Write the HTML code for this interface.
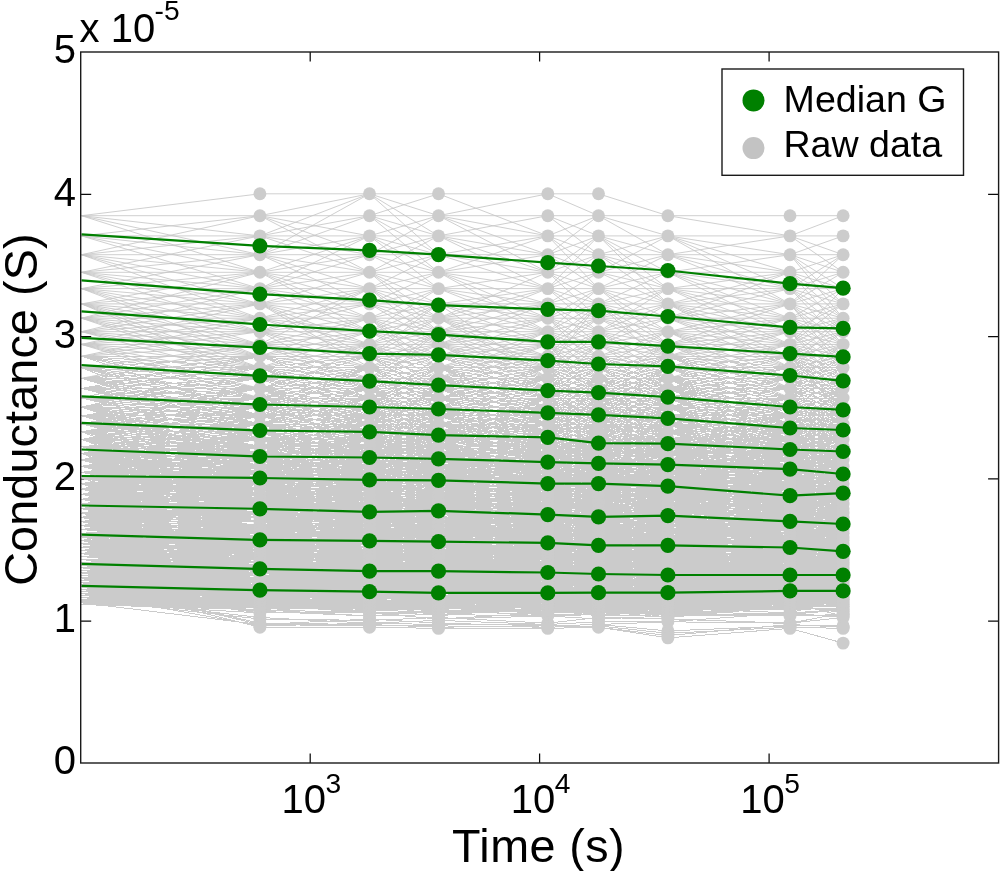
<!DOCTYPE html>
<html lang="en">
<head>
<meta charset="utf-8">
<title>Conductance vs Time</title>
<style>
html,body{margin:0;padding:0;background:#fff;}
body{width:1000px;height:871px;overflow:hidden;}
svg{display:block;}
text{fill:#000;}
</style>
</head>
<body>
<svg width="1000" height="871" viewBox="0 0 1000 871" font-family="'Liberation Sans', Arial, Helvetica, sans-serif">
<rect x="0" y="0" width="1000" height="871" fill="#fff"/>
<g id="ticks" fill="none" stroke="#0a0a0a" stroke-width="1.25"><path d="M310.2 763V753.5M310.2 52V61.5M539.6 763V753.5M539.6 52V61.5M769.1 763V753.5M769.1 52V61.5M80.7 621H91.2M998.6 621H988.1M80.7 478.8H91.2M998.6 478.8H988.1M80.7 336.6H91.2M998.6 336.6H988.1M80.7 194.4H91.2M998.6 194.4H988.1"/></g>
<g id="raw-lines" fill="none">
<path stroke="#c6c6c6" stroke-width="0.85" d="M81.5 215.7L259.9 193.8M81.5 215.7L259.9 215.7M81.5 215.7L259.9 235.9M81.5 215.7L259.9 254.7M81.5 215.7L259.9 272.3M81.5 235.9L259.9 215.7M81.5 235.9L259.9 235.9M81.5 235.9L259.9 254.7M81.5 235.9L259.9 272.3M81.5 235.9L259.9 288.6M81.5 254.7L259.9 215.7M81.5 254.7L259.9 235.9M81.5 254.7L259.9 254.7M81.5 254.7L259.9 272.3M81.5 254.7L259.9 288.6M81.5 254.7L259.9 303.9M81.5 254.7L259.9 318.2M81.5 272.3L259.9 235.9M81.5 272.3L259.9 254.7M81.5 272.3L259.9 272.3M81.5 272.3L259.9 288.6M81.5 272.3L259.9 303.9M81.5 272.3L259.9 318.2M81.5 272.3L259.9 331.7M81.5 288.6L259.9 254.7M81.5 288.6L259.9 272.3M81.5 288.6L259.9 288.6M81.5 288.6L259.9 303.9M81.5 288.6L259.9 318.2M81.5 288.6L259.9 331.7M81.5 288.6L259.9 344.4M81.5 288.6L259.9 356.3M81.5 303.9L259.9 272.3M81.5 303.9L259.9 288.6M81.5 318.2L259.9 272.3M81.5 318.2L259.9 288.6M81.5 331.7L259.9 288.6M259.9 193.8L369.5 193.8M259.9 215.7L369.5 193.8M259.9 215.7L369.5 215.7M259.9 215.7L369.5 235.9M259.9 215.7L369.5 254.7M259.9 215.7L369.5 272.3M259.9 235.9L369.5 193.8M259.9 235.9L369.5 215.7M259.9 235.9L369.5 235.9M259.9 235.9L369.5 254.7M259.9 235.9L369.5 272.3M259.9 254.7L369.5 193.8M259.9 254.7L369.5 215.7M259.9 254.7L369.5 235.9M259.9 254.7L369.5 254.7M259.9 254.7L369.5 272.3M259.9 254.7L369.5 288.6M259.9 254.7L369.5 303.9M259.9 272.3L369.5 235.9M259.9 272.3L369.5 254.7M259.9 272.3L369.5 272.3M259.9 272.3L369.5 288.6M259.9 272.3L369.5 303.9M259.9 272.3L369.5 318.2M259.9 272.3L369.5 331.7M259.9 288.6L369.5 235.9M259.9 288.6L369.5 254.7M259.9 288.6L369.5 272.3M259.9 288.6L369.5 288.6M259.9 288.6L369.5 303.9M259.9 288.6L369.5 318.2M259.9 288.6L369.5 331.7M259.9 303.9L369.5 272.3M259.9 303.9L369.5 288.6M259.9 318.2L369.5 288.6M259.9 331.7L369.5 288.6M259.9 344.4L369.5 288.6M369.5 193.8L438.5 193.8M369.5 193.8L438.5 215.7M369.5 193.8L438.5 235.9M369.5 193.8L438.5 254.7M369.5 215.7L438.5 193.8M369.5 215.7L438.5 215.7M369.5 215.7L438.5 235.9M369.5 215.7L438.5 254.7M369.5 215.7L438.5 272.3M369.5 235.9L438.5 215.7M369.5 235.9L438.5 235.9M369.5 235.9L438.5 254.7M369.5 235.9L438.5 272.3M369.5 235.9L438.5 288.6M369.5 254.7L438.5 215.7M369.5 254.7L438.5 235.9M369.5 254.7L438.5 254.7M369.5 254.7L438.5 272.3M369.5 254.7L438.5 288.6M369.5 272.3L438.5 235.9M369.5 272.3L438.5 254.7M369.5 272.3L438.5 272.3M369.5 272.3L438.5 288.6M369.5 272.3L438.5 303.9M369.5 272.3L438.5 318.2M369.5 272.3L438.5 331.7M369.5 288.6L438.5 254.7M369.5 288.6L438.5 272.3M369.5 288.6L438.5 288.6M369.5 288.6L438.5 303.9M369.5 288.6L438.5 318.2M369.5 288.6L438.5 331.7M369.5 288.6L438.5 344.4M369.5 303.9L438.5 272.3M369.5 303.9L438.5 288.6M369.5 318.2L438.5 288.6M369.5 331.7L438.5 288.6M438.5 193.8L547.8 193.8M438.5 193.8L547.8 235.9M438.5 215.7L547.8 193.8M438.5 215.7L547.8 215.7M438.5 215.7L547.8 235.9M438.5 215.7L547.8 254.7M438.5 215.7L547.8 272.3M438.5 235.9L547.8 215.7M438.5 235.9L547.8 235.9M438.5 235.9L547.8 254.7M438.5 235.9L547.8 272.3M438.5 235.9L547.8 288.6M438.5 254.7L547.8 235.9M438.5 254.7L547.8 254.7M438.5 254.7L547.8 272.3M438.5 254.7L547.8 288.6M438.5 272.3L547.8 235.9M438.5 272.3L547.8 254.7M438.5 272.3L547.8 272.3M438.5 272.3L547.8 288.6M438.5 272.3L547.8 303.9M438.5 272.3L547.8 318.2M438.5 272.3L547.8 331.7M438.5 288.6L547.8 272.3M438.5 288.6L547.8 288.6M438.5 288.6L547.8 303.9M438.5 288.6L547.8 318.2M438.5 288.6L547.8 331.7M438.5 303.9L547.8 288.6M438.5 318.2L547.8 272.3M438.5 318.2L547.8 288.6M438.5 331.7L547.8 288.6M547.8 193.8L598.5 193.8M547.8 193.8L598.5 215.7M547.8 215.7L598.5 215.7M547.8 215.7L598.5 235.9M547.8 215.7L598.5 254.7M547.8 235.9L598.5 215.7M547.8 235.9L598.5 235.9M547.8 235.9L598.5 254.7M547.8 235.9L598.5 272.3M547.8 235.9L598.5 288.6M547.8 254.7L598.5 215.7M547.8 254.7L598.5 235.9M547.8 254.7L598.5 254.7M547.8 254.7L598.5 272.3M547.8 254.7L598.5 288.6M547.8 272.3L598.5 235.9M547.8 272.3L598.5 254.7M547.8 272.3L598.5 272.3M547.8 272.3L598.5 288.6M547.8 272.3L598.5 303.9M547.8 272.3L598.5 318.2M547.8 288.6L598.5 235.9M547.8 288.6L598.5 254.7M547.8 288.6L598.5 272.3M547.8 288.6L598.5 288.6M547.8 288.6L598.5 303.9M547.8 288.6L598.5 318.2M547.8 288.6L598.5 331.7M547.8 303.9L598.5 272.3M547.8 303.9L598.5 288.6M547.8 318.2L598.5 288.6M547.8 331.7L598.5 288.6M598.5 193.8L667.9 215.7M598.5 215.7L667.9 215.7M598.5 215.7L667.9 235.9M598.5 215.7L667.9 254.7M598.5 235.9L667.9 235.9M598.5 235.9L667.9 254.7M598.5 235.9L667.9 272.3M598.5 235.9L667.9 288.6M598.5 235.9L667.9 303.9M598.5 254.7L667.9 235.9M598.5 254.7L667.9 254.7M598.5 254.7L667.9 272.3M598.5 254.7L667.9 288.6M598.5 254.7L667.9 303.9M598.5 272.3L667.9 235.9M598.5 272.3L667.9 254.7M598.5 272.3L667.9 272.3M598.5 272.3L667.9 288.6M598.5 272.3L667.9 303.9M598.5 288.6L667.9 254.7M598.5 288.6L667.9 272.3M598.5 288.6L667.9 288.6M598.5 288.6L667.9 303.9M598.5 288.6L667.9 318.2M598.5 288.6L667.9 331.7M598.5 288.6L667.9 344.4M598.5 303.9L667.9 272.3M598.5 303.9L667.9 288.6M598.5 318.2L667.9 288.6M598.5 331.7L667.9 288.6M667.9 215.7L790 215.7M667.9 215.7L790 235.9M667.9 235.9L790 235.9M667.9 235.9L790 254.7M667.9 235.9L790 272.3M667.9 235.9L790 288.6M667.9 235.9L790 303.9M667.9 254.7L790 235.9M667.9 254.7L790 254.7M667.9 254.7L790 272.3M667.9 254.7L790 288.6M667.9 254.7L790 303.9M667.9 272.3L790 254.7M667.9 272.3L790 272.3M667.9 272.3L790 288.6M667.9 272.3L790 303.9M667.9 272.3L790 318.2M667.9 272.3L790 331.7M667.9 288.6L790 272.3M667.9 288.6L790 288.6M667.9 288.6L790 303.9M667.9 288.6L790 318.2M667.9 288.6L790 331.7M667.9 288.6L790 344.4M667.9 303.9L790 272.3M667.9 303.9L790 288.6M667.9 318.2L790 272.3M667.9 318.2L790 288.6M790 215.7L843.1 215.7M790 235.9L843.1 215.7M790 235.9L843.1 235.9M790 235.9L843.1 254.7M790 235.9L843.1 272.3M790 254.7L843.1 235.9M790 254.7L843.1 254.7M790 254.7L843.1 272.3M790 254.7L843.1 288.6M790 254.7L843.1 303.9M790 254.7L843.1 318.2M790 272.3L843.1 254.7M790 272.3L843.1 272.3M790 272.3L843.1 288.6M790 272.3L843.1 303.9M790 272.3L843.1 318.2M790 272.3L843.1 331.7M790 288.6L843.1 254.7M790 288.6L843.1 272.3M790 288.6L843.1 288.6M790 288.6L843.1 303.9M790 288.6L843.1 318.2M790 288.6L843.1 331.7M790 288.6L843.1 344.4M790 303.9L843.1 254.7M790 303.9L843.1 272.3M790 303.9L843.1 288.6M790 318.2L843.1 288.6M790 344.4L843.1 288.6"/>
<path stroke="#c8c8c8" stroke-width="0.95" d="M81.5 303.9L259.9 303.9M81.5 303.9L259.9 318.2M81.5 303.9L259.9 331.7M81.5 303.9L259.9 344.4M81.5 303.9L259.9 356.3M81.5 303.9L259.9 367.6M81.5 303.9L259.9 378.3M81.5 318.2L259.9 303.9M81.5 318.2L259.9 318.2M81.5 318.2L259.9 331.7M81.5 318.2L259.9 344.4M81.5 318.2L259.9 356.3M81.5 318.2L259.9 367.6M81.5 318.2L259.9 378.3M81.5 331.7L259.9 303.9M81.5 331.7L259.9 318.2M81.5 331.7L259.9 331.7M81.5 331.7L259.9 344.4M81.5 331.7L259.9 356.3M81.5 331.7L259.9 367.6M81.5 331.7L259.9 378.3M81.5 344.4L259.9 303.9M81.5 344.4L259.9 318.2M81.5 344.4L259.9 331.7M81.5 344.4L259.9 344.4M81.5 344.4L259.9 356.3M81.5 344.4L259.9 367.6M81.5 344.4L259.9 378.3M81.5 344.4L259.9 388.4M81.5 344.4L259.9 398M81.5 356.3L259.9 318.2M81.5 356.3L259.9 331.7M81.5 356.3L259.9 344.4M81.5 367.6L259.9 344.4M81.5 378.3L259.9 344.4M259.9 303.9L369.5 303.9M259.9 303.9L369.5 318.2M259.9 303.9L369.5 331.7M259.9 303.9L369.5 344.4M259.9 303.9L369.5 356.3M259.9 303.9L369.5 367.6M259.9 318.2L369.5 303.9M259.9 318.2L369.5 318.2M259.9 318.2L369.5 331.7M259.9 318.2L369.5 344.4M259.9 318.2L369.5 356.3M259.9 331.7L369.5 303.9M259.9 331.7L369.5 318.2M259.9 331.7L369.5 331.7M259.9 331.7L369.5 344.4M259.9 331.7L369.5 356.3M259.9 331.7L369.5 367.6M259.9 331.7L369.5 388.4M259.9 344.4L369.5 318.2M259.9 344.4L369.5 331.7M259.9 344.4L369.5 344.4M259.9 344.4L369.5 356.3M259.9 344.4L369.5 367.6M259.9 344.4L369.5 378.3M259.9 344.4L369.5 388.4M259.9 356.3L369.5 318.2M259.9 356.3L369.5 331.7M259.9 356.3L369.5 344.4M259.9 367.6L369.5 331.7M259.9 367.6L369.5 344.4M259.9 378.3L369.5 344.4M259.9 398L369.5 344.4M369.5 303.9L438.5 303.9M369.5 303.9L438.5 318.2M369.5 303.9L438.5 331.7M369.5 303.9L438.5 344.4M369.5 318.2L438.5 303.9M369.5 318.2L438.5 318.2M369.5 318.2L438.5 331.7M369.5 318.2L438.5 344.4M369.5 318.2L438.5 356.3M369.5 318.2L438.5 367.6M369.5 318.2L438.5 378.3M369.5 331.7L438.5 303.9M369.5 331.7L438.5 318.2M369.5 331.7L438.5 331.7M369.5 331.7L438.5 344.4M369.5 331.7L438.5 356.3M369.5 331.7L438.5 367.6M369.5 344.4L438.5 303.9M369.5 344.4L438.5 318.2M369.5 344.4L438.5 331.7M369.5 344.4L438.5 344.4M369.5 344.4L438.5 356.3M369.5 344.4L438.5 367.6M369.5 344.4L438.5 378.3M369.5 344.4L438.5 388.4M369.5 356.3L438.5 303.9M369.5 356.3L438.5 318.2M369.5 356.3L438.5 331.7M369.5 356.3L438.5 344.4M369.5 367.6L438.5 331.7M369.5 367.6L438.5 344.4M369.5 378.3L438.5 331.7M369.5 378.3L438.5 344.4M369.5 388.4L438.5 331.7M438.5 303.9L547.8 303.9M438.5 303.9L547.8 318.2M438.5 303.9L547.8 331.7M438.5 303.9L547.8 344.4M438.5 303.9L547.8 378.3M438.5 318.2L547.8 303.9M438.5 318.2L547.8 318.2M438.5 318.2L547.8 331.7M438.5 318.2L547.8 344.4M438.5 318.2L547.8 356.3M438.5 318.2L547.8 367.6M438.5 318.2L547.8 378.3M438.5 331.7L547.8 303.9M438.5 331.7L547.8 318.2M438.5 331.7L547.8 331.7M438.5 331.7L547.8 344.4M438.5 331.7L547.8 356.3M438.5 331.7L547.8 367.6M438.5 331.7L547.8 378.3M438.5 331.7L547.8 388.4M438.5 344.4L547.8 303.9M438.5 344.4L547.8 318.2M438.5 344.4L547.8 331.7M438.5 344.4L547.8 344.4M438.5 344.4L547.8 356.3M438.5 344.4L547.8 367.6M438.5 344.4L547.8 378.3M438.5 344.4L547.8 388.4M438.5 344.4L547.8 398M438.5 356.3L547.8 318.2M438.5 356.3L547.8 331.7M438.5 356.3L547.8 344.4M438.5 367.6L547.8 331.7M438.5 367.6L547.8 344.4M438.5 378.3L547.8 331.7M438.5 378.3L547.8 344.4M438.5 388.4L547.8 344.4M547.8 303.9L598.5 303.9M547.8 303.9L598.5 318.2M547.8 303.9L598.5 331.7M547.8 303.9L598.5 344.4M547.8 318.2L598.5 303.9M547.8 318.2L598.5 318.2M547.8 318.2L598.5 331.7M547.8 318.2L598.5 344.4M547.8 318.2L598.5 356.3M547.8 318.2L598.5 367.6M547.8 331.7L598.5 303.9M547.8 331.7L598.5 318.2M547.8 331.7L598.5 331.7M547.8 331.7L598.5 344.4M547.8 331.7L598.5 356.3M547.8 331.7L598.5 367.6M547.8 331.7L598.5 378.3M547.8 344.4L598.5 303.9M547.8 344.4L598.5 318.2M547.8 344.4L598.5 331.7M547.8 344.4L598.5 344.4M547.8 344.4L598.5 356.3M547.8 344.4L598.5 367.6M547.8 344.4L598.5 378.3M547.8 344.4L598.5 388.4M547.8 344.4L598.5 398M547.8 356.3L598.5 303.9M547.8 356.3L598.5 318.2M547.8 356.3L598.5 331.7M547.8 356.3L598.5 344.4M547.8 367.6L598.5 303.9M547.8 367.6L598.5 331.7M547.8 367.6L598.5 344.4M547.8 378.3L598.5 331.7M547.8 378.3L598.5 344.4M547.8 388.4L598.5 344.4M598.5 303.9L667.9 303.9M598.5 303.9L667.9 318.2M598.5 303.9L667.9 331.7M598.5 303.9L667.9 344.4M598.5 303.9L667.9 356.3M598.5 303.9L667.9 367.6M598.5 318.2L667.9 303.9M598.5 318.2L667.9 318.2M598.5 318.2L667.9 331.7M598.5 318.2L667.9 344.4M598.5 318.2L667.9 356.3M598.5 331.7L667.9 303.9M598.5 331.7L667.9 318.2M598.5 331.7L667.9 331.7M598.5 331.7L667.9 344.4M598.5 331.7L667.9 356.3M598.5 331.7L667.9 367.6M598.5 331.7L667.9 378.3M598.5 344.4L667.9 303.9M598.5 344.4L667.9 318.2M598.5 344.4L667.9 331.7M598.5 344.4L667.9 344.4M598.5 344.4L667.9 356.3M598.5 344.4L667.9 367.6M598.5 344.4L667.9 378.3M598.5 344.4L667.9 388.4M598.5 356.3L667.9 331.7M598.5 356.3L667.9 344.4M598.5 367.6L667.9 331.7M598.5 367.6L667.9 344.4M598.5 378.3L667.9 344.4M598.5 388.4L667.9 344.4M667.9 303.9L790 303.9M667.9 303.9L790 318.2M667.9 303.9L790 331.7M667.9 303.9L790 344.4M667.9 303.9L790 356.3M667.9 303.9L790 367.6M667.9 318.2L790 303.9M667.9 318.2L790 318.2M667.9 318.2L790 331.7M667.9 318.2L790 344.4M667.9 318.2L790 356.3M667.9 318.2L790 367.6M667.9 331.7L790 303.9M667.9 331.7L790 318.2M667.9 331.7L790 331.7M667.9 331.7L790 344.4M667.9 331.7L790 356.3M667.9 331.7L790 367.6M667.9 331.7L790 378.3M667.9 331.7L790 388.4M667.9 344.4L790 303.9M667.9 344.4L790 318.2M667.9 344.4L790 331.7M667.9 344.4L790 344.4M667.9 344.4L790 356.3M667.9 344.4L790 367.6M667.9 344.4L790 378.3M667.9 344.4L790 388.4M667.9 344.4L790 398M667.9 356.3L790 318.2M667.9 356.3L790 331.7M667.9 356.3L790 344.4M667.9 367.6L790 331.7M667.9 367.6L790 344.4M667.9 378.3L790 344.4M790 303.9L843.1 303.9M790 303.9L843.1 318.2M790 303.9L843.1 331.7M790 303.9L843.1 344.4M790 303.9L843.1 356.3M790 303.9L843.1 367.6M790 318.2L843.1 303.9M790 318.2L843.1 318.2M790 318.2L843.1 331.7M790 318.2L843.1 344.4M790 318.2L843.1 356.3M790 318.2L843.1 367.6M790 331.7L843.1 303.9M790 331.7L843.1 318.2M790 331.7L843.1 331.7M790 331.7L843.1 344.4M790 331.7L843.1 356.3M790 331.7L843.1 367.6M790 331.7L843.1 378.3M790 331.7L843.1 388.4M790 344.4L843.1 303.9M790 344.4L843.1 318.2M790 344.4L843.1 331.7M790 344.4L843.1 344.4M790 344.4L843.1 356.3M790 344.4L843.1 367.6M790 344.4L843.1 378.3M790 344.4L843.1 388.4M790 344.4L843.1 398M790 344.4L843.1 415.8M790 356.3L843.1 318.2M790 356.3L843.1 331.7M790 356.3L843.1 344.4M790 367.6L843.1 318.2M790 367.6L843.1 331.7M790 367.6L843.1 344.4M790 378.3L843.1 344.4M790 388.4L843.1 344.4"/>
<path stroke="#cbcbcb" stroke-width="1" shape-rendering="crispEdges" d="M81.5 356.3L259.9 356.3M81.5 356.3L259.9 367.6M81.5 356.3L259.9 378.3M81.5 356.3L259.9 388.4M81.5 356.3L259.9 398M81.5 356.3L259.9 415.8M81.5 367.6L259.9 356.3M81.5 367.6L259.9 367.6M81.5 367.6L259.9 378.3M81.5 367.6L259.9 388.4M81.5 367.6L259.9 398M81.5 367.6L259.9 407.1M81.5 367.6L259.9 415.8M81.5 367.6L259.9 439.4M81.5 378.3L259.9 356.3M81.5 378.3L259.9 367.6M81.5 378.3L259.9 378.3M81.5 378.3L259.9 388.4M81.5 378.3L259.9 398M81.5 378.3L259.9 407.1M81.5 378.3L259.9 415.8M81.5 378.3L259.9 424M81.5 378.3L259.9 431.9M81.5 388.4L259.9 356.3M81.5 388.4L259.9 367.6M81.5 388.4L259.9 378.3M81.5 388.4L259.9 388.4M81.5 388.4L259.9 398M81.5 388.4L259.9 407.1M81.5 388.4L259.9 415.8M81.5 388.4L259.9 424M81.5 388.4L259.9 431.9M81.5 398L259.9 356.3M81.5 398L259.9 378.3M81.5 398L259.9 388.4M81.5 398L259.9 398M81.5 398L259.9 407.1M81.5 398L259.9 415.8M81.5 398L259.9 424M81.5 398L259.9 431.9M81.5 398L259.9 439.4M81.5 407.1L259.9 367.6M81.5 407.1L259.9 378.3M81.5 407.1L259.9 388.4M81.5 407.1L259.9 398M81.5 407.1L259.9 407.1M81.5 407.1L259.9 415.8M81.5 407.1L259.9 424M81.5 407.1L259.9 431.9M81.5 407.1L259.9 439.4M81.5 407.1L259.9 446.6M81.5 407.1L259.9 453.5M81.5 407.1L259.9 460M81.5 407.1L259.9 466.4M81.5 415.8L259.9 388.4M81.5 415.8L259.9 398M81.5 415.8L259.9 407.1M81.5 415.8L259.9 415.8M81.5 415.8L259.9 424M81.5 415.8L259.9 431.9M81.5 415.8L259.9 439.4M81.5 415.8L259.9 446.6M81.5 415.8L259.9 453.5M81.5 415.8L259.9 460M81.5 415.8L259.9 466.4M81.5 424L259.9 388.4M81.5 424L259.9 398M81.5 424L259.9 407.1M81.5 424L259.9 415.8M81.5 424L259.9 424M81.5 424L259.9 431.9M81.5 424L259.9 439.4M81.5 424L259.9 446.6M81.5 424L259.9 453.5M81.5 424L259.9 460M81.5 424L259.9 466.4M81.5 431.9L259.9 398M81.5 431.9L259.9 407.1M81.5 431.9L259.9 415.8M81.5 431.9L259.9 424M81.5 431.9L259.9 431.9M81.5 431.9L259.9 439.4M81.5 431.9L259.9 446.6M81.5 431.9L259.9 453.5M81.5 431.9L259.9 460M81.5 431.9L259.9 466.4M81.5 431.9L259.9 472.4M81.5 431.9L259.9 494.3M81.5 439.4L259.9 407.1M81.5 439.4L259.9 415.8M81.5 439.4L259.9 424M81.5 439.4L259.9 431.9M81.5 439.4L259.9 439.4M81.5 439.4L259.9 446.6M81.5 439.4L259.9 453.5M81.5 439.4L259.9 460M81.5 439.4L259.9 466.4M81.5 439.4L259.9 472.4M81.5 439.4L259.9 478.2M81.5 439.4L259.9 483.8M81.5 439.4L259.9 489.1M81.5 439.4L259.9 504.1M81.5 446.6L259.9 431.9M81.5 446.6L259.9 439.4M81.5 446.6L259.9 446.6M81.5 446.6L259.9 453.5M81.5 446.6L259.9 460M81.5 446.6L259.9 466.4M81.5 446.6L259.9 472.4M81.5 446.6L259.9 478.2M81.5 446.6L259.9 483.8M81.5 446.6L259.9 494.3M81.5 446.6L259.9 499.3M81.5 446.6L259.9 504.1M81.5 453.5L259.9 415.8M81.5 453.5L259.9 424M81.5 453.5L259.9 439.4M81.5 453.5L259.9 446.6M81.5 453.5L259.9 453.5M81.5 453.5L259.9 460M81.5 453.5L259.9 466.4M81.5 453.5L259.9 472.4M81.5 453.5L259.9 478.2M81.5 453.5L259.9 483.8M81.5 453.5L259.9 489.1M81.5 453.5L259.9 494.3M81.5 453.5L259.9 517.4M81.5 460L259.9 415.8M81.5 460L259.9 424M81.5 460L259.9 431.9M81.5 460L259.9 439.4M81.5 460L259.9 446.6M81.5 460L259.9 453.5M81.5 460L259.9 460M81.5 460L259.9 466.4M81.5 460L259.9 472.4M81.5 460L259.9 478.2M81.5 460L259.9 483.8M81.5 460L259.9 489.1M81.5 460L259.9 494.3M81.5 460L259.9 499.3M81.5 460L259.9 504.1M81.5 460L259.9 508.7M81.5 466.4L259.9 431.9M81.5 466.4L259.9 439.4M81.5 466.4L259.9 446.6M81.5 466.4L259.9 453.5M81.5 466.4L259.9 460M81.5 466.4L259.9 466.4M81.5 466.4L259.9 472.4M81.5 466.4L259.9 478.2M81.5 466.4L259.9 483.8M81.5 466.4L259.9 489.1M81.5 466.4L259.9 494.3M81.5 466.4L259.9 499.3M81.5 466.4L259.9 504.1M81.5 466.4L259.9 508.7M81.5 472.4L259.9 446.6M81.5 472.4L259.9 453.5M81.5 472.4L259.9 460M81.5 472.4L259.9 466.4M81.5 472.4L259.9 472.4M81.5 472.4L259.9 478.2M81.5 472.4L259.9 483.8M81.5 472.4L259.9 489.1M81.5 472.4L259.9 494.3M81.5 472.4L259.9 499.3M81.5 472.4L259.9 504.1M81.5 478.2L259.9 431.9M81.5 478.2L259.9 453.5M81.5 478.2L259.9 460M81.5 478.2L259.9 466.4M81.5 478.2L259.9 472.4M81.5 478.2L259.9 478.2M81.5 478.2L259.9 483.8M81.5 478.2L259.9 489.1M81.5 478.2L259.9 494.3M81.5 478.2L259.9 499.3M81.5 478.2L259.9 504.1M81.5 478.2L259.9 508.7M81.5 478.2L259.9 529.5M81.5 483.8L259.9 446.6M81.5 483.8L259.9 466.4M81.5 483.8L259.9 472.4M81.5 483.8L259.9 478.2M81.5 483.8L259.9 483.8M81.5 483.8L259.9 489.1M81.5 483.8L259.9 494.3M81.5 483.8L259.9 499.3M81.5 483.8L259.9 504.1M81.5 483.8L259.9 513.1M81.5 483.8L259.9 533.2M81.5 483.8L259.9 540.4M81.5 489.1L259.9 446.6M81.5 489.1L259.9 460M81.5 489.1L259.9 466.4M81.5 489.1L259.9 472.4M81.5 489.1L259.9 478.2M81.5 489.1L259.9 483.8M81.5 489.1L259.9 489.1M81.5 489.1L259.9 494.3M81.5 489.1L259.9 499.3M81.5 489.1L259.9 504.1M81.5 489.1L259.9 508.7M81.5 489.1L259.9 513.1M81.5 489.1L259.9 517.4M81.5 489.1L259.9 521.6M81.5 489.1L259.9 533.2M81.5 494.3L259.9 460M81.5 494.3L259.9 466.4M81.5 494.3L259.9 472.4M81.5 494.3L259.9 478.2M81.5 494.3L259.9 483.8M81.5 494.3L259.9 489.1M81.5 494.3L259.9 494.3M81.5 494.3L259.9 499.3M81.5 494.3L259.9 504.1M81.5 494.3L259.9 508.7M81.5 494.3L259.9 513.1M81.5 494.3L259.9 517.4M81.5 494.3L259.9 521.6M81.5 494.3L259.9 529.5M81.5 494.3L259.9 533.2M81.5 499.3L259.9 466.4M81.5 499.3L259.9 472.4M81.5 499.3L259.9 478.2M81.5 499.3L259.9 483.8M81.5 499.3L259.9 489.1M81.5 499.3L259.9 494.3M81.5 499.3L259.9 499.3M81.5 499.3L259.9 504.1M81.5 499.3L259.9 508.7M81.5 499.3L259.9 513.1M81.5 499.3L259.9 517.4M81.5 499.3L259.9 521.6M81.5 499.3L259.9 533.2M81.5 504.1L259.9 472.4M81.5 504.1L259.9 483.8M81.5 504.1L259.9 489.1M81.5 504.1L259.9 494.3M81.5 504.1L259.9 499.3M81.5 504.1L259.9 504.1M81.5 504.1L259.9 508.7M81.5 504.1L259.9 513.1M81.5 504.1L259.9 517.4M81.5 504.1L259.9 521.6M81.5 504.1L259.9 525.6M81.5 504.1L259.9 529.5M81.5 504.1L259.9 533.2M81.5 504.1L259.9 547.1M81.5 508.7L259.9 472.4M81.5 508.7L259.9 483.8M81.5 508.7L259.9 494.3M81.5 508.7L259.9 499.3M81.5 508.7L259.9 504.1M81.5 508.7L259.9 508.7M81.5 508.7L259.9 513.1M81.5 508.7L259.9 517.4M81.5 508.7L259.9 521.6M81.5 508.7L259.9 525.6M81.5 508.7L259.9 529.5M81.5 508.7L259.9 533.2M81.5 508.7L259.9 543.8M81.5 513.1L259.9 483.8M81.5 513.1L259.9 489.1M81.5 513.1L259.9 494.3M81.5 513.1L259.9 499.3M81.5 513.1L259.9 504.1M81.5 513.1L259.9 508.7M81.5 513.1L259.9 513.1M81.5 513.1L259.9 517.4M81.5 513.1L259.9 521.6M81.5 513.1L259.9 525.6M81.5 513.1L259.9 529.5M81.5 513.1L259.9 533.2M81.5 513.1L259.9 536.9M81.5 513.1L259.9 540.4M81.5 513.1L259.9 550.4M81.5 513.1L259.9 553.5M81.5 517.4L259.9 466.4M81.5 517.4L259.9 472.4M81.5 517.4L259.9 478.2M81.5 517.4L259.9 499.3M81.5 517.4L259.9 504.1M81.5 517.4L259.9 508.7M81.5 517.4L259.9 513.1M81.5 517.4L259.9 517.4M81.5 517.4L259.9 521.6M81.5 517.4L259.9 525.6M81.5 517.4L259.9 529.5M81.5 517.4L259.9 533.2M81.5 517.4L259.9 536.9M81.5 517.4L259.9 540.4M81.5 517.4L259.9 543.8M81.5 517.4L259.9 556.5M81.5 521.6L259.9 494.3M81.5 521.6L259.9 499.3M81.5 521.6L259.9 504.1M81.5 521.6L259.9 508.7M81.5 521.6L259.9 513.1M81.5 521.6L259.9 517.4M81.5 521.6L259.9 521.6M81.5 521.6L259.9 525.6M81.5 521.6L259.9 529.5M81.5 521.6L259.9 533.2M81.5 521.6L259.9 536.9M81.5 521.6L259.9 540.4M81.5 521.6L259.9 543.8M81.5 521.6L259.9 547.1M81.5 521.6L259.9 550.4M81.5 521.6L259.9 559.5M81.5 525.6L259.9 499.3M81.5 525.6L259.9 513.1M81.5 525.6L259.9 517.4M81.5 525.6L259.9 521.6M81.5 525.6L259.9 525.6M81.5 525.6L259.9 529.5M81.5 525.6L259.9 533.2M81.5 525.6L259.9 536.9M81.5 525.6L259.9 540.4M81.5 525.6L259.9 543.8M81.5 525.6L259.9 547.1M81.5 525.6L259.9 553.5M81.5 529.5L259.9 504.1M81.5 529.5L259.9 517.4M81.5 529.5L259.9 525.6M81.5 529.5L259.9 529.5M81.5 529.5L259.9 533.2M81.5 529.5L259.9 536.9M81.5 529.5L259.9 540.4M81.5 529.5L259.9 543.8M81.5 529.5L259.9 547.1M81.5 533.2L259.9 525.6M81.5 533.2L259.9 533.2M81.5 533.2L259.9 536.9M81.5 533.2L259.9 540.4M81.5 533.2L259.9 543.8M81.5 533.2L259.9 547.1M81.5 533.2L259.9 550.4M81.5 533.2L259.9 553.5M81.5 536.9L259.9 525.6M81.5 536.9L259.9 529.5M81.5 536.9L259.9 533.2M81.5 536.9L259.9 536.9M81.5 536.9L259.9 540.4M81.5 536.9L259.9 543.8M81.5 536.9L259.9 550.4M81.5 536.9L259.9 553.5M81.5 536.9L259.9 556.5M81.5 536.9L259.9 562.3M81.5 536.9L259.9 567.8M81.5 536.9L259.9 573M81.5 540.4L259.9 513.1M81.5 540.4L259.9 536.9M81.5 540.4L259.9 540.4M81.5 540.4L259.9 543.8M81.5 540.4L259.9 547.1M81.5 540.4L259.9 550.4M81.5 540.4L259.9 553.5M81.5 540.4L259.9 570.4M81.5 540.4L259.9 584.9M81.5 543.8L259.9 529.5M81.5 543.8L259.9 533.2M81.5 543.8L259.9 536.9M81.5 543.8L259.9 540.4M81.5 543.8L259.9 543.8M81.5 543.8L259.9 547.1M81.5 543.8L259.9 550.4M81.5 543.8L259.9 553.5M81.5 543.8L259.9 567.8M81.5 547.1L259.9 533.2M81.5 547.1L259.9 536.9M81.5 547.1L259.9 540.4M81.5 547.1L259.9 543.8M81.5 547.1L259.9 547.1M81.5 547.1L259.9 550.4M81.5 547.1L259.9 553.5M81.5 547.1L259.9 556.5M81.5 547.1L259.9 559.5M81.5 547.1L259.9 562.3M81.5 547.1L259.9 565.1M81.5 547.1L259.9 567.8M81.5 550.4L259.9 529.5M81.5 550.4L259.9 536.9M81.5 550.4L259.9 543.8M81.5 550.4L259.9 547.1M81.5 550.4L259.9 550.4M81.5 550.4L259.9 553.5M81.5 550.4L259.9 556.5M81.5 550.4L259.9 559.5M81.5 550.4L259.9 562.3M81.5 550.4L259.9 567.8M81.5 550.4L259.9 570.4M81.5 553.5L259.9 529.5M81.5 553.5L259.9 540.4M81.5 553.5L259.9 543.8M81.5 553.5L259.9 547.1M81.5 553.5L259.9 550.4M81.5 553.5L259.9 553.5M81.5 553.5L259.9 556.5M81.5 553.5L259.9 559.5M81.5 553.5L259.9 562.3M81.5 553.5L259.9 565.1M81.5 553.5L259.9 567.8M81.5 553.5L259.9 570.4M81.5 553.5L259.9 582.6M81.5 553.5L259.9 587M81.5 556.5L259.9 547.1M81.5 556.5L259.9 553.5M81.5 556.5L259.9 559.5M81.5 556.5L259.9 562.3M81.5 556.5L259.9 565.1M81.5 556.5L259.9 567.8M81.5 556.5L259.9 573M81.5 559.5L259.9 556.5M81.5 559.5L259.9 559.5M81.5 559.5L259.9 562.3M81.5 559.5L259.9 565.1M81.5 559.5L259.9 567.8M81.5 559.5L259.9 573M81.5 559.5L259.9 580.3M81.5 562.3L259.9 556.5M81.5 562.3L259.9 559.5M81.5 562.3L259.9 562.3M81.5 562.3L259.9 565.1M81.5 562.3L259.9 567.8M81.5 562.3L259.9 570.4M81.5 562.3L259.9 573M81.5 562.3L259.9 575.5M81.5 562.3L259.9 577.9M81.5 565.1L259.9 559.5M81.5 565.1L259.9 562.3M81.5 565.1L259.9 565.1M81.5 565.1L259.9 567.8M81.5 565.1L259.9 570.4M81.5 565.1L259.9 573M81.5 565.1L259.9 577.9M81.5 565.1L259.9 580.3M81.5 565.1L259.9 587M81.5 567.8L259.9 540.4M81.5 567.8L259.9 553.5M81.5 567.8L259.9 556.5M81.5 567.8L259.9 562.3M81.5 567.8L259.9 567.8M81.5 567.8L259.9 570.4M81.5 567.8L259.9 573M81.5 567.8L259.9 575.5M81.5 567.8L259.9 577.9M81.5 567.8L259.9 580.3M81.5 567.8L259.9 582.6M81.5 567.8L259.9 584.9M81.5 567.8L259.9 587M81.5 567.8L259.9 591.3M81.5 570.4L259.9 562.3M81.5 570.4L259.9 565.1M81.5 570.4L259.9 567.8M81.5 570.4L259.9 570.4M81.5 570.4L259.9 573M81.5 570.4L259.9 575.5M81.5 570.4L259.9 577.9M81.5 570.4L259.9 580.3M81.5 570.4L259.9 582.6M81.5 570.4L259.9 584.9M81.5 570.4L259.9 587M81.5 570.4L259.9 589.2M81.5 573L259.9 567.8M81.5 573L259.9 573M81.5 573L259.9 575.5M81.5 573L259.9 577.9M81.5 573L259.9 580.3M81.5 573L259.9 582.6M81.5 573L259.9 584.9M81.5 573L259.9 587M81.5 573L259.9 589.2M81.5 573L259.9 599.2M81.5 575.5L259.9 567.8M81.5 575.5L259.9 570.4M81.5 575.5L259.9 573M81.5 575.5L259.9 575.5M81.5 575.5L259.9 577.9M81.5 575.5L259.9 580.3M81.5 575.5L259.9 582.6M81.5 575.5L259.9 584.9M81.5 575.5L259.9 587M81.5 575.5L259.9 589.2M81.5 577.9L259.9 567.8M81.5 577.9L259.9 573M81.5 577.9L259.9 575.5M81.5 577.9L259.9 577.9M81.5 577.9L259.9 580.3M81.5 577.9L259.9 582.6M81.5 577.9L259.9 584.9M81.5 577.9L259.9 587M81.5 577.9L259.9 589.2M81.5 577.9L259.9 593.3M81.5 577.9L259.9 601M81.5 580.3L259.9 556.5M81.5 580.3L259.9 570.4M81.5 580.3L259.9 573M81.5 580.3L259.9 575.5M81.5 580.3L259.9 577.9M81.5 580.3L259.9 580.3M81.5 580.3L259.9 582.6M81.5 580.3L259.9 584.9M81.5 580.3L259.9 587M81.5 580.3L259.9 589.2M81.5 580.3L259.9 591.3M81.5 580.3L259.9 593.3M81.5 580.3L259.9 595.3M81.5 580.3L259.9 597.3M81.5 582.6L259.9 573M81.5 582.6L259.9 575.5M81.5 582.6L259.9 580.3M81.5 582.6L259.9 582.6M81.5 582.6L259.9 584.9M81.5 582.6L259.9 587M81.5 582.6L259.9 589.2M81.5 582.6L259.9 591.3M81.5 582.6L259.9 593.3M81.5 582.6L259.9 595.3M81.5 582.6L259.9 599.2M81.5 582.6L259.9 623.2M81.5 582.6L259.9 624.5M81.5 582.6L259.9 627.2M81.5 584.9L259.9 584.9M81.5 584.9L259.9 587M81.5 584.9L259.9 589.2M81.5 584.9L259.9 591.3M81.5 584.9L259.9 593.3M81.5 584.9L259.9 595.3M81.5 584.9L259.9 597.3M81.5 584.9L259.9 599.2M81.5 584.9L259.9 604.6M81.5 587L259.9 584.9M81.5 587L259.9 589.2M81.5 587L259.9 591.3M81.5 587L259.9 593.3M81.5 587L259.9 595.3M81.5 589.2L259.9 582.6M81.5 589.2L259.9 589.2M81.5 589.2L259.9 591.3M81.5 589.2L259.9 593.3M81.5 589.2L259.9 595.3M81.5 589.2L259.9 597.3M81.5 589.2L259.9 601M81.5 589.2L259.9 611.3M81.5 589.2L259.9 612.9M81.5 591.3L259.9 580.3M81.5 591.3L259.9 587M81.5 591.3L259.9 589.2M81.5 591.3L259.9 591.3M81.5 591.3L259.9 593.3M81.5 591.3L259.9 595.3M81.5 593.3L259.9 584.9M81.5 593.3L259.9 591.3M81.5 593.3L259.9 593.3M81.5 593.3L259.9 595.3M81.5 593.3L259.9 597.3M81.5 593.3L259.9 599.2M81.5 593.3L259.9 601M81.5 593.3L259.9 602.8M81.5 593.3L259.9 604.6M81.5 593.3L259.9 608M81.5 593.3L259.9 625.9M81.5 595.3L259.9 587M81.5 595.3L259.9 593.3M81.5 595.3L259.9 595.3M81.5 595.3L259.9 602.8M81.5 595.3L259.9 604.6M81.5 595.3L259.9 611.3M81.5 597.3L259.9 593.3M81.5 597.3L259.9 595.3M81.5 597.3L259.9 599.2M81.5 597.3L259.9 601M81.5 597.3L259.9 602.8M81.5 597.3L259.9 604.6M81.5 597.3L259.9 606.3M81.5 597.3L259.9 608M81.5 597.3L259.9 617.5M81.5 599.2L259.9 593.3M81.5 599.2L259.9 597.3M81.5 599.2L259.9 599.2M81.5 599.2L259.9 601M81.5 599.2L259.9 604.6M81.5 599.2L259.9 608M81.5 599.2L259.9 619M81.5 601L259.9 577.9M81.5 601L259.9 593.3M81.5 601L259.9 595.3M81.5 601L259.9 597.3M81.5 601L259.9 601M81.5 601L259.9 602.8M81.5 601L259.9 609.7M81.5 602.8L259.9 597.3M81.5 602.8L259.9 601M81.5 602.8L259.9 602.8M81.5 602.8L259.9 604.6M81.5 602.8L259.9 606.3M81.5 602.8L259.9 608M81.5 602.8L259.9 609.7M81.5 602.8L259.9 612.9M81.5 602.8L259.9 624.5M81.5 604.6L259.9 602.8M81.5 604.6L259.9 604.6M81.5 604.6L259.9 606.3M81.5 604.6L259.9 609.7M259.9 356.3L369.5 356.3M259.9 356.3L369.5 367.6M259.9 356.3L369.5 378.3M259.9 356.3L369.5 388.4M259.9 356.3L369.5 398M259.9 367.6L369.5 356.3M259.9 367.6L369.5 367.6M259.9 367.6L369.5 378.3M259.9 367.6L369.5 388.4M259.9 367.6L369.5 398M259.9 367.6L369.5 407.1M259.9 367.6L369.5 415.8M259.9 378.3L369.5 356.3M259.9 378.3L369.5 367.6M259.9 378.3L369.5 378.3M259.9 378.3L369.5 388.4M259.9 378.3L369.5 398M259.9 378.3L369.5 407.1M259.9 378.3L369.5 424M259.9 388.4L369.5 356.3M259.9 388.4L369.5 367.6M259.9 388.4L369.5 378.3M259.9 388.4L369.5 388.4M259.9 388.4L369.5 398M259.9 388.4L369.5 407.1M259.9 388.4L369.5 415.8M259.9 388.4L369.5 424M259.9 388.4L369.5 431.9M259.9 388.4L369.5 439.4M259.9 398L369.5 367.6M259.9 398L369.5 378.3M259.9 398L369.5 388.4M259.9 398L369.5 398M259.9 398L369.5 407.1M259.9 398L369.5 415.8M259.9 398L369.5 424M259.9 398L369.5 431.9M259.9 398L369.5 453.5M259.9 407.1L369.5 367.6M259.9 407.1L369.5 378.3M259.9 407.1L369.5 388.4M259.9 407.1L369.5 398M259.9 407.1L369.5 407.1M259.9 407.1L369.5 415.8M259.9 407.1L369.5 424M259.9 407.1L369.5 431.9M259.9 407.1L369.5 439.4M259.9 407.1L369.5 453.5M259.9 415.8L369.5 367.6M259.9 415.8L369.5 388.4M259.9 415.8L369.5 398M259.9 415.8L369.5 407.1M259.9 415.8L369.5 415.8M259.9 415.8L369.5 424M259.9 415.8L369.5 431.9M259.9 415.8L369.5 439.4M259.9 415.8L369.5 446.6M259.9 424L369.5 388.4M259.9 424L369.5 398M259.9 424L369.5 407.1M259.9 424L369.5 415.8M259.9 424L369.5 424M259.9 424L369.5 431.9M259.9 424L369.5 439.4M259.9 424L369.5 446.6M259.9 424L369.5 453.5M259.9 424L369.5 460M259.9 431.9L369.5 398M259.9 431.9L369.5 407.1M259.9 431.9L369.5 415.8M259.9 431.9L369.5 424M259.9 431.9L369.5 431.9M259.9 431.9L369.5 439.4M259.9 431.9L369.5 446.6M259.9 431.9L369.5 453.5M259.9 431.9L369.5 460M259.9 431.9L369.5 466.4M259.9 431.9L369.5 472.4M259.9 439.4L369.5 415.8M259.9 439.4L369.5 424M259.9 439.4L369.5 431.9M259.9 439.4L369.5 439.4M259.9 439.4L369.5 446.6M259.9 439.4L369.5 453.5M259.9 439.4L369.5 460M259.9 439.4L369.5 466.4M259.9 439.4L369.5 472.4M259.9 439.4L369.5 478.2M259.9 446.6L369.5 407.1M259.9 446.6L369.5 415.8M259.9 446.6L369.5 424M259.9 446.6L369.5 431.9M259.9 446.6L369.5 439.4M259.9 446.6L369.5 446.6M259.9 446.6L369.5 453.5M259.9 446.6L369.5 460M259.9 446.6L369.5 466.4M259.9 446.6L369.5 478.2M259.9 446.6L369.5 483.8M259.9 453.5L369.5 415.8M259.9 453.5L369.5 424M259.9 453.5L369.5 431.9M259.9 453.5L369.5 439.4M259.9 453.5L369.5 446.6M259.9 453.5L369.5 453.5M259.9 453.5L369.5 460M259.9 453.5L369.5 466.4M259.9 453.5L369.5 472.4M259.9 453.5L369.5 478.2M259.9 453.5L369.5 483.8M259.9 453.5L369.5 489.1M259.9 460L369.5 415.8M259.9 460L369.5 431.9M259.9 460L369.5 439.4M259.9 460L369.5 446.6M259.9 460L369.5 453.5M259.9 460L369.5 460M259.9 460L369.5 466.4M259.9 460L369.5 472.4M259.9 460L369.5 478.2M259.9 460L369.5 483.8M259.9 460L369.5 489.1M259.9 460L369.5 494.3M259.9 466.4L369.5 431.9M259.9 466.4L369.5 439.4M259.9 466.4L369.5 446.6M259.9 466.4L369.5 453.5M259.9 466.4L369.5 460M259.9 466.4L369.5 466.4M259.9 466.4L369.5 472.4M259.9 466.4L369.5 478.2M259.9 466.4L369.5 483.8M259.9 466.4L369.5 489.1M259.9 466.4L369.5 494.3M259.9 466.4L369.5 504.1M259.9 472.4L369.5 431.9M259.9 472.4L369.5 439.4M259.9 472.4L369.5 446.6M259.9 472.4L369.5 453.5M259.9 472.4L369.5 460M259.9 472.4L369.5 466.4M259.9 472.4L369.5 472.4M259.9 472.4L369.5 478.2M259.9 472.4L369.5 483.8M259.9 472.4L369.5 489.1M259.9 472.4L369.5 494.3M259.9 472.4L369.5 499.3M259.9 472.4L369.5 513.1M259.9 478.2L369.5 431.9M259.9 478.2L369.5 453.5M259.9 478.2L369.5 460M259.9 478.2L369.5 466.4M259.9 478.2L369.5 472.4M259.9 478.2L369.5 478.2M259.9 478.2L369.5 483.8M259.9 478.2L369.5 489.1M259.9 478.2L369.5 494.3M259.9 478.2L369.5 499.3M259.9 478.2L369.5 508.7M259.9 478.2L369.5 517.4M259.9 483.8L369.5 446.6M259.9 483.8L369.5 453.5M259.9 483.8L369.5 460M259.9 483.8L369.5 466.4M259.9 483.8L369.5 472.4M259.9 483.8L369.5 478.2M259.9 483.8L369.5 483.8M259.9 483.8L369.5 489.1M259.9 483.8L369.5 494.3M259.9 483.8L369.5 499.3M259.9 483.8L369.5 504.1M259.9 483.8L369.5 508.7M259.9 483.8L369.5 513.1M259.9 489.1L369.5 453.5M259.9 489.1L369.5 460M259.9 489.1L369.5 466.4M259.9 489.1L369.5 472.4M259.9 489.1L369.5 478.2M259.9 489.1L369.5 483.8M259.9 489.1L369.5 489.1M259.9 489.1L369.5 494.3M259.9 489.1L369.5 499.3M259.9 489.1L369.5 504.1M259.9 489.1L369.5 508.7M259.9 489.1L369.5 513.1M259.9 489.1L369.5 517.4M259.9 489.1L369.5 521.6M259.9 494.3L369.5 466.4M259.9 494.3L369.5 472.4M259.9 494.3L369.5 478.2M259.9 494.3L369.5 483.8M259.9 494.3L369.5 489.1M259.9 494.3L369.5 494.3M259.9 494.3L369.5 499.3M259.9 494.3L369.5 504.1M259.9 494.3L369.5 508.7M259.9 494.3L369.5 513.1M259.9 494.3L369.5 517.4M259.9 494.3L369.5 521.6M259.9 499.3L369.5 460M259.9 499.3L369.5 472.4M259.9 499.3L369.5 483.8M259.9 499.3L369.5 489.1M259.9 499.3L369.5 494.3M259.9 499.3L369.5 499.3M259.9 499.3L369.5 504.1M259.9 499.3L369.5 508.7M259.9 499.3L369.5 513.1M259.9 499.3L369.5 517.4M259.9 499.3L369.5 521.6M259.9 499.3L369.5 525.6M259.9 504.1L369.5 466.4M259.9 504.1L369.5 478.2M259.9 504.1L369.5 483.8M259.9 504.1L369.5 489.1M259.9 504.1L369.5 494.3M259.9 504.1L369.5 499.3M259.9 504.1L369.5 504.1M259.9 504.1L369.5 508.7M259.9 504.1L369.5 513.1M259.9 504.1L369.5 517.4M259.9 504.1L369.5 521.6M259.9 504.1L369.5 525.6M259.9 504.1L369.5 529.5M259.9 504.1L369.5 533.2M259.9 504.1L369.5 543.8M259.9 508.7L369.5 478.2M259.9 508.7L369.5 483.8M259.9 508.7L369.5 489.1M259.9 508.7L369.5 494.3M259.9 508.7L369.5 499.3M259.9 508.7L369.5 504.1M259.9 508.7L369.5 508.7M259.9 508.7L369.5 513.1M259.9 508.7L369.5 517.4M259.9 508.7L369.5 521.6M259.9 508.7L369.5 525.6M259.9 508.7L369.5 529.5M259.9 508.7L369.5 543.8M259.9 513.1L369.5 483.8M259.9 513.1L369.5 489.1M259.9 513.1L369.5 494.3M259.9 513.1L369.5 499.3M259.9 513.1L369.5 504.1M259.9 513.1L369.5 508.7M259.9 513.1L369.5 513.1M259.9 513.1L369.5 517.4M259.9 513.1L369.5 521.6M259.9 513.1L369.5 525.6M259.9 513.1L369.5 529.5M259.9 517.4L369.5 489.1M259.9 517.4L369.5 499.3M259.9 517.4L369.5 508.7M259.9 517.4L369.5 513.1M259.9 517.4L369.5 517.4M259.9 517.4L369.5 521.6M259.9 517.4L369.5 525.6M259.9 517.4L369.5 529.5M259.9 517.4L369.5 533.2M259.9 517.4L369.5 536.9M259.9 517.4L369.5 540.4M259.9 517.4L369.5 543.8M259.9 521.6L369.5 478.2M259.9 521.6L369.5 494.3M259.9 521.6L369.5 504.1M259.9 521.6L369.5 508.7M259.9 521.6L369.5 513.1M259.9 521.6L369.5 517.4M259.9 521.6L369.5 521.6M259.9 521.6L369.5 525.6M259.9 521.6L369.5 529.5M259.9 521.6L369.5 533.2M259.9 521.6L369.5 536.9M259.9 521.6L369.5 540.4M259.9 521.6L369.5 543.8M259.9 525.6L369.5 504.1M259.9 525.6L369.5 508.7M259.9 525.6L369.5 513.1M259.9 525.6L369.5 517.4M259.9 525.6L369.5 521.6M259.9 525.6L369.5 525.6M259.9 525.6L369.5 529.5M259.9 525.6L369.5 533.2M259.9 525.6L369.5 536.9M259.9 525.6L369.5 540.4M259.9 525.6L369.5 543.8M259.9 529.5L369.5 499.3M259.9 529.5L369.5 508.7M259.9 529.5L369.5 513.1M259.9 529.5L369.5 517.4M259.9 529.5L369.5 521.6M259.9 529.5L369.5 525.6M259.9 529.5L369.5 529.5M259.9 529.5L369.5 533.2M259.9 529.5L369.5 536.9M259.9 529.5L369.5 540.4M259.9 529.5L369.5 543.8M259.9 529.5L369.5 556.5M259.9 533.2L369.5 508.7M259.9 533.2L369.5 517.4M259.9 533.2L369.5 521.6M259.9 533.2L369.5 525.6M259.9 533.2L369.5 529.5M259.9 533.2L369.5 533.2M259.9 533.2L369.5 536.9M259.9 533.2L369.5 540.4M259.9 533.2L369.5 543.8M259.9 533.2L369.5 547.1M259.9 533.2L369.5 550.4M259.9 533.2L369.5 556.5M259.9 533.2L369.5 559.5M259.9 536.9L369.5 521.6M259.9 536.9L369.5 529.5M259.9 536.9L369.5 533.2M259.9 536.9L369.5 536.9M259.9 536.9L369.5 540.4M259.9 536.9L369.5 543.8M259.9 536.9L369.5 547.1M259.9 536.9L369.5 553.5M259.9 536.9L369.5 559.5M259.9 540.4L369.5 525.6M259.9 540.4L369.5 529.5M259.9 540.4L369.5 533.2M259.9 540.4L369.5 536.9M259.9 540.4L369.5 540.4M259.9 540.4L369.5 543.8M259.9 540.4L369.5 547.1M259.9 540.4L369.5 550.4M259.9 540.4L369.5 559.5M259.9 543.8L369.5 521.6M259.9 543.8L369.5 525.6M259.9 543.8L369.5 529.5M259.9 543.8L369.5 533.2M259.9 543.8L369.5 540.4M259.9 543.8L369.5 543.8M259.9 543.8L369.5 547.1M259.9 543.8L369.5 550.4M259.9 543.8L369.5 553.5M259.9 543.8L369.5 556.5M259.9 543.8L369.5 559.5M259.9 543.8L369.5 562.3M259.9 543.8L369.5 565.1M259.9 543.8L369.5 567.8M259.9 547.1L369.5 533.2M259.9 547.1L369.5 536.9M259.9 547.1L369.5 543.8M259.9 547.1L369.5 547.1M259.9 547.1L369.5 550.4M259.9 547.1L369.5 553.5M259.9 547.1L369.5 556.5M259.9 547.1L369.5 565.1M259.9 547.1L369.5 567.8M259.9 550.4L369.5 517.4M259.9 550.4L369.5 540.4M259.9 550.4L369.5 543.8M259.9 550.4L369.5 547.1M259.9 550.4L369.5 550.4M259.9 550.4L369.5 553.5M259.9 550.4L369.5 556.5M259.9 550.4L369.5 559.5M259.9 550.4L369.5 562.3M259.9 550.4L369.5 565.1M259.9 550.4L369.5 567.8M259.9 553.5L369.5 536.9M259.9 553.5L369.5 540.4M259.9 553.5L369.5 543.8M259.9 553.5L369.5 547.1M259.9 553.5L369.5 550.4M259.9 553.5L369.5 553.5M259.9 553.5L369.5 556.5M259.9 553.5L369.5 559.5M259.9 553.5L369.5 562.3M259.9 553.5L369.5 567.8M259.9 553.5L369.5 573M259.9 556.5L369.5 540.4M259.9 556.5L369.5 550.4M259.9 556.5L369.5 553.5M259.9 556.5L369.5 556.5M259.9 556.5L369.5 559.5M259.9 556.5L369.5 562.3M259.9 556.5L369.5 565.1M259.9 556.5L369.5 567.8M259.9 556.5L369.5 573M259.9 559.5L369.5 547.1M259.9 559.5L369.5 550.4M259.9 559.5L369.5 553.5M259.9 559.5L369.5 556.5M259.9 559.5L369.5 559.5M259.9 559.5L369.5 562.3M259.9 559.5L369.5 565.1M259.9 559.5L369.5 567.8M259.9 559.5L369.5 570.4M259.9 559.5L369.5 573M259.9 562.3L369.5 536.9M259.9 562.3L369.5 550.4M259.9 562.3L369.5 553.5M259.9 562.3L369.5 556.5M259.9 562.3L369.5 559.5M259.9 562.3L369.5 565.1M259.9 562.3L369.5 567.8M259.9 562.3L369.5 570.4M259.9 562.3L369.5 573M259.9 562.3L369.5 575.5M259.9 565.1L369.5 556.5M259.9 565.1L369.5 559.5M259.9 565.1L369.5 562.3M259.9 565.1L369.5 565.1M259.9 565.1L369.5 567.8M259.9 565.1L369.5 570.4M259.9 565.1L369.5 573M259.9 565.1L369.5 575.5M259.9 565.1L369.5 577.9M259.9 565.1L369.5 580.3M259.9 567.8L369.5 556.5M259.9 567.8L369.5 562.3M259.9 567.8L369.5 565.1M259.9 567.8L369.5 567.8M259.9 567.8L369.5 570.4M259.9 567.8L369.5 573M259.9 567.8L369.5 575.5M259.9 567.8L369.5 577.9M259.9 567.8L369.5 582.6M259.9 570.4L369.5 559.5M259.9 570.4L369.5 562.3M259.9 570.4L369.5 565.1M259.9 570.4L369.5 567.8M259.9 570.4L369.5 570.4M259.9 570.4L369.5 573M259.9 570.4L369.5 575.5M259.9 570.4L369.5 577.9M259.9 570.4L369.5 580.3M259.9 570.4L369.5 584.9M259.9 570.4L369.5 587M259.9 573L369.5 559.5M259.9 573L369.5 565.1M259.9 573L369.5 567.8M259.9 573L369.5 570.4M259.9 573L369.5 573M259.9 573L369.5 575.5M259.9 573L369.5 577.9M259.9 573L369.5 580.3M259.9 573L369.5 582.6M259.9 573L369.5 584.9M259.9 575.5L369.5 570.4M259.9 575.5L369.5 573M259.9 575.5L369.5 575.5M259.9 575.5L369.5 577.9M259.9 575.5L369.5 580.3M259.9 575.5L369.5 582.6M259.9 575.5L369.5 584.9M259.9 575.5L369.5 589.2M259.9 577.9L369.5 570.4M259.9 577.9L369.5 573M259.9 577.9L369.5 575.5M259.9 577.9L369.5 577.9M259.9 577.9L369.5 580.3M259.9 577.9L369.5 582.6M259.9 577.9L369.5 587M259.9 577.9L369.5 589.2M259.9 577.9L369.5 591.3M259.9 577.9L369.5 593.3M259.9 580.3L369.5 573M259.9 580.3L369.5 575.5M259.9 580.3L369.5 577.9M259.9 580.3L369.5 580.3M259.9 580.3L369.5 582.6M259.9 580.3L369.5 584.9M259.9 580.3L369.5 587M259.9 580.3L369.5 589.2M259.9 580.3L369.5 591.3M259.9 580.3L369.5 593.3M259.9 582.6L369.5 577.9M259.9 582.6L369.5 580.3M259.9 582.6L369.5 582.6M259.9 582.6L369.5 584.9M259.9 582.6L369.5 587M259.9 582.6L369.5 589.2M259.9 582.6L369.5 591.3M259.9 582.6L369.5 593.3M259.9 584.9L369.5 575.5M259.9 584.9L369.5 577.9M259.9 584.9L369.5 580.3M259.9 584.9L369.5 582.6M259.9 584.9L369.5 584.9M259.9 584.9L369.5 587M259.9 584.9L369.5 589.2M259.9 584.9L369.5 591.3M259.9 584.9L369.5 593.3M259.9 584.9L369.5 595.3M259.9 587L369.5 580.3M259.9 587L369.5 582.6M259.9 587L369.5 587M259.9 587L369.5 589.2M259.9 587L369.5 591.3M259.9 587L369.5 595.3M259.9 589.2L369.5 567.8M259.9 589.2L369.5 580.3M259.9 589.2L369.5 582.6M259.9 589.2L369.5 584.9M259.9 589.2L369.5 587M259.9 589.2L369.5 589.2M259.9 589.2L369.5 593.3M259.9 589.2L369.5 597.3M259.9 591.3L369.5 582.6M259.9 591.3L369.5 587M259.9 591.3L369.5 589.2M259.9 591.3L369.5 591.3M259.9 591.3L369.5 593.3M259.9 591.3L369.5 595.3M259.9 591.3L369.5 597.3M259.9 591.3L369.5 599.2M259.9 591.3L369.5 601M259.9 593.3L369.5 582.6M259.9 593.3L369.5 587M259.9 593.3L369.5 589.2M259.9 593.3L369.5 591.3M259.9 593.3L369.5 593.3M259.9 593.3L369.5 595.3M259.9 593.3L369.5 597.3M259.9 593.3L369.5 599.2M259.9 593.3L369.5 602.8M259.9 595.3L369.5 589.2M259.9 595.3L369.5 591.3M259.9 595.3L369.5 593.3M259.9 595.3L369.5 595.3M259.9 595.3L369.5 597.3M259.9 595.3L369.5 601M259.9 595.3L369.5 609.7M259.9 597.3L369.5 591.3M259.9 597.3L369.5 595.3M259.9 597.3L369.5 597.3M259.9 597.3L369.5 601M259.9 597.3L369.5 602.8M259.9 599.2L369.5 584.9M259.9 599.2L369.5 593.3M259.9 599.2L369.5 595.3M259.9 599.2L369.5 599.2M259.9 599.2L369.5 601M259.9 601L369.5 593.3M259.9 601L369.5 597.3M259.9 601L369.5 599.2M259.9 601L369.5 601M259.9 601L369.5 604.6M259.9 601L369.5 606.3M259.9 601L369.5 608M259.9 601L369.5 612.9M259.9 602.8L369.5 597.3M259.9 602.8L369.5 599.2M259.9 602.8L369.5 601M259.9 602.8L369.5 602.8M259.9 602.8L369.5 606.3M259.9 602.8L369.5 609.7M259.9 602.8L369.5 611.3M259.9 604.6L369.5 597.3M259.9 604.6L369.5 602.8M259.9 604.6L369.5 604.6M259.9 604.6L369.5 606.3M259.9 604.6L369.5 608M259.9 604.6L369.5 609.7M259.9 604.6L369.5 612.9M259.9 606.3L369.5 595.3M259.9 606.3L369.5 606.3M259.9 606.3L369.5 611.3M259.9 608L369.5 593.3M259.9 608L369.5 597.3M259.9 608L369.5 604.6M259.9 608L369.5 606.3M259.9 608L369.5 608M259.9 609.7L369.5 602.8M259.9 609.7L369.5 612.9M259.9 609.7L369.5 616M259.9 611.3L369.5 602.8M259.9 611.3L369.5 616M259.9 612.9L369.5 611.3M259.9 612.9L369.5 612.9M259.9 617.5L369.5 623.2M259.9 619L369.5 620.4M259.9 623.2L369.5 624.5M259.9 624.5L369.5 619M259.9 624.5L369.5 625.9M259.9 625.9L369.5 623.2M259.9 627.2L369.5 627.2M369.5 356.3L438.5 356.3M369.5 356.3L438.5 367.6M369.5 356.3L438.5 378.3M369.5 356.3L438.5 388.4M369.5 356.3L438.5 398M369.5 367.6L438.5 356.3M369.5 367.6L438.5 367.6M369.5 367.6L438.5 378.3M369.5 367.6L438.5 388.4M369.5 367.6L438.5 398M369.5 367.6L438.5 407.1M369.5 378.3L438.5 356.3M369.5 378.3L438.5 367.6M369.5 378.3L438.5 378.3M369.5 378.3L438.5 388.4M369.5 378.3L438.5 398M369.5 378.3L438.5 407.1M369.5 378.3L438.5 415.8M369.5 388.4L438.5 367.6M369.5 388.4L438.5 378.3M369.5 388.4L438.5 388.4M369.5 388.4L438.5 398M369.5 388.4L438.5 407.1M369.5 388.4L438.5 415.8M369.5 388.4L438.5 424M369.5 388.4L438.5 431.9M369.5 388.4L438.5 439.4M369.5 398L438.5 367.6M369.5 398L438.5 378.3M369.5 398L438.5 388.4M369.5 398L438.5 398M369.5 398L438.5 407.1M369.5 398L438.5 415.8M369.5 398L438.5 424M369.5 398L438.5 431.9M369.5 398L438.5 439.4M369.5 407.1L438.5 356.3M369.5 407.1L438.5 367.6M369.5 407.1L438.5 378.3M369.5 407.1L438.5 388.4M369.5 407.1L438.5 398M369.5 407.1L438.5 407.1M369.5 407.1L438.5 415.8M369.5 407.1L438.5 424M369.5 407.1L438.5 431.9M369.5 407.1L438.5 439.4M369.5 407.1L438.5 446.6M369.5 407.1L438.5 460M369.5 407.1L438.5 472.4M369.5 415.8L438.5 388.4M369.5 415.8L438.5 398M369.5 415.8L438.5 407.1M369.5 415.8L438.5 415.8M369.5 415.8L438.5 424M369.5 415.8L438.5 431.9M369.5 415.8L438.5 439.4M369.5 415.8L438.5 446.6M369.5 415.8L438.5 453.5M369.5 424L438.5 388.4M369.5 424L438.5 398M369.5 424L438.5 407.1M369.5 424L438.5 415.8M369.5 424L438.5 424M369.5 424L438.5 431.9M369.5 424L438.5 439.4M369.5 424L438.5 446.6M369.5 424L438.5 453.5M369.5 424L438.5 460M369.5 431.9L438.5 388.4M369.5 431.9L438.5 407.1M369.5 431.9L438.5 415.8M369.5 431.9L438.5 424M369.5 431.9L438.5 431.9M369.5 431.9L438.5 439.4M369.5 431.9L438.5 446.6M369.5 431.9L438.5 453.5M369.5 431.9L438.5 460M369.5 431.9L438.5 466.4M369.5 431.9L438.5 472.4M369.5 431.9L438.5 483.8M369.5 439.4L438.5 407.1M369.5 439.4L438.5 415.8M369.5 439.4L438.5 424M369.5 439.4L438.5 431.9M369.5 439.4L438.5 439.4M369.5 439.4L438.5 446.6M369.5 439.4L438.5 453.5M369.5 439.4L438.5 460M369.5 439.4L438.5 466.4M369.5 439.4L438.5 472.4M369.5 439.4L438.5 478.2M369.5 446.6L438.5 407.1M369.5 446.6L438.5 424M369.5 446.6L438.5 431.9M369.5 446.6L438.5 439.4M369.5 446.6L438.5 446.6M369.5 446.6L438.5 453.5M369.5 446.6L438.5 460M369.5 446.6L438.5 466.4M369.5 446.6L438.5 472.4M369.5 446.6L438.5 478.2M369.5 446.6L438.5 483.8M369.5 446.6L438.5 499.3M369.5 453.5L438.5 415.8M369.5 453.5L438.5 424M369.5 453.5L438.5 431.9M369.5 453.5L438.5 439.4M369.5 453.5L438.5 446.6M369.5 453.5L438.5 453.5M369.5 453.5L438.5 460M369.5 453.5L438.5 466.4M369.5 453.5L438.5 472.4M369.5 453.5L438.5 478.2M369.5 453.5L438.5 483.8M369.5 460L438.5 424M369.5 460L438.5 431.9M369.5 460L438.5 439.4M369.5 460L438.5 446.6M369.5 460L438.5 453.5M369.5 460L438.5 460M369.5 460L438.5 466.4M369.5 460L438.5 472.4M369.5 460L438.5 478.2M369.5 460L438.5 483.8M369.5 460L438.5 489.1M369.5 466.4L438.5 431.9M369.5 466.4L438.5 439.4M369.5 466.4L438.5 446.6M369.5 466.4L438.5 453.5M369.5 466.4L438.5 460M369.5 466.4L438.5 466.4M369.5 466.4L438.5 472.4M369.5 466.4L438.5 478.2M369.5 466.4L438.5 483.8M369.5 466.4L438.5 489.1M369.5 466.4L438.5 508.7M369.5 472.4L438.5 446.6M369.5 472.4L438.5 453.5M369.5 472.4L438.5 460M369.5 472.4L438.5 466.4M369.5 472.4L438.5 472.4M369.5 472.4L438.5 478.2M369.5 472.4L438.5 483.8M369.5 472.4L438.5 489.1M369.5 472.4L438.5 494.3M369.5 472.4L438.5 499.3M369.5 478.2L438.5 453.5M369.5 478.2L438.5 460M369.5 478.2L438.5 466.4M369.5 478.2L438.5 472.4M369.5 478.2L438.5 478.2M369.5 478.2L438.5 483.8M369.5 478.2L438.5 489.1M369.5 478.2L438.5 494.3M369.5 478.2L438.5 499.3M369.5 478.2L438.5 504.1M369.5 483.8L438.5 446.6M369.5 483.8L438.5 453.5M369.5 483.8L438.5 460M369.5 483.8L438.5 466.4M369.5 483.8L438.5 472.4M369.5 483.8L438.5 478.2M369.5 483.8L438.5 483.8M369.5 483.8L438.5 489.1M369.5 483.8L438.5 494.3M369.5 483.8L438.5 499.3M369.5 483.8L438.5 504.1M369.5 483.8L438.5 513.1M369.5 483.8L438.5 521.6M369.5 489.1L438.5 466.4M369.5 489.1L438.5 472.4M369.5 489.1L438.5 478.2M369.5 489.1L438.5 483.8M369.5 489.1L438.5 489.1M369.5 489.1L438.5 494.3M369.5 489.1L438.5 499.3M369.5 489.1L438.5 504.1M369.5 489.1L438.5 508.7M369.5 489.1L438.5 513.1M369.5 494.3L438.5 460M369.5 494.3L438.5 466.4M369.5 494.3L438.5 472.4M369.5 494.3L438.5 478.2M369.5 494.3L438.5 483.8M369.5 494.3L438.5 489.1M369.5 494.3L438.5 494.3M369.5 494.3L438.5 499.3M369.5 494.3L438.5 504.1M369.5 494.3L438.5 508.7M369.5 494.3L438.5 513.1M369.5 494.3L438.5 517.4M369.5 494.3L438.5 529.5M369.5 499.3L438.5 472.4M369.5 499.3L438.5 478.2M369.5 499.3L438.5 483.8M369.5 499.3L438.5 489.1M369.5 499.3L438.5 494.3M369.5 499.3L438.5 499.3M369.5 499.3L438.5 504.1M369.5 499.3L438.5 508.7M369.5 499.3L438.5 513.1M369.5 499.3L438.5 517.4M369.5 499.3L438.5 533.2M369.5 504.1L438.5 472.4M369.5 504.1L438.5 489.1M369.5 504.1L438.5 494.3M369.5 504.1L438.5 499.3M369.5 504.1L438.5 504.1M369.5 504.1L438.5 508.7M369.5 504.1L438.5 513.1M369.5 504.1L438.5 517.4M369.5 504.1L438.5 521.6M369.5 508.7L438.5 466.4M369.5 508.7L438.5 478.2M369.5 508.7L438.5 483.8M369.5 508.7L438.5 489.1M369.5 508.7L438.5 494.3M369.5 508.7L438.5 499.3M369.5 508.7L438.5 504.1M369.5 508.7L438.5 508.7M369.5 508.7L438.5 513.1M369.5 508.7L438.5 517.4M369.5 508.7L438.5 521.6M369.5 508.7L438.5 525.6M369.5 508.7L438.5 529.5M369.5 508.7L438.5 533.2M369.5 508.7L438.5 543.8M369.5 513.1L438.5 466.4M369.5 513.1L438.5 489.1M369.5 513.1L438.5 494.3M369.5 513.1L438.5 499.3M369.5 513.1L438.5 504.1M369.5 513.1L438.5 508.7M369.5 513.1L438.5 513.1M369.5 513.1L438.5 517.4M369.5 513.1L438.5 521.6M369.5 513.1L438.5 525.6M369.5 513.1L438.5 529.5M369.5 513.1L438.5 533.2M369.5 513.1L438.5 536.9M369.5 513.1L438.5 543.8M369.5 517.4L438.5 483.8M369.5 517.4L438.5 494.3M369.5 517.4L438.5 499.3M369.5 517.4L438.5 504.1M369.5 517.4L438.5 508.7M369.5 517.4L438.5 513.1M369.5 517.4L438.5 517.4M369.5 517.4L438.5 521.6M369.5 517.4L438.5 525.6M369.5 517.4L438.5 529.5M369.5 517.4L438.5 533.2M369.5 517.4L438.5 540.4M369.5 521.6L438.5 499.3M369.5 521.6L438.5 504.1M369.5 521.6L438.5 508.7M369.5 521.6L438.5 513.1M369.5 521.6L438.5 517.4M369.5 521.6L438.5 521.6M369.5 521.6L438.5 525.6M369.5 521.6L438.5 529.5M369.5 521.6L438.5 533.2M369.5 521.6L438.5 536.9M369.5 521.6L438.5 543.8M369.5 525.6L438.5 494.3M369.5 525.6L438.5 504.1M369.5 525.6L438.5 508.7M369.5 525.6L438.5 513.1M369.5 525.6L438.5 517.4M369.5 525.6L438.5 521.6M369.5 525.6L438.5 525.6M369.5 525.6L438.5 529.5M369.5 525.6L438.5 533.2M369.5 525.6L438.5 536.9M369.5 525.6L438.5 540.4M369.5 529.5L438.5 478.2M369.5 529.5L438.5 504.1M369.5 529.5L438.5 508.7M369.5 529.5L438.5 513.1M369.5 529.5L438.5 517.4M369.5 529.5L438.5 521.6M369.5 529.5L438.5 525.6M369.5 529.5L438.5 529.5M369.5 529.5L438.5 533.2M369.5 529.5L438.5 536.9M369.5 529.5L438.5 540.4M369.5 529.5L438.5 543.8M369.5 529.5L438.5 547.1M369.5 529.5L438.5 550.4M369.5 533.2L438.5 513.1M369.5 533.2L438.5 521.6M369.5 533.2L438.5 525.6M369.5 533.2L438.5 529.5M369.5 533.2L438.5 533.2M369.5 533.2L438.5 536.9M369.5 533.2L438.5 540.4M369.5 533.2L438.5 543.8M369.5 533.2L438.5 547.1M369.5 533.2L438.5 553.5M369.5 533.2L438.5 559.5M369.5 533.2L438.5 565.1M369.5 536.9L438.5 504.1M369.5 536.9L438.5 513.1M369.5 536.9L438.5 521.6M369.5 536.9L438.5 525.6M369.5 536.9L438.5 529.5M369.5 536.9L438.5 533.2M369.5 536.9L438.5 536.9M369.5 536.9L438.5 540.4M369.5 536.9L438.5 543.8M369.5 536.9L438.5 547.1M369.5 536.9L438.5 556.5M369.5 540.4L438.5 517.4M369.5 540.4L438.5 521.6M369.5 540.4L438.5 525.6M369.5 540.4L438.5 529.5M369.5 540.4L438.5 533.2M369.5 540.4L438.5 540.4M369.5 540.4L438.5 543.8M369.5 540.4L438.5 547.1M369.5 540.4L438.5 550.4M369.5 540.4L438.5 553.5M369.5 540.4L438.5 556.5M369.5 540.4L438.5 562.3M369.5 543.8L438.5 508.7M369.5 543.8L438.5 517.4M369.5 543.8L438.5 529.5M369.5 543.8L438.5 533.2M369.5 543.8L438.5 536.9M369.5 543.8L438.5 540.4M369.5 543.8L438.5 543.8M369.5 543.8L438.5 547.1M369.5 543.8L438.5 550.4M369.5 543.8L438.5 553.5M369.5 543.8L438.5 556.5M369.5 543.8L438.5 567.8M369.5 547.1L438.5 533.2M369.5 547.1L438.5 536.9M369.5 547.1L438.5 540.4M369.5 547.1L438.5 543.8M369.5 547.1L438.5 547.1M369.5 547.1L438.5 550.4M369.5 547.1L438.5 553.5M369.5 547.1L438.5 556.5M369.5 547.1L438.5 559.5M369.5 547.1L438.5 565.1M369.5 550.4L438.5 525.6M369.5 550.4L438.5 529.5M369.5 550.4L438.5 536.9M369.5 550.4L438.5 540.4M369.5 550.4L438.5 543.8M369.5 550.4L438.5 547.1M369.5 550.4L438.5 550.4M369.5 550.4L438.5 553.5M369.5 550.4L438.5 556.5M369.5 550.4L438.5 559.5M369.5 550.4L438.5 562.3M369.5 550.4L438.5 565.1M369.5 550.4L438.5 570.4M369.5 553.5L438.5 529.5M369.5 553.5L438.5 533.2M369.5 553.5L438.5 536.9M369.5 553.5L438.5 543.8M369.5 553.5L438.5 547.1M369.5 553.5L438.5 550.4M369.5 553.5L438.5 553.5M369.5 553.5L438.5 556.5M369.5 553.5L438.5 559.5M369.5 553.5L438.5 562.3M369.5 553.5L438.5 565.1M369.5 556.5L438.5 540.4M369.5 556.5L438.5 543.8M369.5 556.5L438.5 547.1M369.5 556.5L438.5 550.4M369.5 556.5L438.5 553.5M369.5 556.5L438.5 556.5M369.5 556.5L438.5 559.5M369.5 556.5L438.5 565.1M369.5 556.5L438.5 567.8M369.5 556.5L438.5 573M369.5 559.5L438.5 529.5M369.5 559.5L438.5 536.9M369.5 559.5L438.5 540.4M369.5 559.5L438.5 547.1M369.5 559.5L438.5 550.4M369.5 559.5L438.5 553.5M369.5 559.5L438.5 556.5M369.5 559.5L438.5 559.5M369.5 559.5L438.5 562.3M369.5 559.5L438.5 565.1M369.5 559.5L438.5 567.8M369.5 562.3L438.5 543.8M369.5 562.3L438.5 553.5M369.5 562.3L438.5 556.5M369.5 562.3L438.5 562.3M369.5 562.3L438.5 565.1M369.5 562.3L438.5 570.4M369.5 562.3L438.5 573M369.5 562.3L438.5 575.5M369.5 565.1L438.5 550.4M369.5 565.1L438.5 553.5M369.5 565.1L438.5 556.5M369.5 565.1L438.5 559.5M369.5 565.1L438.5 562.3M369.5 565.1L438.5 565.1M369.5 565.1L438.5 567.8M369.5 565.1L438.5 570.4M369.5 565.1L438.5 573M369.5 565.1L438.5 577.9M369.5 565.1L438.5 580.3M369.5 567.8L438.5 553.5M369.5 567.8L438.5 556.5M369.5 567.8L438.5 559.5M369.5 567.8L438.5 562.3M369.5 567.8L438.5 565.1M369.5 567.8L438.5 567.8M369.5 567.8L438.5 570.4M369.5 567.8L438.5 573M369.5 567.8L438.5 575.5M369.5 567.8L438.5 580.3M369.5 567.8L438.5 584.9M369.5 567.8L438.5 587M369.5 570.4L438.5 559.5M369.5 570.4L438.5 562.3M369.5 570.4L438.5 565.1M369.5 570.4L438.5 570.4M369.5 570.4L438.5 573M369.5 570.4L438.5 575.5M369.5 570.4L438.5 577.9M369.5 570.4L438.5 584.9M369.5 573L438.5 562.3M369.5 573L438.5 565.1M369.5 573L438.5 567.8M369.5 573L438.5 570.4M369.5 573L438.5 573M369.5 573L438.5 575.5M369.5 573L438.5 577.9M369.5 573L438.5 580.3M369.5 573L438.5 582.6M369.5 573L438.5 584.9M369.5 575.5L438.5 570.4M369.5 575.5L438.5 573M369.5 575.5L438.5 575.5M369.5 575.5L438.5 577.9M369.5 575.5L438.5 580.3M369.5 575.5L438.5 582.6M369.5 575.5L438.5 589.2M369.5 577.9L438.5 570.4M369.5 577.9L438.5 573M369.5 577.9L438.5 575.5M369.5 577.9L438.5 577.9M369.5 577.9L438.5 580.3M369.5 577.9L438.5 582.6M369.5 577.9L438.5 584.9M369.5 580.3L438.5 570.4M369.5 580.3L438.5 575.5M369.5 580.3L438.5 577.9M369.5 580.3L438.5 580.3M369.5 580.3L438.5 582.6M369.5 580.3L438.5 584.9M369.5 580.3L438.5 587M369.5 580.3L438.5 589.2M369.5 582.6L438.5 575.5M369.5 582.6L438.5 577.9M369.5 582.6L438.5 580.3M369.5 582.6L438.5 582.6M369.5 582.6L438.5 584.9M369.5 582.6L438.5 587M369.5 582.6L438.5 589.2M369.5 582.6L438.5 591.3M369.5 584.9L438.5 573M369.5 584.9L438.5 575.5M369.5 584.9L438.5 577.9M369.5 584.9L438.5 582.6M369.5 584.9L438.5 584.9M369.5 584.9L438.5 587M369.5 584.9L438.5 589.2M369.5 584.9L438.5 591.3M369.5 584.9L438.5 597.3M369.5 587L438.5 565.1M369.5 587L438.5 570.4M369.5 587L438.5 577.9M369.5 587L438.5 582.6M369.5 587L438.5 584.9M369.5 587L438.5 587M369.5 587L438.5 589.2M369.5 587L438.5 591.3M369.5 587L438.5 593.3M369.5 587L438.5 597.3M369.5 589.2L438.5 575.5M369.5 589.2L438.5 580.3M369.5 589.2L438.5 582.6M369.5 589.2L438.5 584.9M369.5 589.2L438.5 587M369.5 589.2L438.5 589.2M369.5 589.2L438.5 591.3M369.5 589.2L438.5 593.3M369.5 589.2L438.5 595.3M369.5 591.3L438.5 582.6M369.5 591.3L438.5 584.9M369.5 591.3L438.5 587M369.5 591.3L438.5 591.3M369.5 591.3L438.5 593.3M369.5 591.3L438.5 597.3M369.5 591.3L438.5 599.2M369.5 593.3L438.5 584.9M369.5 593.3L438.5 587M369.5 593.3L438.5 589.2M369.5 593.3L438.5 591.3M369.5 593.3L438.5 593.3M369.5 593.3L438.5 595.3M369.5 593.3L438.5 597.3M369.5 593.3L438.5 599.2M369.5 593.3L438.5 601M369.5 593.3L438.5 602.8M369.5 595.3L438.5 587M369.5 595.3L438.5 591.3M369.5 595.3L438.5 593.3M369.5 595.3L438.5 595.3M369.5 595.3L438.5 597.3M369.5 595.3L438.5 599.2M369.5 595.3L438.5 601M369.5 597.3L438.5 593.3M369.5 597.3L438.5 595.3M369.5 597.3L438.5 597.3M369.5 597.3L438.5 599.2M369.5 597.3L438.5 601M369.5 597.3L438.5 602.8M369.5 597.3L438.5 608M369.5 599.2L438.5 595.3M369.5 599.2L438.5 597.3M369.5 599.2L438.5 602.8M369.5 601L438.5 599.2M369.5 601L438.5 601M369.5 601L438.5 602.8M369.5 601L438.5 604.6M369.5 601L438.5 606.3M369.5 602.8L438.5 595.3M369.5 602.8L438.5 597.3M369.5 602.8L438.5 599.2M369.5 602.8L438.5 601M369.5 602.8L438.5 602.8M369.5 602.8L438.5 604.6M369.5 602.8L438.5 606.3M369.5 602.8L438.5 608M369.5 602.8L438.5 616M369.5 604.6L438.5 606.3M369.5 604.6L438.5 608M369.5 604.6L438.5 611.3M369.5 604.6L438.5 614.5M369.5 606.3L438.5 599.2M369.5 606.3L438.5 601M369.5 606.3L438.5 602.8M369.5 606.3L438.5 606.3M369.5 606.3L438.5 608M369.5 606.3L438.5 611.3M369.5 608L438.5 602.8M369.5 608L438.5 606.3M369.5 608L438.5 609.7M369.5 609.7L438.5 606.3M369.5 609.7L438.5 608M369.5 609.7L438.5 612.9M369.5 611.3L438.5 606.3M369.5 611.3L438.5 608M369.5 612.9L438.5 611.3M369.5 612.9L438.5 612.9M369.5 612.9L438.5 614.5M369.5 612.9L438.5 619M369.5 616L438.5 611.3M369.5 616L438.5 614.5M369.5 619L438.5 623.2M369.5 620.4L438.5 617.5M369.5 623.2L438.5 620.4M369.5 623.2L438.5 624.5M369.5 624.5L438.5 627.2M369.5 625.9L438.5 625.9M369.5 627.2L438.5 628.4M438.5 356.3L547.8 356.3M438.5 356.3L547.8 367.6M438.5 356.3L547.8 378.3M438.5 356.3L547.8 388.4M438.5 356.3L547.8 398M438.5 367.6L547.8 356.3M438.5 367.6L547.8 367.6M438.5 367.6L547.8 378.3M438.5 367.6L547.8 388.4M438.5 367.6L547.8 398M438.5 367.6L547.8 407.1M438.5 367.6L547.8 415.8M438.5 378.3L547.8 356.3M438.5 378.3L547.8 367.6M438.5 378.3L547.8 378.3M438.5 378.3L547.8 388.4M438.5 378.3L547.8 398M438.5 378.3L547.8 407.1M438.5 378.3L547.8 415.8M438.5 378.3L547.8 424M438.5 388.4L547.8 356.3M438.5 388.4L547.8 367.6M438.5 388.4L547.8 378.3M438.5 388.4L547.8 388.4M438.5 388.4L547.8 398M438.5 388.4L547.8 407.1M438.5 388.4L547.8 415.8M438.5 388.4L547.8 424M438.5 388.4L547.8 431.9M438.5 398L547.8 367.6M438.5 398L547.8 378.3M438.5 398L547.8 388.4M438.5 398L547.8 398M438.5 398L547.8 407.1M438.5 398L547.8 415.8M438.5 398L547.8 424M438.5 398L547.8 431.9M438.5 398L547.8 439.4M438.5 407.1L547.8 367.6M438.5 407.1L547.8 378.3M438.5 407.1L547.8 388.4M438.5 407.1L547.8 398M438.5 407.1L547.8 407.1M438.5 407.1L547.8 415.8M438.5 407.1L547.8 424M438.5 407.1L547.8 431.9M438.5 407.1L547.8 439.4M438.5 407.1L547.8 446.6M438.5 407.1L547.8 460M438.5 415.8L547.8 378.3M438.5 415.8L547.8 388.4M438.5 415.8L547.8 398M438.5 415.8L547.8 407.1M438.5 415.8L547.8 415.8M438.5 415.8L547.8 424M438.5 415.8L547.8 431.9M438.5 415.8L547.8 439.4M438.5 415.8L547.8 446.6M438.5 415.8L547.8 453.5M438.5 424L547.8 398M438.5 424L547.8 407.1M438.5 424L547.8 415.8M438.5 424L547.8 424M438.5 424L547.8 431.9M438.5 424L547.8 439.4M438.5 424L547.8 446.6M438.5 424L547.8 453.5M438.5 424L547.8 460M438.5 424L547.8 466.4M438.5 431.9L547.8 398M438.5 431.9L547.8 407.1M438.5 431.9L547.8 415.8M438.5 431.9L547.8 424M438.5 431.9L547.8 431.9M438.5 431.9L547.8 439.4M438.5 431.9L547.8 446.6M438.5 431.9L547.8 453.5M438.5 431.9L547.8 460M438.5 431.9L547.8 466.4M438.5 431.9L547.8 472.4M438.5 439.4L547.8 398M438.5 439.4L547.8 407.1M438.5 439.4L547.8 415.8M438.5 439.4L547.8 424M438.5 439.4L547.8 431.9M438.5 439.4L547.8 439.4M438.5 439.4L547.8 446.6M438.5 439.4L547.8 453.5M438.5 439.4L547.8 460M438.5 439.4L547.8 472.4M438.5 439.4L547.8 478.2M438.5 439.4L547.8 483.8M438.5 446.6L547.8 398M438.5 446.6L547.8 407.1M438.5 446.6L547.8 415.8M438.5 446.6L547.8 424M438.5 446.6L547.8 431.9M438.5 446.6L547.8 439.4M438.5 446.6L547.8 446.6M438.5 446.6L547.8 453.5M438.5 446.6L547.8 460M438.5 446.6L547.8 466.4M438.5 446.6L547.8 472.4M438.5 446.6L547.8 478.2M438.5 446.6L547.8 483.8M438.5 453.5L547.8 415.8M438.5 453.5L547.8 424M438.5 453.5L547.8 431.9M438.5 453.5L547.8 439.4M438.5 453.5L547.8 446.6M438.5 453.5L547.8 453.5M438.5 453.5L547.8 460M438.5 453.5L547.8 466.4M438.5 453.5L547.8 472.4M438.5 453.5L547.8 478.2M438.5 453.5L547.8 483.8M438.5 453.5L547.8 489.1M438.5 453.5L547.8 499.3M438.5 460L547.8 431.9M438.5 460L547.8 439.4M438.5 460L547.8 446.6M438.5 460L547.8 453.5M438.5 460L547.8 460M438.5 460L547.8 466.4M438.5 460L547.8 472.4M438.5 460L547.8 478.2M438.5 460L547.8 483.8M438.5 460L547.8 489.1M438.5 460L547.8 494.3M438.5 466.4L547.8 439.4M438.5 466.4L547.8 446.6M438.5 466.4L547.8 453.5M438.5 466.4L547.8 460M438.5 466.4L547.8 466.4M438.5 466.4L547.8 472.4M438.5 466.4L547.8 478.2M438.5 466.4L547.8 483.8M438.5 466.4L547.8 489.1M438.5 466.4L547.8 494.3M438.5 466.4L547.8 499.3M438.5 472.4L547.8 431.9M438.5 472.4L547.8 446.6M438.5 472.4L547.8 453.5M438.5 472.4L547.8 460M438.5 472.4L547.8 466.4M438.5 472.4L547.8 472.4M438.5 472.4L547.8 478.2M438.5 472.4L547.8 483.8M438.5 472.4L547.8 489.1M438.5 472.4L547.8 494.3M438.5 472.4L547.8 499.3M438.5 478.2L547.8 439.4M438.5 478.2L547.8 453.5M438.5 478.2L547.8 460M438.5 478.2L547.8 466.4M438.5 478.2L547.8 472.4M438.5 478.2L547.8 478.2M438.5 478.2L547.8 483.8M438.5 478.2L547.8 489.1M438.5 478.2L547.8 494.3M438.5 478.2L547.8 499.3M438.5 478.2L547.8 504.1M438.5 478.2L547.8 521.6M438.5 483.8L547.8 446.6M438.5 483.8L547.8 453.5M438.5 483.8L547.8 460M438.5 483.8L547.8 466.4M438.5 483.8L547.8 472.4M438.5 483.8L547.8 478.2M438.5 483.8L547.8 483.8M438.5 483.8L547.8 489.1M438.5 483.8L547.8 494.3M438.5 483.8L547.8 499.3M438.5 483.8L547.8 504.1M438.5 483.8L547.8 508.7M438.5 489.1L547.8 453.5M438.5 489.1L547.8 460M438.5 489.1L547.8 472.4M438.5 489.1L547.8 478.2M438.5 489.1L547.8 483.8M438.5 489.1L547.8 489.1M438.5 489.1L547.8 494.3M438.5 489.1L547.8 499.3M438.5 489.1L547.8 504.1M438.5 489.1L547.8 508.7M438.5 489.1L547.8 513.1M438.5 489.1L547.8 517.4M438.5 494.3L547.8 453.5M438.5 494.3L547.8 466.4M438.5 494.3L547.8 472.4M438.5 494.3L547.8 478.2M438.5 494.3L547.8 483.8M438.5 494.3L547.8 489.1M438.5 494.3L547.8 494.3M438.5 494.3L547.8 499.3M438.5 494.3L547.8 504.1M438.5 494.3L547.8 508.7M438.5 494.3L547.8 513.1M438.5 494.3L547.8 517.4M438.5 494.3L547.8 525.6M438.5 499.3L547.8 472.4M438.5 499.3L547.8 478.2M438.5 499.3L547.8 483.8M438.5 499.3L547.8 489.1M438.5 499.3L547.8 494.3M438.5 499.3L547.8 499.3M438.5 499.3L547.8 504.1M438.5 499.3L547.8 508.7M438.5 499.3L547.8 513.1M438.5 499.3L547.8 517.4M438.5 499.3L547.8 521.6M438.5 499.3L547.8 533.2M438.5 504.1L547.8 478.2M438.5 504.1L547.8 483.8M438.5 504.1L547.8 489.1M438.5 504.1L547.8 494.3M438.5 504.1L547.8 499.3M438.5 504.1L547.8 504.1M438.5 504.1L547.8 508.7M438.5 504.1L547.8 513.1M438.5 504.1L547.8 517.4M438.5 504.1L547.8 521.6M438.5 504.1L547.8 525.6M438.5 504.1L547.8 529.5M438.5 504.1L547.8 540.4M438.5 508.7L547.8 460M438.5 508.7L547.8 483.8M438.5 508.7L547.8 489.1M438.5 508.7L547.8 494.3M438.5 508.7L547.8 499.3M438.5 508.7L547.8 504.1M438.5 508.7L547.8 508.7M438.5 508.7L547.8 513.1M438.5 508.7L547.8 517.4M438.5 508.7L547.8 521.6M438.5 508.7L547.8 525.6M438.5 508.7L547.8 529.5M438.5 508.7L547.8 543.8M438.5 513.1L547.8 483.8M438.5 513.1L547.8 489.1M438.5 513.1L547.8 494.3M438.5 513.1L547.8 499.3M438.5 513.1L547.8 504.1M438.5 513.1L547.8 508.7M438.5 513.1L547.8 513.1M438.5 513.1L547.8 517.4M438.5 513.1L547.8 521.6M438.5 513.1L547.8 525.6M438.5 513.1L547.8 529.5M438.5 513.1L547.8 533.2M438.5 517.4L547.8 499.3M438.5 517.4L547.8 513.1M438.5 517.4L547.8 517.4M438.5 517.4L547.8 521.6M438.5 517.4L547.8 525.6M438.5 517.4L547.8 529.5M438.5 517.4L547.8 533.2M438.5 517.4L547.8 536.9M438.5 517.4L547.8 540.4M438.5 521.6L547.8 494.3M438.5 521.6L547.8 504.1M438.5 521.6L547.8 508.7M438.5 521.6L547.8 513.1M438.5 521.6L547.8 517.4M438.5 521.6L547.8 521.6M438.5 521.6L547.8 525.6M438.5 521.6L547.8 529.5M438.5 521.6L547.8 533.2M438.5 521.6L547.8 536.9M438.5 521.6L547.8 540.4M438.5 521.6L547.8 543.8M438.5 525.6L547.8 499.3M438.5 525.6L547.8 508.7M438.5 525.6L547.8 513.1M438.5 525.6L547.8 517.4M438.5 525.6L547.8 521.6M438.5 525.6L547.8 525.6M438.5 525.6L547.8 529.5M438.5 525.6L547.8 533.2M438.5 525.6L547.8 536.9M438.5 525.6L547.8 540.4M438.5 525.6L547.8 543.8M438.5 525.6L547.8 547.1M438.5 525.6L547.8 550.4M438.5 529.5L547.8 508.7M438.5 529.5L547.8 513.1M438.5 529.5L547.8 517.4M438.5 529.5L547.8 521.6M438.5 529.5L547.8 525.6M438.5 529.5L547.8 529.5M438.5 529.5L547.8 533.2M438.5 529.5L547.8 536.9M438.5 529.5L547.8 540.4M438.5 529.5L547.8 547.1M438.5 529.5L547.8 550.4M438.5 533.2L547.8 508.7M438.5 533.2L547.8 513.1M438.5 533.2L547.8 517.4M438.5 533.2L547.8 521.6M438.5 533.2L547.8 525.6M438.5 533.2L547.8 529.5M438.5 533.2L547.8 533.2M438.5 533.2L547.8 536.9M438.5 533.2L547.8 540.4M438.5 533.2L547.8 543.8M438.5 533.2L547.8 553.5M438.5 536.9L547.8 504.1M438.5 536.9L547.8 508.7M438.5 536.9L547.8 521.6M438.5 536.9L547.8 525.6M438.5 536.9L547.8 529.5M438.5 536.9L547.8 533.2M438.5 536.9L547.8 536.9M438.5 536.9L547.8 540.4M438.5 536.9L547.8 547.1M438.5 536.9L547.8 550.4M438.5 536.9L547.8 553.5M438.5 536.9L547.8 556.5M438.5 536.9L547.8 559.5M438.5 540.4L547.8 517.4M438.5 540.4L547.8 529.5M438.5 540.4L547.8 533.2M438.5 540.4L547.8 536.9M438.5 540.4L547.8 540.4M438.5 540.4L547.8 543.8M438.5 540.4L547.8 547.1M438.5 540.4L547.8 553.5M438.5 540.4L547.8 556.5M438.5 543.8L547.8 517.4M438.5 543.8L547.8 521.6M438.5 543.8L547.8 529.5M438.5 543.8L547.8 533.2M438.5 543.8L547.8 536.9M438.5 543.8L547.8 540.4M438.5 543.8L547.8 547.1M438.5 543.8L547.8 550.4M438.5 543.8L547.8 553.5M438.5 543.8L547.8 556.5M438.5 543.8L547.8 559.5M438.5 543.8L547.8 562.3M438.5 543.8L547.8 565.1M438.5 547.1L547.8 529.5M438.5 547.1L547.8 533.2M438.5 547.1L547.8 536.9M438.5 547.1L547.8 540.4M438.5 547.1L547.8 543.8M438.5 547.1L547.8 547.1M438.5 547.1L547.8 550.4M438.5 547.1L547.8 553.5M438.5 547.1L547.8 556.5M438.5 547.1L547.8 559.5M438.5 550.4L547.8 536.9M438.5 550.4L547.8 540.4M438.5 550.4L547.8 547.1M438.5 550.4L547.8 550.4M438.5 550.4L547.8 553.5M438.5 550.4L547.8 556.5M438.5 550.4L547.8 559.5M438.5 550.4L547.8 562.3M438.5 550.4L547.8 567.8M438.5 550.4L547.8 573M438.5 553.5L547.8 540.4M438.5 553.5L547.8 543.8M438.5 553.5L547.8 550.4M438.5 553.5L547.8 553.5M438.5 553.5L547.8 556.5M438.5 553.5L547.8 559.5M438.5 553.5L547.8 565.1M438.5 553.5L547.8 567.8M438.5 553.5L547.8 570.4M438.5 556.5L547.8 543.8M438.5 556.5L547.8 547.1M438.5 556.5L547.8 550.4M438.5 556.5L547.8 553.5M438.5 556.5L547.8 556.5M438.5 556.5L547.8 559.5M438.5 556.5L547.8 562.3M438.5 556.5L547.8 565.1M438.5 556.5L547.8 567.8M438.5 556.5L547.8 577.9M438.5 559.5L547.8 525.6M438.5 559.5L547.8 533.2M438.5 559.5L547.8 540.4M438.5 559.5L547.8 553.5M438.5 559.5L547.8 556.5M438.5 559.5L547.8 559.5M438.5 559.5L547.8 562.3M438.5 559.5L547.8 565.1M438.5 559.5L547.8 567.8M438.5 559.5L547.8 570.4M438.5 562.3L547.8 536.9M438.5 562.3L547.8 543.8M438.5 562.3L547.8 550.4M438.5 562.3L547.8 553.5M438.5 562.3L547.8 556.5M438.5 562.3L547.8 559.5M438.5 562.3L547.8 562.3M438.5 562.3L547.8 565.1M438.5 562.3L547.8 567.8M438.5 562.3L547.8 570.4M438.5 562.3L547.8 573M438.5 562.3L547.8 575.5M438.5 565.1L547.8 543.8M438.5 565.1L547.8 547.1M438.5 565.1L547.8 550.4M438.5 565.1L547.8 553.5M438.5 565.1L547.8 556.5M438.5 565.1L547.8 559.5M438.5 565.1L547.8 562.3M438.5 565.1L547.8 565.1M438.5 565.1L547.8 567.8M438.5 565.1L547.8 570.4M438.5 565.1L547.8 573M438.5 567.8L547.8 550.4M438.5 567.8L547.8 556.5M438.5 567.8L547.8 562.3M438.5 567.8L547.8 565.1M438.5 567.8L547.8 567.8M438.5 567.8L547.8 570.4M438.5 567.8L547.8 573M438.5 567.8L547.8 575.5M438.5 570.4L547.8 562.3M438.5 570.4L547.8 565.1M438.5 570.4L547.8 567.8M438.5 570.4L547.8 570.4M438.5 570.4L547.8 573M438.5 570.4L547.8 575.5M438.5 570.4L547.8 580.3M438.5 570.4L547.8 587M438.5 573L547.8 562.3M438.5 573L547.8 565.1M438.5 573L547.8 567.8M438.5 573L547.8 570.4M438.5 573L547.8 573M438.5 573L547.8 575.5M438.5 573L547.8 577.9M438.5 573L547.8 582.6M438.5 573L547.8 584.9M438.5 575.5L547.8 556.5M438.5 575.5L547.8 567.8M438.5 575.5L547.8 570.4M438.5 575.5L547.8 573M438.5 575.5L547.8 575.5M438.5 575.5L547.8 577.9M438.5 575.5L547.8 580.3M438.5 575.5L547.8 582.6M438.5 575.5L547.8 584.9M438.5 575.5L547.8 587M438.5 577.9L547.8 570.4M438.5 577.9L547.8 573M438.5 577.9L547.8 575.5M438.5 577.9L547.8 577.9M438.5 577.9L547.8 580.3M438.5 577.9L547.8 582.6M438.5 577.9L547.8 584.9M438.5 577.9L547.8 587M438.5 580.3L547.8 567.8M438.5 580.3L547.8 573M438.5 580.3L547.8 575.5M438.5 580.3L547.8 577.9M438.5 580.3L547.8 580.3M438.5 580.3L547.8 582.6M438.5 580.3L547.8 584.9M438.5 580.3L547.8 587M438.5 582.6L547.8 565.1M438.5 582.6L547.8 573M438.5 582.6L547.8 575.5M438.5 582.6L547.8 577.9M438.5 582.6L547.8 580.3M438.5 582.6L547.8 582.6M438.5 582.6L547.8 584.9M438.5 582.6L547.8 587M438.5 582.6L547.8 589.2M438.5 582.6L547.8 591.3M438.5 582.6L547.8 593.3M438.5 584.9L547.8 575.5M438.5 584.9L547.8 577.9M438.5 584.9L547.8 580.3M438.5 584.9L547.8 582.6M438.5 584.9L547.8 584.9M438.5 584.9L547.8 587M438.5 584.9L547.8 589.2M438.5 584.9L547.8 591.3M438.5 584.9L547.8 593.3M438.5 584.9L547.8 595.3M438.5 587L547.8 573M438.5 587L547.8 577.9M438.5 587L547.8 580.3M438.5 587L547.8 582.6M438.5 587L547.8 584.9M438.5 587L547.8 587M438.5 587L547.8 589.2M438.5 587L547.8 591.3M438.5 587L547.8 593.3M438.5 587L547.8 595.3M438.5 587L547.8 597.3M438.5 589.2L547.8 580.3M438.5 589.2L547.8 582.6M438.5 589.2L547.8 584.9M438.5 589.2L547.8 587M438.5 589.2L547.8 589.2M438.5 589.2L547.8 591.3M438.5 589.2L547.8 593.3M438.5 589.2L547.8 595.3M438.5 589.2L547.8 599.2M438.5 591.3L547.8 577.9M438.5 591.3L547.8 582.6M438.5 591.3L547.8 587M438.5 591.3L547.8 589.2M438.5 591.3L547.8 591.3M438.5 591.3L547.8 593.3M438.5 591.3L547.8 595.3M438.5 591.3L547.8 599.2M438.5 593.3L547.8 584.9M438.5 593.3L547.8 589.2M438.5 593.3L547.8 591.3M438.5 593.3L547.8 593.3M438.5 593.3L547.8 595.3M438.5 593.3L547.8 597.3M438.5 593.3L547.8 599.2M438.5 593.3L547.8 601M438.5 595.3L547.8 595.3M438.5 595.3L547.8 597.3M438.5 595.3L547.8 599.2M438.5 595.3L547.8 601M438.5 595.3L547.8 602.8M438.5 595.3L547.8 608M438.5 597.3L547.8 587M438.5 597.3L547.8 589.2M438.5 597.3L547.8 591.3M438.5 597.3L547.8 593.3M438.5 597.3L547.8 595.3M438.5 597.3L547.8 597.3M438.5 597.3L547.8 599.2M438.5 597.3L547.8 601M438.5 599.2L547.8 591.3M438.5 599.2L547.8 593.3M438.5 599.2L547.8 595.3M438.5 599.2L547.8 597.3M438.5 599.2L547.8 599.2M438.5 599.2L547.8 601M438.5 599.2L547.8 602.8M438.5 599.2L547.8 604.6M438.5 601L547.8 597.3M438.5 601L547.8 599.2M438.5 601L547.8 601M438.5 601L547.8 602.8M438.5 601L547.8 604.6M438.5 601L547.8 606.3M438.5 602.8L547.8 599.2M438.5 602.8L547.8 601M438.5 602.8L547.8 602.8M438.5 602.8L547.8 604.6M438.5 602.8L547.8 606.3M438.5 602.8L547.8 609.7M438.5 604.6L547.8 601M438.5 604.6L547.8 602.8M438.5 606.3L547.8 599.2M438.5 606.3L547.8 602.8M438.5 606.3L547.8 604.6M438.5 606.3L547.8 606.3M438.5 606.3L547.8 608M438.5 606.3L547.8 611.3M438.5 608L547.8 604.6M438.5 608L547.8 606.3M438.5 608L547.8 609.7M438.5 608L547.8 611.3M438.5 608L547.8 612.9M438.5 609.7L547.8 612.9M438.5 611.3L547.8 606.3M438.5 611.3L547.8 609.7M438.5 611.3L547.8 611.3M438.5 611.3L547.8 614.5M438.5 612.9L547.8 608M438.5 612.9L547.8 611.3M438.5 614.5L547.8 608M438.5 614.5L547.8 609.7M438.5 614.5L547.8 616M438.5 616L547.8 604.6M438.5 617.5L547.8 623.2M438.5 619L547.8 612.9M438.5 619L547.8 616M438.5 620.4L547.8 624.5M438.5 623.2L547.8 625.9M438.5 624.5L547.8 624.5M438.5 625.9L547.8 627.2M438.5 627.2L547.8 625.9M438.5 628.4L547.8 628.4M547.8 356.3L598.5 356.3M547.8 356.3L598.5 367.6M547.8 356.3L598.5 378.3M547.8 356.3L598.5 388.4M547.8 356.3L598.5 398M547.8 367.6L598.5 356.3M547.8 367.6L598.5 367.6M547.8 367.6L598.5 378.3M547.8 367.6L598.5 388.4M547.8 367.6L598.5 398M547.8 367.6L598.5 415.8M547.8 378.3L598.5 356.3M547.8 378.3L598.5 367.6M547.8 378.3L598.5 378.3M547.8 378.3L598.5 388.4M547.8 378.3L598.5 398M547.8 378.3L598.5 407.1M547.8 378.3L598.5 415.8M547.8 388.4L598.5 356.3M547.8 388.4L598.5 367.6M547.8 388.4L598.5 378.3M547.8 388.4L598.5 388.4M547.8 388.4L598.5 398M547.8 388.4L598.5 407.1M547.8 388.4L598.5 415.8M547.8 388.4L598.5 424M547.8 388.4L598.5 431.9M547.8 398L598.5 356.3M547.8 398L598.5 367.6M547.8 398L598.5 378.3M547.8 398L598.5 388.4M547.8 398L598.5 398M547.8 398L598.5 407.1M547.8 398L598.5 415.8M547.8 398L598.5 424M547.8 398L598.5 431.9M547.8 398L598.5 439.4M547.8 398L598.5 460M547.8 407.1L598.5 378.3M547.8 407.1L598.5 388.4M547.8 407.1L598.5 398M547.8 407.1L598.5 407.1M547.8 407.1L598.5 415.8M547.8 407.1L598.5 424M547.8 407.1L598.5 431.9M547.8 407.1L598.5 439.4M547.8 415.8L598.5 378.3M547.8 415.8L598.5 388.4M547.8 415.8L598.5 398M547.8 415.8L598.5 407.1M547.8 415.8L598.5 415.8M547.8 415.8L598.5 424M547.8 415.8L598.5 431.9M547.8 415.8L598.5 439.4M547.8 415.8L598.5 446.6M547.8 415.8L598.5 472.4M547.8 424L598.5 388.4M547.8 424L598.5 398M547.8 424L598.5 407.1M547.8 424L598.5 415.8M547.8 424L598.5 424M547.8 424L598.5 431.9M547.8 424L598.5 439.4M547.8 424L598.5 446.6M547.8 424L598.5 453.5M547.8 424L598.5 460M547.8 431.9L598.5 388.4M547.8 431.9L598.5 398M547.8 431.9L598.5 407.1M547.8 431.9L598.5 415.8M547.8 431.9L598.5 424M547.8 431.9L598.5 431.9M547.8 431.9L598.5 439.4M547.8 431.9L598.5 446.6M547.8 431.9L598.5 453.5M547.8 431.9L598.5 460M547.8 431.9L598.5 466.4M547.8 431.9L598.5 472.4M547.8 439.4L598.5 398M547.8 439.4L598.5 407.1M547.8 439.4L598.5 415.8M547.8 439.4L598.5 424M547.8 439.4L598.5 431.9M547.8 439.4L598.5 439.4M547.8 439.4L598.5 446.6M547.8 439.4L598.5 453.5M547.8 439.4L598.5 460M547.8 439.4L598.5 466.4M547.8 439.4L598.5 472.4M547.8 439.4L598.5 478.2M547.8 439.4L598.5 499.3M547.8 446.6L598.5 424M547.8 446.6L598.5 431.9M547.8 446.6L598.5 439.4M547.8 446.6L598.5 446.6M547.8 446.6L598.5 453.5M547.8 446.6L598.5 460M547.8 446.6L598.5 466.4M547.8 446.6L598.5 472.4M547.8 446.6L598.5 478.2M547.8 446.6L598.5 483.8M547.8 453.5L598.5 431.9M547.8 453.5L598.5 439.4M547.8 453.5L598.5 446.6M547.8 453.5L598.5 453.5M547.8 453.5L598.5 460M547.8 453.5L598.5 466.4M547.8 453.5L598.5 472.4M547.8 453.5L598.5 483.8M547.8 453.5L598.5 489.1M547.8 460L598.5 424M547.8 460L598.5 431.9M547.8 460L598.5 439.4M547.8 460L598.5 446.6M547.8 460L598.5 453.5M547.8 460L598.5 460M547.8 460L598.5 466.4M547.8 460L598.5 472.4M547.8 460L598.5 478.2M547.8 460L598.5 483.8M547.8 460L598.5 489.1M547.8 460L598.5 499.3M547.8 460L598.5 504.1M547.8 466.4L598.5 431.9M547.8 466.4L598.5 439.4M547.8 466.4L598.5 446.6M547.8 466.4L598.5 453.5M547.8 466.4L598.5 460M547.8 466.4L598.5 466.4M547.8 466.4L598.5 472.4M547.8 466.4L598.5 478.2M547.8 466.4L598.5 483.8M547.8 466.4L598.5 489.1M547.8 466.4L598.5 494.3M547.8 466.4L598.5 499.3M547.8 466.4L598.5 504.1M547.8 472.4L598.5 431.9M547.8 472.4L598.5 439.4M547.8 472.4L598.5 446.6M547.8 472.4L598.5 453.5M547.8 472.4L598.5 460M547.8 472.4L598.5 466.4M547.8 472.4L598.5 472.4M547.8 472.4L598.5 478.2M547.8 472.4L598.5 483.8M547.8 472.4L598.5 489.1M547.8 472.4L598.5 494.3M547.8 472.4L598.5 499.3M547.8 478.2L598.5 446.6M547.8 478.2L598.5 453.5M547.8 478.2L598.5 460M547.8 478.2L598.5 466.4M547.8 478.2L598.5 472.4M547.8 478.2L598.5 478.2M547.8 478.2L598.5 483.8M547.8 478.2L598.5 489.1M547.8 478.2L598.5 494.3M547.8 478.2L598.5 499.3M547.8 478.2L598.5 504.1M547.8 483.8L598.5 453.5M547.8 483.8L598.5 460M547.8 483.8L598.5 466.4M547.8 483.8L598.5 472.4M547.8 483.8L598.5 478.2M547.8 483.8L598.5 483.8M547.8 483.8L598.5 489.1M547.8 483.8L598.5 494.3M547.8 483.8L598.5 499.3M547.8 483.8L598.5 504.1M547.8 483.8L598.5 508.7M547.8 483.8L598.5 513.1M547.8 483.8L598.5 517.4M547.8 489.1L598.5 453.5M547.8 489.1L598.5 460M547.8 489.1L598.5 466.4M547.8 489.1L598.5 472.4M547.8 489.1L598.5 478.2M547.8 489.1L598.5 483.8M547.8 489.1L598.5 489.1M547.8 489.1L598.5 494.3M547.8 489.1L598.5 499.3M547.8 489.1L598.5 504.1M547.8 489.1L598.5 513.1M547.8 489.1L598.5 517.4M547.8 494.3L598.5 460M547.8 494.3L598.5 466.4M547.8 494.3L598.5 472.4M547.8 494.3L598.5 478.2M547.8 494.3L598.5 483.8M547.8 494.3L598.5 489.1M547.8 494.3L598.5 494.3M547.8 494.3L598.5 499.3M547.8 494.3L598.5 504.1M547.8 494.3L598.5 508.7M547.8 494.3L598.5 513.1M547.8 494.3L598.5 517.4M547.8 494.3L598.5 521.6M547.8 499.3L598.5 466.4M547.8 499.3L598.5 478.2M547.8 499.3L598.5 483.8M547.8 499.3L598.5 489.1M547.8 499.3L598.5 494.3M547.8 499.3L598.5 499.3M547.8 499.3L598.5 504.1M547.8 499.3L598.5 508.7M547.8 499.3L598.5 513.1M547.8 499.3L598.5 517.4M547.8 499.3L598.5 521.6M547.8 499.3L598.5 525.6M547.8 504.1L598.5 466.4M547.8 504.1L598.5 489.1M547.8 504.1L598.5 494.3M547.8 504.1L598.5 499.3M547.8 504.1L598.5 504.1M547.8 504.1L598.5 508.7M547.8 504.1L598.5 513.1M547.8 504.1L598.5 521.6M547.8 504.1L598.5 525.6M547.8 504.1L598.5 529.5M547.8 508.7L598.5 472.4M547.8 508.7L598.5 478.2M547.8 508.7L598.5 483.8M547.8 508.7L598.5 489.1M547.8 508.7L598.5 494.3M547.8 508.7L598.5 499.3M547.8 508.7L598.5 504.1M547.8 508.7L598.5 508.7M547.8 508.7L598.5 513.1M547.8 508.7L598.5 517.4M547.8 508.7L598.5 521.6M547.8 508.7L598.5 525.6M547.8 508.7L598.5 533.2M547.8 508.7L598.5 536.9M547.8 508.7L598.5 550.4M547.8 513.1L598.5 489.1M547.8 513.1L598.5 494.3M547.8 513.1L598.5 499.3M547.8 513.1L598.5 504.1M547.8 513.1L598.5 508.7M547.8 513.1L598.5 513.1M547.8 513.1L598.5 517.4M547.8 513.1L598.5 521.6M547.8 513.1L598.5 525.6M547.8 513.1L598.5 529.5M547.8 513.1L598.5 533.2M547.8 513.1L598.5 540.4M547.8 517.4L598.5 494.3M547.8 517.4L598.5 499.3M547.8 517.4L598.5 504.1M547.8 517.4L598.5 508.7M547.8 517.4L598.5 513.1M547.8 517.4L598.5 517.4M547.8 517.4L598.5 521.6M547.8 517.4L598.5 525.6M547.8 517.4L598.5 529.5M547.8 517.4L598.5 533.2M547.8 517.4L598.5 540.4M547.8 517.4L598.5 550.4M547.8 517.4L598.5 553.5M547.8 521.6L598.5 483.8M547.8 521.6L598.5 494.3M547.8 521.6L598.5 504.1M547.8 521.6L598.5 508.7M547.8 521.6L598.5 513.1M547.8 521.6L598.5 517.4M547.8 521.6L598.5 521.6M547.8 521.6L598.5 525.6M547.8 521.6L598.5 529.5M547.8 521.6L598.5 533.2M547.8 521.6L598.5 536.9M547.8 521.6L598.5 540.4M547.8 521.6L598.5 547.1M547.8 521.6L598.5 550.4M547.8 525.6L598.5 499.3M547.8 525.6L598.5 504.1M547.8 525.6L598.5 508.7M547.8 525.6L598.5 513.1M547.8 525.6L598.5 517.4M547.8 525.6L598.5 521.6M547.8 525.6L598.5 525.6M547.8 525.6L598.5 529.5M547.8 525.6L598.5 533.2M547.8 525.6L598.5 536.9M547.8 525.6L598.5 543.8M547.8 525.6L598.5 547.1M547.8 525.6L598.5 550.4M547.8 525.6L598.5 559.5M547.8 529.5L598.5 499.3M547.8 529.5L598.5 508.7M547.8 529.5L598.5 517.4M547.8 529.5L598.5 521.6M547.8 529.5L598.5 525.6M547.8 529.5L598.5 529.5M547.8 529.5L598.5 533.2M547.8 529.5L598.5 536.9M547.8 529.5L598.5 540.4M547.8 529.5L598.5 543.8M547.8 529.5L598.5 547.1M547.8 529.5L598.5 550.4M547.8 529.5L598.5 553.5M547.8 529.5L598.5 556.5M547.8 533.2L598.5 508.7M547.8 533.2L598.5 513.1M547.8 533.2L598.5 517.4M547.8 533.2L598.5 521.6M547.8 533.2L598.5 525.6M547.8 533.2L598.5 529.5M547.8 533.2L598.5 533.2M547.8 533.2L598.5 536.9M547.8 533.2L598.5 540.4M547.8 533.2L598.5 543.8M547.8 533.2L598.5 547.1M547.8 533.2L598.5 550.4M547.8 533.2L598.5 559.5M547.8 536.9L598.5 513.1M547.8 536.9L598.5 521.6M547.8 536.9L598.5 525.6M547.8 536.9L598.5 529.5M547.8 536.9L598.5 533.2M547.8 536.9L598.5 536.9M547.8 536.9L598.5 540.4M547.8 536.9L598.5 543.8M547.8 536.9L598.5 550.4M547.8 536.9L598.5 556.5M547.8 536.9L598.5 570.4M547.8 540.4L598.5 504.1M547.8 540.4L598.5 525.6M547.8 540.4L598.5 533.2M547.8 540.4L598.5 536.9M547.8 540.4L598.5 540.4M547.8 540.4L598.5 543.8M547.8 540.4L598.5 547.1M547.8 540.4L598.5 550.4M547.8 540.4L598.5 553.5M547.8 540.4L598.5 562.3M547.8 543.8L598.5 517.4M547.8 543.8L598.5 529.5M547.8 543.8L598.5 533.2M547.8 543.8L598.5 536.9M547.8 543.8L598.5 540.4M547.8 543.8L598.5 543.8M547.8 543.8L598.5 547.1M547.8 543.8L598.5 550.4M547.8 543.8L598.5 556.5M547.8 543.8L598.5 559.5M547.8 547.1L598.5 529.5M547.8 547.1L598.5 533.2M547.8 547.1L598.5 540.4M547.8 547.1L598.5 543.8M547.8 547.1L598.5 547.1M547.8 547.1L598.5 550.4M547.8 547.1L598.5 553.5M547.8 547.1L598.5 556.5M547.8 547.1L598.5 559.5M547.8 550.4L598.5 536.9M547.8 550.4L598.5 543.8M547.8 550.4L598.5 547.1M547.8 550.4L598.5 550.4M547.8 550.4L598.5 553.5M547.8 550.4L598.5 556.5M547.8 550.4L598.5 559.5M547.8 550.4L598.5 562.3M547.8 550.4L598.5 565.1M547.8 550.4L598.5 567.8M547.8 550.4L598.5 570.4M547.8 553.5L598.5 517.4M547.8 553.5L598.5 540.4M547.8 553.5L598.5 543.8M547.8 553.5L598.5 550.4M547.8 553.5L598.5 553.5M547.8 553.5L598.5 556.5M547.8 553.5L598.5 559.5M547.8 553.5L598.5 562.3M547.8 553.5L598.5 567.8M547.8 556.5L598.5 533.2M547.8 556.5L598.5 536.9M547.8 556.5L598.5 540.4M547.8 556.5L598.5 547.1M547.8 556.5L598.5 550.4M547.8 556.5L598.5 553.5M547.8 556.5L598.5 556.5M547.8 556.5L598.5 559.5M547.8 556.5L598.5 562.3M547.8 556.5L598.5 565.1M547.8 556.5L598.5 567.8M547.8 556.5L598.5 570.4M547.8 556.5L598.5 580.3M547.8 559.5L598.5 540.4M547.8 559.5L598.5 547.1M547.8 559.5L598.5 553.5M547.8 559.5L598.5 556.5M547.8 559.5L598.5 559.5M547.8 559.5L598.5 562.3M547.8 559.5L598.5 565.1M547.8 559.5L598.5 567.8M547.8 559.5L598.5 570.4M547.8 559.5L598.5 573M547.8 559.5L598.5 575.5M547.8 562.3L598.5 550.4M547.8 562.3L598.5 553.5M547.8 562.3L598.5 559.5M547.8 562.3L598.5 562.3M547.8 562.3L598.5 565.1M547.8 562.3L598.5 567.8M547.8 562.3L598.5 570.4M547.8 562.3L598.5 575.5M547.8 565.1L598.5 550.4M547.8 565.1L598.5 553.5M547.8 565.1L598.5 556.5M547.8 565.1L598.5 559.5M547.8 565.1L598.5 562.3M547.8 565.1L598.5 565.1M547.8 565.1L598.5 567.8M547.8 565.1L598.5 570.4M547.8 565.1L598.5 573M547.8 565.1L598.5 580.3M547.8 567.8L598.5 556.5M547.8 567.8L598.5 559.5M547.8 567.8L598.5 562.3M547.8 567.8L598.5 565.1M547.8 567.8L598.5 567.8M547.8 567.8L598.5 570.4M547.8 567.8L598.5 573M547.8 567.8L598.5 575.5M547.8 567.8L598.5 577.9M547.8 570.4L598.5 565.1M547.8 570.4L598.5 567.8M547.8 570.4L598.5 570.4M547.8 570.4L598.5 575.5M547.8 570.4L598.5 577.9M547.8 570.4L598.5 580.3M547.8 573L598.5 553.5M547.8 573L598.5 565.1M547.8 573L598.5 567.8M547.8 573L598.5 570.4M547.8 573L598.5 573M547.8 573L598.5 575.5M547.8 573L598.5 580.3M547.8 573L598.5 582.6M547.8 573L598.5 584.9M547.8 575.5L598.5 565.1M547.8 575.5L598.5 567.8M547.8 575.5L598.5 570.4M547.8 575.5L598.5 573M547.8 575.5L598.5 575.5M547.8 575.5L598.5 577.9M547.8 575.5L598.5 580.3M547.8 575.5L598.5 582.6M547.8 575.5L598.5 587M547.8 577.9L598.5 565.1M547.8 577.9L598.5 567.8M547.8 577.9L598.5 570.4M547.8 577.9L598.5 575.5M547.8 577.9L598.5 577.9M547.8 577.9L598.5 580.3M547.8 577.9L598.5 582.6M547.8 577.9L598.5 584.9M547.8 577.9L598.5 587M547.8 580.3L598.5 573M547.8 580.3L598.5 575.5M547.8 580.3L598.5 577.9M547.8 580.3L598.5 580.3M547.8 580.3L598.5 582.6M547.8 580.3L598.5 584.9M547.8 580.3L598.5 587M547.8 580.3L598.5 589.2M547.8 580.3L598.5 595.3M547.8 582.6L598.5 570.4M547.8 582.6L598.5 573M547.8 582.6L598.5 575.5M547.8 582.6L598.5 577.9M547.8 582.6L598.5 580.3M547.8 582.6L598.5 582.6M547.8 582.6L598.5 584.9M547.8 582.6L598.5 587M547.8 582.6L598.5 589.2M547.8 584.9L598.5 567.8M547.8 584.9L598.5 573M547.8 584.9L598.5 575.5M547.8 584.9L598.5 577.9M547.8 584.9L598.5 580.3M547.8 584.9L598.5 582.6M547.8 584.9L598.5 584.9M547.8 584.9L598.5 587M547.8 584.9L598.5 589.2M547.8 584.9L598.5 593.3M547.8 584.9L598.5 597.3M547.8 587L598.5 575.5M547.8 587L598.5 577.9M547.8 587L598.5 580.3M547.8 587L598.5 582.6M547.8 587L598.5 584.9M547.8 587L598.5 587M547.8 587L598.5 589.2M547.8 587L598.5 591.3M547.8 587L598.5 593.3M547.8 587L598.5 597.3M547.8 589.2L598.5 582.6M547.8 589.2L598.5 584.9M547.8 589.2L598.5 587M547.8 589.2L598.5 589.2M547.8 589.2L598.5 591.3M547.8 589.2L598.5 593.3M547.8 589.2L598.5 595.3M547.8 589.2L598.5 597.3M547.8 589.2L598.5 599.2M547.8 591.3L598.5 584.9M547.8 591.3L598.5 587M547.8 591.3L598.5 589.2M547.8 591.3L598.5 591.3M547.8 591.3L598.5 593.3M547.8 591.3L598.5 595.3M547.8 591.3L598.5 597.3M547.8 593.3L598.5 584.9M547.8 593.3L598.5 587M547.8 593.3L598.5 589.2M547.8 593.3L598.5 591.3M547.8 593.3L598.5 593.3M547.8 593.3L598.5 595.3M547.8 593.3L598.5 597.3M547.8 593.3L598.5 599.2M547.8 593.3L598.5 602.8M547.8 595.3L598.5 580.3M547.8 595.3L598.5 587M547.8 595.3L598.5 589.2M547.8 595.3L598.5 591.3M547.8 595.3L598.5 593.3M547.8 595.3L598.5 595.3M547.8 595.3L598.5 599.2M547.8 595.3L598.5 601M547.8 595.3L598.5 604.6M547.8 597.3L598.5 589.2M547.8 597.3L598.5 591.3M547.8 597.3L598.5 593.3M547.8 597.3L598.5 595.3M547.8 597.3L598.5 599.2M547.8 597.3L598.5 601M547.8 597.3L598.5 602.8M547.8 597.3L598.5 606.3M547.8 599.2L598.5 591.3M547.8 599.2L598.5 593.3M547.8 599.2L598.5 595.3M547.8 599.2L598.5 597.3M547.8 599.2L598.5 599.2M547.8 599.2L598.5 601M547.8 599.2L598.5 602.8M547.8 599.2L598.5 606.3M547.8 601L598.5 591.3M547.8 601L598.5 595.3M547.8 601L598.5 597.3M547.8 601L598.5 599.2M547.8 601L598.5 601M547.8 601L598.5 602.8M547.8 601L598.5 604.6M547.8 601L598.5 608M547.8 602.8L598.5 595.3M547.8 602.8L598.5 597.3M547.8 602.8L598.5 599.2M547.8 602.8L598.5 602.8M547.8 602.8L598.5 604.6M547.8 602.8L598.5 606.3M547.8 604.6L598.5 599.2M547.8 604.6L598.5 602.8M547.8 604.6L598.5 604.6M547.8 604.6L598.5 606.3M547.8 604.6L598.5 609.7M547.8 606.3L598.5 597.3M547.8 606.3L598.5 602.8M547.8 606.3L598.5 604.6M547.8 606.3L598.5 606.3M547.8 606.3L598.5 608M547.8 606.3L598.5 609.7M547.8 606.3L598.5 612.9M547.8 608L598.5 599.2M547.8 608L598.5 604.6M547.8 608L598.5 606.3M547.8 608L598.5 608M547.8 609.7L598.5 609.7M547.8 609.7L598.5 611.3M547.8 609.7L598.5 614.5M547.8 609.7L598.5 616M547.8 611.3L598.5 606.3M547.8 611.3L598.5 608M547.8 611.3L598.5 611.3M547.8 611.3L598.5 612.9M547.8 612.9L598.5 606.3M547.8 612.9L598.5 609.7M547.8 612.9L598.5 611.3M547.8 614.5L598.5 614.5M547.8 616L598.5 614.5M547.8 616L598.5 619M547.8 623.2L598.5 617.5M547.8 624.5L598.5 621.8M547.8 624.5L598.5 627.2M547.8 625.9L598.5 624.5M547.8 627.2L598.5 625.9M547.8 628.4L598.5 627.2M598.5 356.3L667.9 356.3M598.5 356.3L667.9 367.6M598.5 356.3L667.9 378.3M598.5 356.3L667.9 388.4M598.5 356.3L667.9 398M598.5 367.6L667.9 356.3M598.5 367.6L667.9 367.6M598.5 367.6L667.9 378.3M598.5 367.6L667.9 388.4M598.5 367.6L667.9 398M598.5 367.6L667.9 407.1M598.5 378.3L667.9 356.3M598.5 378.3L667.9 367.6M598.5 378.3L667.9 378.3M598.5 378.3L667.9 388.4M598.5 378.3L667.9 398M598.5 378.3L667.9 407.1M598.5 378.3L667.9 415.8M598.5 388.4L667.9 356.3M598.5 388.4L667.9 367.6M598.5 388.4L667.9 378.3M598.5 388.4L667.9 388.4M598.5 388.4L667.9 398M598.5 388.4L667.9 407.1M598.5 388.4L667.9 415.8M598.5 388.4L667.9 424M598.5 388.4L667.9 431.9M598.5 398L667.9 356.3M598.5 398L667.9 367.6M598.5 398L667.9 378.3M598.5 398L667.9 388.4M598.5 398L667.9 398M598.5 398L667.9 407.1M598.5 398L667.9 415.8M598.5 398L667.9 424M598.5 398L667.9 431.9M598.5 398L667.9 439.4M598.5 407.1L667.9 367.6M598.5 407.1L667.9 378.3M598.5 407.1L667.9 388.4M598.5 407.1L667.9 398M598.5 407.1L667.9 407.1M598.5 407.1L667.9 415.8M598.5 407.1L667.9 424M598.5 407.1L667.9 431.9M598.5 407.1L667.9 439.4M598.5 407.1L667.9 446.6M598.5 407.1L667.9 453.5M598.5 415.8L667.9 367.6M598.5 415.8L667.9 378.3M598.5 415.8L667.9 388.4M598.5 415.8L667.9 398M598.5 415.8L667.9 407.1M598.5 415.8L667.9 415.8M598.5 415.8L667.9 424M598.5 415.8L667.9 431.9M598.5 415.8L667.9 439.4M598.5 415.8L667.9 446.6M598.5 415.8L667.9 453.5M598.5 415.8L667.9 460M598.5 424L667.9 388.4M598.5 424L667.9 398M598.5 424L667.9 407.1M598.5 424L667.9 415.8M598.5 424L667.9 424M598.5 424L667.9 431.9M598.5 424L667.9 439.4M598.5 424L667.9 446.6M598.5 424L667.9 453.5M598.5 424L667.9 460M598.5 424L667.9 472.4M598.5 431.9L667.9 398M598.5 431.9L667.9 407.1M598.5 431.9L667.9 415.8M598.5 431.9L667.9 424M598.5 431.9L667.9 431.9M598.5 431.9L667.9 439.4M598.5 431.9L667.9 446.6M598.5 431.9L667.9 453.5M598.5 431.9L667.9 460M598.5 431.9L667.9 472.4M598.5 431.9L667.9 478.2M598.5 439.4L667.9 407.1M598.5 439.4L667.9 415.8M598.5 439.4L667.9 424M598.5 439.4L667.9 431.9M598.5 439.4L667.9 439.4M598.5 439.4L667.9 446.6M598.5 439.4L667.9 453.5M598.5 439.4L667.9 460M598.5 439.4L667.9 466.4M598.5 439.4L667.9 472.4M598.5 446.6L667.9 407.1M598.5 446.6L667.9 424M598.5 446.6L667.9 431.9M598.5 446.6L667.9 439.4M598.5 446.6L667.9 446.6M598.5 446.6L667.9 453.5M598.5 446.6L667.9 460M598.5 446.6L667.9 466.4M598.5 446.6L667.9 472.4M598.5 446.6L667.9 478.2M598.5 446.6L667.9 494.3M598.5 453.5L667.9 424M598.5 453.5L667.9 431.9M598.5 453.5L667.9 439.4M598.5 453.5L667.9 446.6M598.5 453.5L667.9 453.5M598.5 453.5L667.9 460M598.5 453.5L667.9 466.4M598.5 453.5L667.9 472.4M598.5 453.5L667.9 478.2M598.5 453.5L667.9 483.8M598.5 453.5L667.9 489.1M598.5 460L667.9 415.8M598.5 460L667.9 431.9M598.5 460L667.9 439.4M598.5 460L667.9 446.6M598.5 460L667.9 453.5M598.5 460L667.9 460M598.5 460L667.9 466.4M598.5 460L667.9 472.4M598.5 460L667.9 478.2M598.5 460L667.9 483.8M598.5 460L667.9 494.3M598.5 460L667.9 499.3M598.5 466.4L667.9 415.8M598.5 466.4L667.9 439.4M598.5 466.4L667.9 446.6M598.5 466.4L667.9 453.5M598.5 466.4L667.9 460M598.5 466.4L667.9 466.4M598.5 466.4L667.9 472.4M598.5 466.4L667.9 478.2M598.5 466.4L667.9 483.8M598.5 466.4L667.9 489.1M598.5 466.4L667.9 494.3M598.5 466.4L667.9 499.3M598.5 466.4L667.9 504.1M598.5 472.4L667.9 431.9M598.5 472.4L667.9 439.4M598.5 472.4L667.9 446.6M598.5 472.4L667.9 453.5M598.5 472.4L667.9 460M598.5 472.4L667.9 466.4M598.5 472.4L667.9 472.4M598.5 472.4L667.9 478.2M598.5 472.4L667.9 483.8M598.5 472.4L667.9 489.1M598.5 472.4L667.9 494.3M598.5 472.4L667.9 499.3M598.5 472.4L667.9 508.7M598.5 478.2L667.9 446.6M598.5 478.2L667.9 453.5M598.5 478.2L667.9 460M598.5 478.2L667.9 466.4M598.5 478.2L667.9 472.4M598.5 478.2L667.9 478.2M598.5 478.2L667.9 483.8M598.5 478.2L667.9 489.1M598.5 478.2L667.9 494.3M598.5 478.2L667.9 499.3M598.5 478.2L667.9 504.1M598.5 478.2L667.9 513.1M598.5 483.8L667.9 439.4M598.5 483.8L667.9 460M598.5 483.8L667.9 466.4M598.5 483.8L667.9 472.4M598.5 483.8L667.9 478.2M598.5 483.8L667.9 483.8M598.5 483.8L667.9 489.1M598.5 483.8L667.9 494.3M598.5 483.8L667.9 499.3M598.5 483.8L667.9 504.1M598.5 483.8L667.9 508.7M598.5 483.8L667.9 517.4M598.5 483.8L667.9 521.6M598.5 489.1L667.9 460M598.5 489.1L667.9 466.4M598.5 489.1L667.9 472.4M598.5 489.1L667.9 478.2M598.5 489.1L667.9 483.8M598.5 489.1L667.9 489.1M598.5 489.1L667.9 494.3M598.5 489.1L667.9 499.3M598.5 489.1L667.9 504.1M598.5 489.1L667.9 508.7M598.5 489.1L667.9 513.1M598.5 494.3L667.9 446.6M598.5 494.3L667.9 460M598.5 494.3L667.9 466.4M598.5 494.3L667.9 472.4M598.5 494.3L667.9 478.2M598.5 494.3L667.9 483.8M598.5 494.3L667.9 489.1M598.5 494.3L667.9 494.3M598.5 494.3L667.9 499.3M598.5 494.3L667.9 504.1M598.5 494.3L667.9 508.7M598.5 494.3L667.9 513.1M598.5 494.3L667.9 517.4M598.5 494.3L667.9 521.6M598.5 499.3L667.9 460M598.5 499.3L667.9 466.4M598.5 499.3L667.9 472.4M598.5 499.3L667.9 478.2M598.5 499.3L667.9 483.8M598.5 499.3L667.9 489.1M598.5 499.3L667.9 494.3M598.5 499.3L667.9 499.3M598.5 499.3L667.9 504.1M598.5 499.3L667.9 508.7M598.5 499.3L667.9 517.4M598.5 499.3L667.9 525.6M598.5 499.3L667.9 529.5M598.5 504.1L667.9 478.2M598.5 504.1L667.9 483.8M598.5 504.1L667.9 489.1M598.5 504.1L667.9 494.3M598.5 504.1L667.9 499.3M598.5 504.1L667.9 504.1M598.5 504.1L667.9 508.7M598.5 504.1L667.9 513.1M598.5 504.1L667.9 517.4M598.5 504.1L667.9 521.6M598.5 504.1L667.9 525.6M598.5 504.1L667.9 529.5M598.5 508.7L667.9 483.8M598.5 508.7L667.9 489.1M598.5 508.7L667.9 499.3M598.5 508.7L667.9 504.1M598.5 508.7L667.9 508.7M598.5 508.7L667.9 513.1M598.5 508.7L667.9 517.4M598.5 508.7L667.9 521.6M598.5 508.7L667.9 525.6M598.5 508.7L667.9 533.2M598.5 508.7L667.9 536.9M598.5 508.7L667.9 540.4M598.5 513.1L667.9 478.2M598.5 513.1L667.9 483.8M598.5 513.1L667.9 489.1M598.5 513.1L667.9 494.3M598.5 513.1L667.9 499.3M598.5 513.1L667.9 504.1M598.5 513.1L667.9 508.7M598.5 513.1L667.9 513.1M598.5 513.1L667.9 517.4M598.5 513.1L667.9 521.6M598.5 513.1L667.9 529.5M598.5 513.1L667.9 533.2M598.5 513.1L667.9 536.9M598.5 513.1L667.9 540.4M598.5 517.4L667.9 466.4M598.5 517.4L667.9 489.1M598.5 517.4L667.9 499.3M598.5 517.4L667.9 508.7M598.5 517.4L667.9 513.1M598.5 517.4L667.9 517.4M598.5 517.4L667.9 521.6M598.5 517.4L667.9 525.6M598.5 517.4L667.9 529.5M598.5 517.4L667.9 533.2M598.5 521.6L667.9 499.3M598.5 521.6L667.9 504.1M598.5 521.6L667.9 508.7M598.5 521.6L667.9 513.1M598.5 521.6L667.9 517.4M598.5 521.6L667.9 521.6M598.5 521.6L667.9 525.6M598.5 521.6L667.9 529.5M598.5 521.6L667.9 533.2M598.5 521.6L667.9 536.9M598.5 521.6L667.9 540.4M598.5 525.6L667.9 494.3M598.5 525.6L667.9 499.3M598.5 525.6L667.9 504.1M598.5 525.6L667.9 508.7M598.5 525.6L667.9 513.1M598.5 525.6L667.9 517.4M598.5 525.6L667.9 521.6M598.5 525.6L667.9 525.6M598.5 525.6L667.9 529.5M598.5 525.6L667.9 533.2M598.5 525.6L667.9 536.9M598.5 525.6L667.9 540.4M598.5 529.5L667.9 508.7M598.5 529.5L667.9 517.4M598.5 529.5L667.9 521.6M598.5 529.5L667.9 525.6M598.5 529.5L667.9 529.5M598.5 529.5L667.9 533.2M598.5 529.5L667.9 536.9M598.5 529.5L667.9 540.4M598.5 529.5L667.9 547.1M598.5 529.5L667.9 550.4M598.5 529.5L667.9 553.5M598.5 533.2L667.9 513.1M598.5 533.2L667.9 517.4M598.5 533.2L667.9 521.6M598.5 533.2L667.9 525.6M598.5 533.2L667.9 529.5M598.5 533.2L667.9 533.2M598.5 533.2L667.9 536.9M598.5 533.2L667.9 540.4M598.5 533.2L667.9 543.8M598.5 533.2L667.9 547.1M598.5 533.2L667.9 550.4M598.5 536.9L667.9 504.1M598.5 536.9L667.9 508.7M598.5 536.9L667.9 521.6M598.5 536.9L667.9 525.6M598.5 536.9L667.9 529.5M598.5 536.9L667.9 533.2M598.5 536.9L667.9 536.9M598.5 536.9L667.9 540.4M598.5 536.9L667.9 543.8M598.5 536.9L667.9 550.4M598.5 536.9L667.9 553.5M598.5 536.9L667.9 556.5M598.5 536.9L667.9 570.4M598.5 540.4L667.9 517.4M598.5 540.4L667.9 521.6M598.5 540.4L667.9 525.6M598.5 540.4L667.9 533.2M598.5 540.4L667.9 536.9M598.5 540.4L667.9 540.4M598.5 540.4L667.9 543.8M598.5 540.4L667.9 547.1M598.5 540.4L667.9 550.4M598.5 540.4L667.9 553.5M598.5 540.4L667.9 556.5M598.5 540.4L667.9 565.1M598.5 543.8L667.9 517.4M598.5 543.8L667.9 529.5M598.5 543.8L667.9 536.9M598.5 543.8L667.9 540.4M598.5 543.8L667.9 543.8M598.5 543.8L667.9 547.1M598.5 543.8L667.9 550.4M598.5 543.8L667.9 553.5M598.5 543.8L667.9 556.5M598.5 543.8L667.9 565.1M598.5 543.8L667.9 567.8M598.5 547.1L667.9 529.5M598.5 547.1L667.9 533.2M598.5 547.1L667.9 536.9M598.5 547.1L667.9 540.4M598.5 547.1L667.9 543.8M598.5 547.1L667.9 547.1M598.5 547.1L667.9 550.4M598.5 547.1L667.9 553.5M598.5 547.1L667.9 556.5M598.5 547.1L667.9 562.3M598.5 547.1L667.9 565.1M598.5 550.4L667.9 517.4M598.5 550.4L667.9 525.6M598.5 550.4L667.9 529.5M598.5 550.4L667.9 536.9M598.5 550.4L667.9 540.4M598.5 550.4L667.9 543.8M598.5 550.4L667.9 547.1M598.5 550.4L667.9 550.4M598.5 550.4L667.9 553.5M598.5 550.4L667.9 556.5M598.5 550.4L667.9 559.5M598.5 550.4L667.9 562.3M598.5 550.4L667.9 567.8M598.5 553.5L667.9 525.6M598.5 553.5L667.9 529.5M598.5 553.5L667.9 547.1M598.5 553.5L667.9 550.4M598.5 553.5L667.9 553.5M598.5 553.5L667.9 556.5M598.5 553.5L667.9 559.5M598.5 553.5L667.9 562.3M598.5 556.5L667.9 536.9M598.5 556.5L667.9 540.4M598.5 556.5L667.9 543.8M598.5 556.5L667.9 547.1M598.5 556.5L667.9 550.4M598.5 556.5L667.9 553.5M598.5 556.5L667.9 556.5M598.5 556.5L667.9 559.5M598.5 556.5L667.9 562.3M598.5 556.5L667.9 565.1M598.5 556.5L667.9 567.8M598.5 559.5L667.9 533.2M598.5 559.5L667.9 536.9M598.5 559.5L667.9 543.8M598.5 559.5L667.9 547.1M598.5 559.5L667.9 550.4M598.5 559.5L667.9 553.5M598.5 559.5L667.9 556.5M598.5 559.5L667.9 559.5M598.5 559.5L667.9 562.3M598.5 559.5L667.9 570.4M598.5 559.5L667.9 573M598.5 562.3L667.9 543.8M598.5 562.3L667.9 550.4M598.5 562.3L667.9 556.5M598.5 562.3L667.9 559.5M598.5 562.3L667.9 562.3M598.5 562.3L667.9 565.1M598.5 562.3L667.9 567.8M598.5 562.3L667.9 570.4M598.5 562.3L667.9 573M598.5 565.1L667.9 550.4M598.5 565.1L667.9 556.5M598.5 565.1L667.9 562.3M598.5 565.1L667.9 565.1M598.5 565.1L667.9 567.8M598.5 565.1L667.9 570.4M598.5 565.1L667.9 573M598.5 565.1L667.9 575.5M598.5 565.1L667.9 577.9M598.5 567.8L667.9 556.5M598.5 567.8L667.9 559.5M598.5 567.8L667.9 562.3M598.5 567.8L667.9 565.1M598.5 567.8L667.9 567.8M598.5 567.8L667.9 570.4M598.5 567.8L667.9 573M598.5 567.8L667.9 575.5M598.5 567.8L667.9 577.9M598.5 570.4L667.9 540.4M598.5 570.4L667.9 547.1M598.5 570.4L667.9 553.5M598.5 570.4L667.9 559.5M598.5 570.4L667.9 562.3M598.5 570.4L667.9 565.1M598.5 570.4L667.9 567.8M598.5 570.4L667.9 570.4M598.5 570.4L667.9 573M598.5 570.4L667.9 575.5M598.5 570.4L667.9 577.9M598.5 570.4L667.9 582.6M598.5 573L667.9 559.5M598.5 573L667.9 562.3M598.5 573L667.9 565.1M598.5 573L667.9 567.8M598.5 573L667.9 570.4M598.5 573L667.9 573M598.5 573L667.9 577.9M598.5 573L667.9 580.3M598.5 573L667.9 582.6M598.5 573L667.9 587M598.5 575.5L667.9 550.4M598.5 575.5L667.9 553.5M598.5 575.5L667.9 565.1M598.5 575.5L667.9 567.8M598.5 575.5L667.9 570.4M598.5 575.5L667.9 573M598.5 575.5L667.9 575.5M598.5 575.5L667.9 577.9M598.5 575.5L667.9 580.3M598.5 575.5L667.9 582.6M598.5 575.5L667.9 587M598.5 575.5L667.9 589.2M598.5 575.5L667.9 591.3M598.5 575.5L667.9 593.3M598.5 577.9L667.9 570.4M598.5 577.9L667.9 573M598.5 577.9L667.9 575.5M598.5 577.9L667.9 580.3M598.5 577.9L667.9 582.6M598.5 577.9L667.9 584.9M598.5 577.9L667.9 587M598.5 577.9L667.9 589.2M598.5 580.3L667.9 567.8M598.5 580.3L667.9 570.4M598.5 580.3L667.9 577.9M598.5 580.3L667.9 580.3M598.5 580.3L667.9 582.6M598.5 580.3L667.9 584.9M598.5 580.3L667.9 589.2M598.5 580.3L667.9 591.3M598.5 582.6L667.9 570.4M598.5 582.6L667.9 575.5M598.5 582.6L667.9 577.9M598.5 582.6L667.9 580.3M598.5 582.6L667.9 582.6M598.5 582.6L667.9 584.9M598.5 582.6L667.9 587M598.5 582.6L667.9 589.2M598.5 582.6L667.9 593.3M598.5 584.9L667.9 577.9M598.5 584.9L667.9 580.3M598.5 584.9L667.9 582.6M598.5 584.9L667.9 584.9M598.5 584.9L667.9 587M598.5 584.9L667.9 589.2M598.5 584.9L667.9 591.3M598.5 584.9L667.9 593.3M598.5 584.9L667.9 595.3M598.5 587L667.9 577.9M598.5 587L667.9 580.3M598.5 587L667.9 582.6M598.5 587L667.9 584.9M598.5 587L667.9 587M598.5 587L667.9 589.2M598.5 587L667.9 591.3M598.5 587L667.9 593.3M598.5 587L667.9 597.3M598.5 589.2L667.9 575.5M598.5 589.2L667.9 580.3M598.5 589.2L667.9 584.9M598.5 589.2L667.9 587M598.5 589.2L667.9 589.2M598.5 589.2L667.9 591.3M598.5 589.2L667.9 593.3M598.5 589.2L667.9 595.3M598.5 589.2L667.9 597.3M598.5 589.2L667.9 599.2M598.5 591.3L667.9 580.3M598.5 591.3L667.9 584.9M598.5 591.3L667.9 587M598.5 591.3L667.9 589.2M598.5 591.3L667.9 591.3M598.5 591.3L667.9 593.3M598.5 591.3L667.9 595.3M598.5 591.3L667.9 597.3M598.5 591.3L667.9 599.2M598.5 593.3L667.9 582.6M598.5 593.3L667.9 584.9M598.5 593.3L667.9 587M598.5 593.3L667.9 589.2M598.5 593.3L667.9 591.3M598.5 593.3L667.9 593.3M598.5 593.3L667.9 595.3M598.5 593.3L667.9 601M598.5 595.3L667.9 587M598.5 595.3L667.9 589.2M598.5 595.3L667.9 591.3M598.5 595.3L667.9 593.3M598.5 595.3L667.9 595.3M598.5 595.3L667.9 597.3M598.5 595.3L667.9 602.8M598.5 597.3L667.9 584.9M598.5 597.3L667.9 589.2M598.5 597.3L667.9 591.3M598.5 597.3L667.9 593.3M598.5 597.3L667.9 595.3M598.5 597.3L667.9 597.3M598.5 597.3L667.9 599.2M598.5 597.3L667.9 601M598.5 597.3L667.9 604.6M598.5 599.2L667.9 593.3M598.5 599.2L667.9 595.3M598.5 599.2L667.9 597.3M598.5 599.2L667.9 599.2M598.5 599.2L667.9 601M598.5 599.2L667.9 602.8M598.5 599.2L667.9 604.6M598.5 599.2L667.9 606.3M598.5 599.2L667.9 609.7M598.5 599.2L667.9 611.3M598.5 601L667.9 595.3M598.5 601L667.9 597.3M598.5 601L667.9 599.2M598.5 601L667.9 604.6M598.5 602.8L667.9 597.3M598.5 602.8L667.9 599.2M598.5 602.8L667.9 601M598.5 602.8L667.9 602.8M598.5 602.8L667.9 604.6M598.5 602.8L667.9 606.3M598.5 602.8L667.9 608M598.5 604.6L667.9 595.3M598.5 604.6L667.9 599.2M598.5 604.6L667.9 602.8M598.5 604.6L667.9 604.6M598.5 604.6L667.9 606.3M598.5 604.6L667.9 608M598.5 604.6L667.9 611.3M598.5 606.3L667.9 601M598.5 606.3L667.9 602.8M598.5 606.3L667.9 604.6M598.5 606.3L667.9 606.3M598.5 606.3L667.9 608M598.5 606.3L667.9 609.7M598.5 606.3L667.9 612.9M598.5 606.3L667.9 616M598.5 606.3L667.9 617.5M598.5 608L667.9 604.6M598.5 608L667.9 606.3M598.5 608L667.9 608M598.5 608L667.9 609.7M598.5 609.7L667.9 601M598.5 609.7L667.9 602.8M598.5 609.7L667.9 608M598.5 609.7L667.9 614.5M598.5 611.3L667.9 608M598.5 611.3L667.9 612.9M598.5 611.3L667.9 617.5M598.5 612.9L667.9 608M598.5 612.9L667.9 612.9M598.5 614.5L667.9 609.7M598.5 614.5L667.9 611.3M598.5 614.5L667.9 612.9M598.5 616L667.9 614.5M598.5 617.5L667.9 619M598.5 619L667.9 616M598.5 621.8L667.9 621.8M598.5 624.5L667.9 621.8M598.5 624.5L667.9 630.9M598.5 625.9L667.9 633.3M598.5 627.2L667.9 635.6M598.5 627.2L667.9 637.9M667.9 356.3L790 356.3M667.9 356.3L790 367.6M667.9 356.3L790 378.3M667.9 356.3L790 388.4M667.9 356.3L790 398M667.9 356.3L790 407.1M667.9 367.6L790 356.3M667.9 367.6L790 367.6M667.9 367.6L790 378.3M667.9 367.6L790 388.4M667.9 367.6L790 398M667.9 367.6L790 407.1M667.9 367.6L790 415.8M667.9 378.3L790 356.3M667.9 378.3L790 367.6M667.9 378.3L790 378.3M667.9 378.3L790 388.4M667.9 378.3L790 398M667.9 378.3L790 407.1M667.9 378.3L790 415.8M667.9 378.3L790 424M667.9 378.3L790 431.9M667.9 378.3L790 439.4M667.9 388.4L790 356.3M667.9 388.4L790 367.6M667.9 388.4L790 378.3M667.9 388.4L790 388.4M667.9 388.4L790 398M667.9 388.4L790 407.1M667.9 388.4L790 415.8M667.9 388.4L790 424M667.9 388.4L790 431.9M667.9 388.4L790 439.4M667.9 398L790 367.6M667.9 398L790 378.3M667.9 398L790 388.4M667.9 398L790 398M667.9 398L790 407.1M667.9 398L790 415.8M667.9 398L790 424M667.9 398L790 431.9M667.9 398L790 439.4M667.9 398L790 446.6M667.9 407.1L790 378.3M667.9 407.1L790 388.4M667.9 407.1L790 398M667.9 407.1L790 407.1M667.9 407.1L790 415.8M667.9 407.1L790 424M667.9 407.1L790 431.9M667.9 407.1L790 439.4M667.9 407.1L790 446.6M667.9 407.1L790 453.5M667.9 407.1L790 460M667.9 415.8L790 398M667.9 415.8L790 407.1M667.9 415.8L790 415.8M667.9 415.8L790 424M667.9 415.8L790 431.9M667.9 415.8L790 439.4M667.9 415.8L790 446.6M667.9 415.8L790 453.5M667.9 415.8L790 460M667.9 424L790 398M667.9 424L790 407.1M667.9 424L790 415.8M667.9 424L790 424M667.9 424L790 431.9M667.9 424L790 439.4M667.9 424L790 446.6M667.9 424L790 453.5M667.9 424L790 460M667.9 424L790 466.4M667.9 424L790 472.4M667.9 424L790 478.2M667.9 431.9L790 398M667.9 431.9L790 407.1M667.9 431.9L790 415.8M667.9 431.9L790 424M667.9 431.9L790 431.9M667.9 431.9L790 439.4M667.9 431.9L790 446.6M667.9 431.9L790 453.5M667.9 431.9L790 460M667.9 431.9L790 466.4M667.9 431.9L790 472.4M667.9 439.4L790 415.8M667.9 439.4L790 424M667.9 439.4L790 431.9M667.9 439.4L790 439.4M667.9 439.4L790 446.6M667.9 439.4L790 453.5M667.9 439.4L790 460M667.9 439.4L790 466.4M667.9 439.4L790 472.4M667.9 439.4L790 478.2M667.9 439.4L790 489.1M667.9 446.6L790 415.8M667.9 446.6L790 424M667.9 446.6L790 431.9M667.9 446.6L790 439.4M667.9 446.6L790 446.6M667.9 446.6L790 453.5M667.9 446.6L790 460M667.9 446.6L790 466.4M667.9 446.6L790 472.4M667.9 446.6L790 478.2M667.9 446.6L790 483.8M667.9 446.6L790 489.1M667.9 453.5L790 407.1M667.9 453.5L790 415.8M667.9 453.5L790 424M667.9 453.5L790 431.9M667.9 453.5L790 439.4M667.9 453.5L790 446.6M667.9 453.5L790 453.5M667.9 453.5L790 460M667.9 453.5L790 466.4M667.9 453.5L790 472.4M667.9 453.5L790 478.2M667.9 453.5L790 483.8M667.9 453.5L790 489.1M667.9 460L790 424M667.9 460L790 431.9M667.9 460L790 439.4M667.9 460L790 446.6M667.9 460L790 453.5M667.9 460L790 460M667.9 460L790 466.4M667.9 460L790 472.4M667.9 460L790 478.2M667.9 460L790 483.8M667.9 460L790 489.1M667.9 460L790 494.3M667.9 460L790 504.1M667.9 466.4L790 424M667.9 466.4L790 439.4M667.9 466.4L790 446.6M667.9 466.4L790 453.5M667.9 466.4L790 460M667.9 466.4L790 466.4M667.9 466.4L790 472.4M667.9 466.4L790 478.2M667.9 466.4L790 483.8M667.9 466.4L790 489.1M667.9 466.4L790 494.3M667.9 466.4L790 499.3M667.9 466.4L790 504.1M667.9 466.4L790 513.1M667.9 472.4L790 446.6M667.9 472.4L790 453.5M667.9 472.4L790 460M667.9 472.4L790 466.4M667.9 472.4L790 472.4M667.9 472.4L790 478.2M667.9 472.4L790 483.8M667.9 472.4L790 489.1M667.9 472.4L790 494.3M667.9 472.4L790 499.3M667.9 472.4L790 504.1M667.9 472.4L790 508.7M667.9 472.4L790 517.4M667.9 478.2L790 439.4M667.9 478.2L790 446.6M667.9 478.2L790 453.5M667.9 478.2L790 460M667.9 478.2L790 466.4M667.9 478.2L790 472.4M667.9 478.2L790 478.2M667.9 478.2L790 483.8M667.9 478.2L790 489.1M667.9 478.2L790 494.3M667.9 478.2L790 499.3M667.9 478.2L790 504.1M667.9 478.2L790 508.7M667.9 478.2L790 513.1M667.9 478.2L790 517.4M667.9 483.8L790 446.6M667.9 483.8L790 453.5M667.9 483.8L790 460M667.9 483.8L790 466.4M667.9 483.8L790 472.4M667.9 483.8L790 478.2M667.9 483.8L790 483.8M667.9 483.8L790 489.1M667.9 483.8L790 494.3M667.9 483.8L790 499.3M667.9 483.8L790 504.1M667.9 483.8L790 508.7M667.9 483.8L790 513.1M667.9 483.8L790 517.4M667.9 483.8L790 521.6M667.9 483.8L790 525.6M667.9 489.1L790 453.5M667.9 489.1L790 472.4M667.9 489.1L790 478.2M667.9 489.1L790 483.8M667.9 489.1L790 489.1M667.9 489.1L790 494.3M667.9 489.1L790 499.3M667.9 489.1L790 504.1M667.9 489.1L790 508.7M667.9 489.1L790 513.1M667.9 489.1L790 517.4M667.9 489.1L790 521.6M667.9 489.1L790 525.6M667.9 489.1L790 533.2M667.9 494.3L790 466.4M667.9 494.3L790 472.4M667.9 494.3L790 478.2M667.9 494.3L790 483.8M667.9 494.3L790 489.1M667.9 494.3L790 494.3M667.9 494.3L790 499.3M667.9 494.3L790 504.1M667.9 494.3L790 508.7M667.9 494.3L790 513.1M667.9 494.3L790 521.6M667.9 494.3L790 525.6M667.9 494.3L790 543.8M667.9 499.3L790 446.6M667.9 499.3L790 466.4M667.9 499.3L790 478.2M667.9 499.3L790 483.8M667.9 499.3L790 489.1M667.9 499.3L790 494.3M667.9 499.3L790 499.3M667.9 499.3L790 504.1M667.9 499.3L790 508.7M667.9 499.3L790 513.1M667.9 499.3L790 517.4M667.9 499.3L790 521.6M667.9 499.3L790 525.6M667.9 499.3L790 529.5M667.9 504.1L790 472.4M667.9 504.1L790 478.2M667.9 504.1L790 483.8M667.9 504.1L790 489.1M667.9 504.1L790 494.3M667.9 504.1L790 499.3M667.9 504.1L790 504.1M667.9 504.1L790 508.7M667.9 504.1L790 513.1M667.9 504.1L790 517.4M667.9 504.1L790 521.6M667.9 504.1L790 525.6M667.9 504.1L790 529.5M667.9 504.1L790 536.9M667.9 504.1L790 540.4M667.9 508.7L790 494.3M667.9 508.7L790 499.3M667.9 508.7L790 504.1M667.9 508.7L790 508.7M667.9 508.7L790 513.1M667.9 508.7L790 517.4M667.9 508.7L790 521.6M667.9 508.7L790 525.6M667.9 508.7L790 529.5M667.9 508.7L790 540.4M667.9 508.7L790 547.1M667.9 513.1L790 472.4M667.9 513.1L790 494.3M667.9 513.1L790 499.3M667.9 513.1L790 504.1M667.9 513.1L790 508.7M667.9 513.1L790 513.1M667.9 513.1L790 517.4M667.9 513.1L790 525.6M667.9 513.1L790 529.5M667.9 513.1L790 536.9M667.9 513.1L790 550.4M667.9 517.4L790 483.8M667.9 517.4L790 494.3M667.9 517.4L790 508.7M667.9 517.4L790 513.1M667.9 517.4L790 517.4M667.9 517.4L790 521.6M667.9 517.4L790 525.6M667.9 517.4L790 529.5M667.9 517.4L790 533.2M667.9 517.4L790 536.9M667.9 517.4L790 540.4M667.9 517.4L790 543.8M667.9 521.6L790 504.1M667.9 521.6L790 513.1M667.9 521.6L790 517.4M667.9 521.6L790 521.6M667.9 521.6L790 525.6M667.9 521.6L790 529.5M667.9 521.6L790 533.2M667.9 521.6L790 536.9M667.9 521.6L790 540.4M667.9 521.6L790 547.1M667.9 525.6L790 504.1M667.9 525.6L790 513.1M667.9 525.6L790 517.4M667.9 525.6L790 521.6M667.9 525.6L790 525.6M667.9 525.6L790 529.5M667.9 525.6L790 533.2M667.9 525.6L790 536.9M667.9 525.6L790 540.4M667.9 525.6L790 547.1M667.9 529.5L790 517.4M667.9 529.5L790 521.6M667.9 529.5L790 525.6M667.9 529.5L790 529.5M667.9 529.5L790 533.2M667.9 529.5L790 536.9M667.9 529.5L790 540.4M667.9 529.5L790 543.8M667.9 529.5L790 547.1M667.9 529.5L790 553.5M667.9 529.5L790 556.5M667.9 533.2L790 504.1M667.9 533.2L790 513.1M667.9 533.2L790 517.4M667.9 533.2L790 521.6M667.9 533.2L790 525.6M667.9 533.2L790 529.5M667.9 533.2L790 533.2M667.9 533.2L790 536.9M667.9 533.2L790 540.4M667.9 533.2L790 547.1M667.9 536.9L790 513.1M667.9 536.9L790 517.4M667.9 536.9L790 521.6M667.9 536.9L790 525.6M667.9 536.9L790 529.5M667.9 536.9L790 533.2M667.9 536.9L790 536.9M667.9 536.9L790 540.4M667.9 536.9L790 543.8M667.9 536.9L790 547.1M667.9 536.9L790 550.4M667.9 536.9L790 553.5M667.9 536.9L790 556.5M667.9 536.9L790 562.3M667.9 540.4L790 521.6M667.9 540.4L790 525.6M667.9 540.4L790 533.2M667.9 540.4L790 536.9M667.9 540.4L790 540.4M667.9 540.4L790 543.8M667.9 540.4L790 547.1M667.9 540.4L790 550.4M667.9 540.4L790 553.5M667.9 540.4L790 556.5M667.9 543.8L790 521.6M667.9 543.8L790 525.6M667.9 543.8L790 533.2M667.9 543.8L790 536.9M667.9 543.8L790 543.8M667.9 543.8L790 547.1M667.9 543.8L790 550.4M667.9 543.8L790 553.5M667.9 543.8L790 556.5M667.9 543.8L790 559.5M667.9 547.1L790 525.6M667.9 547.1L790 529.5M667.9 547.1L790 536.9M667.9 547.1L790 540.4M667.9 547.1L790 543.8M667.9 547.1L790 547.1M667.9 547.1L790 550.4M667.9 547.1L790 553.5M667.9 547.1L790 556.5M667.9 547.1L790 559.5M667.9 547.1L790 562.3M667.9 547.1L790 565.1M667.9 550.4L790 513.1M667.9 550.4L790 536.9M667.9 550.4L790 543.8M667.9 550.4L790 547.1M667.9 550.4L790 550.4M667.9 550.4L790 553.5M667.9 550.4L790 556.5M667.9 550.4L790 559.5M667.9 550.4L790 562.3M667.9 550.4L790 565.1M667.9 550.4L790 567.8M667.9 550.4L790 577.9M667.9 553.5L790 525.6M667.9 553.5L790 540.4M667.9 553.5L790 543.8M667.9 553.5L790 547.1M667.9 553.5L790 550.4M667.9 553.5L790 553.5M667.9 553.5L790 556.5M667.9 553.5L790 559.5M667.9 553.5L790 562.3M667.9 553.5L790 565.1M667.9 553.5L790 567.8M667.9 553.5L790 570.4M667.9 553.5L790 577.9M667.9 553.5L790 580.3M667.9 556.5L790 543.8M667.9 556.5L790 547.1M667.9 556.5L790 550.4M667.9 556.5L790 553.5M667.9 556.5L790 556.5M667.9 556.5L790 559.5M667.9 556.5L790 562.3M667.9 556.5L790 565.1M667.9 556.5L790 567.8M667.9 559.5L790 547.1M667.9 559.5L790 553.5M667.9 559.5L790 556.5M667.9 559.5L790 559.5M667.9 559.5L790 562.3M667.9 559.5L790 565.1M667.9 559.5L790 570.4M667.9 559.5L790 573M667.9 562.3L790 547.1M667.9 562.3L790 550.4M667.9 562.3L790 553.5M667.9 562.3L790 556.5M667.9 562.3L790 559.5M667.9 562.3L790 562.3M667.9 562.3L790 565.1M667.9 562.3L790 567.8M667.9 562.3L790 570.4M667.9 562.3L790 575.5M667.9 562.3L790 577.9M667.9 565.1L790 547.1M667.9 565.1L790 550.4M667.9 565.1L790 553.5M667.9 565.1L790 556.5M667.9 565.1L790 559.5M667.9 565.1L790 562.3M667.9 565.1L790 565.1M667.9 565.1L790 567.8M667.9 565.1L790 570.4M667.9 565.1L790 573M667.9 565.1L790 575.5M667.9 565.1L790 577.9M667.9 567.8L790 550.4M667.9 567.8L790 556.5M667.9 567.8L790 559.5M667.9 567.8L790 562.3M667.9 567.8L790 565.1M667.9 567.8L790 567.8M667.9 567.8L790 570.4M667.9 567.8L790 573M667.9 567.8L790 575.5M667.9 567.8L790 577.9M667.9 570.4L790 547.1M667.9 570.4L790 559.5M667.9 570.4L790 562.3M667.9 570.4L790 565.1M667.9 570.4L790 567.8M667.9 570.4L790 570.4M667.9 570.4L790 573M667.9 570.4L790 575.5M667.9 570.4L790 577.9M667.9 570.4L790 580.3M667.9 573L790 562.3M667.9 573L790 565.1M667.9 573L790 567.8M667.9 573L790 570.4M667.9 573L790 573M667.9 573L790 575.5M667.9 573L790 577.9M667.9 573L790 580.3M667.9 573L790 582.6M667.9 575.5L790 559.5M667.9 575.5L790 567.8M667.9 575.5L790 570.4M667.9 575.5L790 573M667.9 575.5L790 575.5M667.9 575.5L790 577.9M667.9 575.5L790 580.3M667.9 575.5L790 582.6M667.9 575.5L790 591.3M667.9 577.9L790 565.1M667.9 577.9L790 567.8M667.9 577.9L790 570.4M667.9 577.9L790 573M667.9 577.9L790 575.5M667.9 577.9L790 577.9M667.9 577.9L790 580.3M667.9 577.9L790 582.6M667.9 577.9L790 584.9M667.9 577.9L790 595.3M667.9 580.3L790 567.8M667.9 580.3L790 573M667.9 580.3L790 575.5M667.9 580.3L790 577.9M667.9 580.3L790 580.3M667.9 580.3L790 582.6M667.9 580.3L790 584.9M667.9 580.3L790 587M667.9 580.3L790 589.2M667.9 580.3L790 593.3M667.9 582.6L790 570.4M667.9 582.6L790 573M667.9 582.6L790 575.5M667.9 582.6L790 577.9M667.9 582.6L790 580.3M667.9 582.6L790 582.6M667.9 582.6L790 584.9M667.9 582.6L790 587M667.9 582.6L790 589.2M667.9 582.6L790 591.3M667.9 582.6L790 601M667.9 584.9L790 573M667.9 584.9L790 575.5M667.9 584.9L790 577.9M667.9 584.9L790 580.3M667.9 584.9L790 582.6M667.9 584.9L790 584.9M667.9 584.9L790 587M667.9 584.9L790 591.3M667.9 584.9L790 593.3M667.9 584.9L790 597.3M667.9 587L790 573M667.9 587L790 575.5M667.9 587L790 577.9M667.9 587L790 580.3M667.9 587L790 582.6M667.9 587L790 584.9M667.9 587L790 587M667.9 587L790 589.2M667.9 587L790 591.3M667.9 587L790 595.3M667.9 589.2L790 577.9M667.9 589.2L790 580.3M667.9 589.2L790 582.6M667.9 589.2L790 584.9M667.9 589.2L790 587M667.9 589.2L790 589.2M667.9 589.2L790 591.3M667.9 589.2L790 593.3M667.9 589.2L790 595.3M667.9 591.3L790 577.9M667.9 591.3L790 580.3M667.9 591.3L790 582.6M667.9 591.3L790 584.9M667.9 591.3L790 587M667.9 591.3L790 589.2M667.9 591.3L790 593.3M667.9 591.3L790 595.3M667.9 591.3L790 599.2M667.9 593.3L790 580.3M667.9 593.3L790 582.6M667.9 593.3L790 584.9M667.9 593.3L790 587M667.9 593.3L790 589.2M667.9 593.3L790 591.3M667.9 593.3L790 593.3M667.9 593.3L790 595.3M667.9 593.3L790 597.3M667.9 593.3L790 599.2M667.9 593.3L790 601M667.9 595.3L790 584.9M667.9 595.3L790 589.2M667.9 595.3L790 591.3M667.9 595.3L790 593.3M667.9 595.3L790 595.3M667.9 595.3L790 601M667.9 597.3L790 580.3M667.9 597.3L790 582.6M667.9 597.3L790 589.2M667.9 597.3L790 591.3M667.9 597.3L790 593.3M667.9 597.3L790 595.3M667.9 597.3L790 597.3M667.9 597.3L790 599.2M667.9 597.3L790 601M667.9 597.3L790 604.6M667.9 599.2L790 591.3M667.9 599.2L790 593.3M667.9 599.2L790 597.3M667.9 599.2L790 599.2M667.9 599.2L790 601M667.9 599.2L790 602.8M667.9 601L790 587M667.9 601L790 593.3M667.9 601L790 595.3M667.9 601L790 597.3M667.9 601L790 599.2M667.9 601L790 601M667.9 601L790 602.8M667.9 601L790 604.6M667.9 602.8L790 595.3M667.9 602.8L790 597.3M667.9 602.8L790 599.2M667.9 602.8L790 601M667.9 602.8L790 602.8M667.9 602.8L790 604.6M667.9 602.8L790 608M667.9 604.6L790 597.3M667.9 604.6L790 599.2M667.9 604.6L790 601M667.9 604.6L790 604.6M667.9 604.6L790 608M667.9 606.3L790 597.3M667.9 606.3L790 599.2M667.9 606.3L790 602.8M667.9 606.3L790 606.3M667.9 606.3L790 609.7M667.9 608L790 601M667.9 608L790 606.3M667.9 608L790 608M667.9 608L790 612.9M667.9 609.7L790 602.8M667.9 609.7L790 606.3M667.9 609.7L790 609.7M667.9 611.3L790 602.8M667.9 611.3L790 606.3M667.9 611.3L790 614.5M667.9 612.9L790 602.8M667.9 612.9L790 608M667.9 612.9L790 616M667.9 614.5L790 604.6M667.9 614.5L790 614.5M667.9 616L790 606.3M667.9 616L790 612.9M667.9 616L790 614.5M667.9 617.5L790 602.8M667.9 617.5L790 606.3M667.9 619L790 623.2M667.9 621.8L790 612.9M667.9 621.8L790 623.2M667.9 630.9L790 625.9M667.9 633.3L790 627.2M667.9 635.6L790 624.5M667.9 637.9L790 628.4M790 356.3L843.1 356.3M790 356.3L843.1 367.6M790 356.3L843.1 378.3M790 356.3L843.1 388.4M790 356.3L843.1 398M790 356.3L843.1 407.1M790 356.3L843.1 415.8M790 367.6L843.1 356.3M790 367.6L843.1 367.6M790 367.6L843.1 378.3M790 367.6L843.1 388.4M790 367.6L843.1 398M790 367.6L843.1 407.1M790 378.3L843.1 356.3M790 378.3L843.1 367.6M790 378.3L843.1 378.3M790 378.3L843.1 388.4M790 378.3L843.1 398M790 378.3L843.1 407.1M790 378.3L843.1 415.8M790 388.4L843.1 356.3M790 388.4L843.1 367.6M790 388.4L843.1 378.3M790 388.4L843.1 388.4M790 388.4L843.1 398M790 388.4L843.1 407.1M790 388.4L843.1 415.8M790 388.4L843.1 424M790 388.4L843.1 439.4M790 398L843.1 356.3M790 398L843.1 367.6M790 398L843.1 378.3M790 398L843.1 388.4M790 398L843.1 398M790 398L843.1 407.1M790 398L843.1 415.8M790 398L843.1 424M790 398L843.1 431.9M790 398L843.1 439.4M790 407.1L843.1 378.3M790 407.1L843.1 388.4M790 407.1L843.1 398M790 407.1L843.1 407.1M790 407.1L843.1 415.8M790 407.1L843.1 424M790 407.1L843.1 431.9M790 407.1L843.1 439.4M790 407.1L843.1 446.6M790 415.8L843.1 388.4M790 415.8L843.1 398M790 415.8L843.1 407.1M790 415.8L843.1 415.8M790 415.8L843.1 424M790 415.8L843.1 431.9M790 415.8L843.1 439.4M790 415.8L843.1 446.6M790 415.8L843.1 453.5M790 424L843.1 398M790 424L843.1 407.1M790 424L843.1 415.8M790 424L843.1 424M790 424L843.1 431.9M790 424L843.1 439.4M790 424L843.1 446.6M790 424L843.1 453.5M790 424L843.1 460M790 431.9L843.1 388.4M790 431.9L843.1 398M790 431.9L843.1 407.1M790 431.9L843.1 415.8M790 431.9L843.1 424M790 431.9L843.1 431.9M790 431.9L843.1 439.4M790 431.9L843.1 446.6M790 431.9L843.1 453.5M790 431.9L843.1 460M790 431.9L843.1 466.4M790 431.9L843.1 472.4M790 431.9L843.1 478.2M790 431.9L843.1 483.8M790 439.4L843.1 398M790 439.4L843.1 407.1M790 439.4L843.1 415.8M790 439.4L843.1 424M790 439.4L843.1 431.9M790 439.4L843.1 439.4M790 439.4L843.1 446.6M790 439.4L843.1 453.5M790 439.4L843.1 460M790 439.4L843.1 466.4M790 439.4L843.1 472.4M790 446.6L843.1 407.1M790 446.6L843.1 415.8M790 446.6L843.1 424M790 446.6L843.1 431.9M790 446.6L843.1 439.4M790 446.6L843.1 446.6M790 446.6L843.1 453.5M790 446.6L843.1 460M790 446.6L843.1 466.4M790 446.6L843.1 472.4M790 446.6L843.1 478.2M790 446.6L843.1 483.8M790 446.6L843.1 489.1M790 446.6L843.1 499.3M790 453.5L843.1 415.8M790 453.5L843.1 424M790 453.5L843.1 431.9M790 453.5L843.1 439.4M790 453.5L843.1 446.6M790 453.5L843.1 453.5M790 453.5L843.1 460M790 453.5L843.1 466.4M790 453.5L843.1 472.4M790 453.5L843.1 478.2M790 453.5L843.1 489.1M790 453.5L843.1 494.3M790 453.5L843.1 504.1M790 460L843.1 424M790 460L843.1 431.9M790 460L843.1 439.4M790 460L843.1 446.6M790 460L843.1 453.5M790 460L843.1 460M790 460L843.1 466.4M790 460L843.1 472.4M790 460L843.1 478.2M790 460L843.1 483.8M790 460L843.1 499.3M790 466.4L843.1 424M790 466.4L843.1 431.9M790 466.4L843.1 446.6M790 466.4L843.1 453.5M790 466.4L843.1 460M790 466.4L843.1 466.4M790 466.4L843.1 472.4M790 466.4L843.1 478.2M790 466.4L843.1 483.8M790 466.4L843.1 489.1M790 466.4L843.1 504.1M790 466.4L843.1 517.4M790 472.4L843.1 431.9M790 472.4L843.1 446.6M790 472.4L843.1 453.5M790 472.4L843.1 460M790 472.4L843.1 466.4M790 472.4L843.1 472.4M790 472.4L843.1 478.2M790 472.4L843.1 483.8M790 472.4L843.1 489.1M790 472.4L843.1 494.3M790 472.4L843.1 499.3M790 472.4L843.1 504.1M790 472.4L843.1 508.7M790 478.2L843.1 439.4M790 478.2L843.1 446.6M790 478.2L843.1 453.5M790 478.2L843.1 460M790 478.2L843.1 466.4M790 478.2L843.1 472.4M790 478.2L843.1 478.2M790 478.2L843.1 483.8M790 478.2L843.1 489.1M790 478.2L843.1 494.3M790 478.2L843.1 499.3M790 478.2L843.1 504.1M790 478.2L843.1 517.4M790 483.8L843.1 453.5M790 483.8L843.1 460M790 483.8L843.1 466.4M790 483.8L843.1 472.4M790 483.8L843.1 478.2M790 483.8L843.1 483.8M790 483.8L843.1 489.1M790 483.8L843.1 494.3M790 483.8L843.1 499.3M790 483.8L843.1 504.1M790 483.8L843.1 513.1M790 483.8L843.1 517.4M790 483.8L843.1 521.6M790 489.1L843.1 453.5M790 489.1L843.1 460M790 489.1L843.1 466.4M790 489.1L843.1 472.4M790 489.1L843.1 478.2M790 489.1L843.1 483.8M790 489.1L843.1 489.1M790 489.1L843.1 494.3M790 489.1L843.1 499.3M790 489.1L843.1 504.1M790 489.1L843.1 508.7M790 489.1L843.1 513.1M790 489.1L843.1 525.6M790 494.3L843.1 466.4M790 494.3L843.1 472.4M790 494.3L843.1 478.2M790 494.3L843.1 483.8M790 494.3L843.1 489.1M790 494.3L843.1 494.3M790 494.3L843.1 499.3M790 494.3L843.1 504.1M790 494.3L843.1 508.7M790 494.3L843.1 517.4M790 499.3L843.1 446.6M790 499.3L843.1 453.5M790 499.3L843.1 466.4M790 499.3L843.1 478.2M790 499.3L843.1 483.8M790 499.3L843.1 489.1M790 499.3L843.1 494.3M790 499.3L843.1 499.3M790 499.3L843.1 504.1M790 499.3L843.1 508.7M790 499.3L843.1 513.1M790 499.3L843.1 517.4M790 499.3L843.1 521.6M790 499.3L843.1 525.6M790 499.3L843.1 529.5M790 499.3L843.1 533.2M790 504.1L843.1 472.4M790 504.1L843.1 478.2M790 504.1L843.1 483.8M790 504.1L843.1 489.1M790 504.1L843.1 494.3M790 504.1L843.1 499.3M790 504.1L843.1 504.1M790 504.1L843.1 508.7M790 504.1L843.1 513.1M790 504.1L843.1 517.4M790 504.1L843.1 521.6M790 504.1L843.1 525.6M790 504.1L843.1 529.5M790 504.1L843.1 533.2M790 504.1L843.1 536.9M790 508.7L843.1 478.2M790 508.7L843.1 483.8M790 508.7L843.1 489.1M790 508.7L843.1 494.3M790 508.7L843.1 499.3M790 508.7L843.1 504.1M790 508.7L843.1 508.7M790 508.7L843.1 513.1M790 508.7L843.1 517.4M790 513.1L843.1 472.4M790 513.1L843.1 478.2M790 513.1L843.1 483.8M790 513.1L843.1 494.3M790 513.1L843.1 499.3M790 513.1L843.1 504.1M790 513.1L843.1 508.7M790 513.1L843.1 513.1M790 513.1L843.1 517.4M790 513.1L843.1 521.6M790 513.1L843.1 525.6M790 513.1L843.1 529.5M790 513.1L843.1 536.9M790 513.1L843.1 540.4M790 513.1L843.1 543.8M790 513.1L843.1 562.3M790 517.4L843.1 472.4M790 517.4L843.1 489.1M790 517.4L843.1 504.1M790 517.4L843.1 508.7M790 517.4L843.1 513.1M790 517.4L843.1 517.4M790 517.4L843.1 521.6M790 517.4L843.1 525.6M790 517.4L843.1 529.5M790 517.4L843.1 533.2M790 517.4L843.1 536.9M790 517.4L843.1 543.8M790 521.6L843.1 483.8M790 521.6L843.1 494.3M790 521.6L843.1 499.3M790 521.6L843.1 504.1M790 521.6L843.1 508.7M790 521.6L843.1 513.1M790 521.6L843.1 517.4M790 521.6L843.1 521.6M790 521.6L843.1 525.6M790 521.6L843.1 529.5M790 521.6L843.1 533.2M790 521.6L843.1 540.4M790 521.6L843.1 547.1M790 521.6L843.1 556.5M790 525.6L843.1 483.8M790 525.6L843.1 489.1M790 525.6L843.1 499.3M790 525.6L843.1 508.7M790 525.6L843.1 513.1M790 525.6L843.1 517.4M790 525.6L843.1 521.6M790 525.6L843.1 525.6M790 525.6L843.1 529.5M790 525.6L843.1 533.2M790 525.6L843.1 536.9M790 525.6L843.1 540.4M790 525.6L843.1 547.1M790 525.6L843.1 556.5M790 529.5L843.1 499.3M790 529.5L843.1 508.7M790 529.5L843.1 517.4M790 529.5L843.1 521.6M790 529.5L843.1 525.6M790 529.5L843.1 529.5M790 529.5L843.1 533.2M790 529.5L843.1 536.9M790 529.5L843.1 540.4M790 529.5L843.1 547.1M790 529.5L843.1 550.4M790 533.2L843.1 508.7M790 533.2L843.1 517.4M790 533.2L843.1 521.6M790 533.2L843.1 525.6M790 533.2L843.1 529.5M790 533.2L843.1 533.2M790 533.2L843.1 536.9M790 533.2L843.1 540.4M790 533.2L843.1 543.8M790 533.2L843.1 547.1M790 533.2L843.1 553.5M790 533.2L843.1 556.5M790 536.9L843.1 513.1M790 536.9L843.1 525.6M790 536.9L843.1 529.5M790 536.9L843.1 533.2M790 536.9L843.1 536.9M790 536.9L843.1 540.4M790 536.9L843.1 543.8M790 536.9L843.1 547.1M790 536.9L843.1 550.4M790 536.9L843.1 553.5M790 536.9L843.1 556.5M790 536.9L843.1 559.5M790 540.4L843.1 517.4M790 540.4L843.1 521.6M790 540.4L843.1 525.6M790 540.4L843.1 529.5M790 540.4L843.1 533.2M790 540.4L843.1 536.9M790 540.4L843.1 540.4M790 540.4L843.1 543.8M790 540.4L843.1 547.1M790 540.4L843.1 550.4M790 540.4L843.1 553.5M790 540.4L843.1 556.5M790 543.8L843.1 508.7M790 543.8L843.1 529.5M790 543.8L843.1 533.2M790 543.8L843.1 536.9M790 543.8L843.1 540.4M790 543.8L843.1 547.1M790 543.8L843.1 550.4M790 543.8L843.1 553.5M790 543.8L843.1 556.5M790 543.8L843.1 559.5M790 543.8L843.1 562.3M790 547.1L843.1 525.6M790 547.1L843.1 529.5M790 547.1L843.1 536.9M790 547.1L843.1 540.4M790 547.1L843.1 543.8M790 547.1L843.1 547.1M790 547.1L843.1 550.4M790 547.1L843.1 553.5M790 547.1L843.1 556.5M790 547.1L843.1 559.5M790 547.1L843.1 562.3M790 547.1L843.1 565.1M790 547.1L843.1 567.8M790 547.1L843.1 570.4M790 547.1L843.1 575.5M790 550.4L843.1 533.2M790 550.4L843.1 543.8M790 550.4L843.1 547.1M790 550.4L843.1 550.4M790 550.4L843.1 553.5M790 550.4L843.1 556.5M790 550.4L843.1 559.5M790 550.4L843.1 562.3M790 550.4L843.1 565.1M790 550.4L843.1 570.4M790 550.4L843.1 573M790 550.4L843.1 575.5M790 553.5L843.1 540.4M790 553.5L843.1 543.8M790 553.5L843.1 547.1M790 553.5L843.1 550.4M790 553.5L843.1 553.5M790 553.5L843.1 556.5M790 553.5L843.1 559.5M790 553.5L843.1 565.1M790 553.5L843.1 567.8M790 553.5L843.1 573M790 556.5L843.1 529.5M790 556.5L843.1 533.2M790 556.5L843.1 550.4M790 556.5L843.1 553.5M790 556.5L843.1 556.5M790 556.5L843.1 559.5M790 556.5L843.1 562.3M790 556.5L843.1 565.1M790 556.5L843.1 567.8M790 556.5L843.1 570.4M790 559.5L843.1 547.1M790 559.5L843.1 550.4M790 559.5L843.1 553.5M790 559.5L843.1 556.5M790 559.5L843.1 559.5M790 559.5L843.1 562.3M790 559.5L843.1 565.1M790 559.5L843.1 567.8M790 559.5L843.1 570.4M790 559.5L843.1 575.5M790 559.5L843.1 580.3M790 562.3L843.1 550.4M790 562.3L843.1 553.5M790 562.3L843.1 556.5M790 562.3L843.1 559.5M790 562.3L843.1 562.3M790 562.3L843.1 565.1M790 562.3L843.1 567.8M790 562.3L843.1 570.4M790 562.3L843.1 573M790 562.3L843.1 575.5M790 565.1L843.1 536.9M790 565.1L843.1 550.4M790 565.1L843.1 553.5M790 565.1L843.1 556.5M790 565.1L843.1 559.5M790 565.1L843.1 562.3M790 565.1L843.1 565.1M790 565.1L843.1 567.8M790 565.1L843.1 570.4M790 565.1L843.1 575.5M790 565.1L843.1 580.3M790 567.8L843.1 553.5M790 567.8L843.1 556.5M790 567.8L843.1 559.5M790 567.8L843.1 562.3M790 567.8L843.1 565.1M790 567.8L843.1 567.8M790 567.8L843.1 570.4M790 567.8L843.1 573M790 567.8L843.1 575.5M790 567.8L843.1 577.9M790 567.8L843.1 582.6M790 567.8L843.1 589.2M790 570.4L843.1 556.5M790 570.4L843.1 559.5M790 570.4L843.1 562.3M790 570.4L843.1 565.1M790 570.4L843.1 567.8M790 570.4L843.1 570.4M790 570.4L843.1 573M790 570.4L843.1 575.5M790 570.4L843.1 577.9M790 570.4L843.1 584.9M790 573L843.1 559.5M790 573L843.1 562.3M790 573L843.1 565.1M790 573L843.1 567.8M790 573L843.1 570.4M790 573L843.1 573M790 573L843.1 577.9M790 573L843.1 580.3M790 573L843.1 582.6M790 575.5L843.1 559.5M790 575.5L843.1 565.1M790 575.5L843.1 567.8M790 575.5L843.1 570.4M790 575.5L843.1 573M790 575.5L843.1 575.5M790 575.5L843.1 577.9M790 575.5L843.1 580.3M790 575.5L843.1 582.6M790 575.5L843.1 587M790 577.9L843.1 562.3M790 577.9L843.1 565.1M790 577.9L843.1 567.8M790 577.9L843.1 570.4M790 577.9L843.1 573M790 577.9L843.1 575.5M790 577.9L843.1 577.9M790 577.9L843.1 580.3M790 577.9L843.1 582.6M790 577.9L843.1 584.9M790 577.9L843.1 587M790 577.9L843.1 589.2M790 577.9L843.1 591.3M790 580.3L843.1 570.4M790 580.3L843.1 573M790 580.3L843.1 575.5M790 580.3L843.1 577.9M790 580.3L843.1 580.3M790 580.3L843.1 582.6M790 580.3L843.1 584.9M790 580.3L843.1 587M790 580.3L843.1 589.2M790 580.3L843.1 593.3M790 580.3L843.1 595.3M790 580.3L843.1 597.3M790 582.6L843.1 573M790 582.6L843.1 575.5M790 582.6L843.1 577.9M790 582.6L843.1 580.3M790 582.6L843.1 582.6M790 582.6L843.1 584.9M790 582.6L843.1 587M790 582.6L843.1 589.2M790 582.6L843.1 591.3M790 582.6L843.1 595.3M790 584.9L843.1 577.9M790 584.9L843.1 580.3M790 584.9L843.1 582.6M790 584.9L843.1 584.9M790 584.9L843.1 587M790 584.9L843.1 589.2M790 584.9L843.1 595.3M790 587L843.1 573M790 587L843.1 577.9M790 587L843.1 580.3M790 587L843.1 582.6M790 587L843.1 584.9M790 587L843.1 587M790 587L843.1 589.2M790 587L843.1 591.3M790 587L843.1 595.3M790 589.2L843.1 575.5M790 589.2L843.1 580.3M790 589.2L843.1 582.6M790 589.2L843.1 584.9M790 589.2L843.1 587M790 589.2L843.1 589.2M790 589.2L843.1 591.3M790 589.2L843.1 593.3M790 589.2L843.1 595.3M790 589.2L843.1 597.3M790 589.2L843.1 601M790 591.3L843.1 575.5M790 591.3L843.1 580.3M790 591.3L843.1 582.6M790 591.3L843.1 584.9M790 591.3L843.1 587M790 591.3L843.1 589.2M790 591.3L843.1 591.3M790 591.3L843.1 595.3M790 591.3L843.1 597.3M790 591.3L843.1 599.2M790 593.3L843.1 584.9M790 593.3L843.1 587M790 593.3L843.1 589.2M790 593.3L843.1 591.3M790 593.3L843.1 593.3M790 593.3L843.1 595.3M790 593.3L843.1 597.3M790 593.3L843.1 599.2M790 595.3L843.1 580.3M790 595.3L843.1 584.9M790 595.3L843.1 587M790 595.3L843.1 589.2M790 595.3L843.1 591.3M790 595.3L843.1 593.3M790 595.3L843.1 595.3M790 595.3L843.1 597.3M790 595.3L843.1 599.2M790 595.3L843.1 602.8M790 597.3L843.1 580.3M790 597.3L843.1 584.9M790 597.3L843.1 589.2M790 597.3L843.1 591.3M790 597.3L843.1 595.3M790 597.3L843.1 597.3M790 597.3L843.1 599.2M790 597.3L843.1 601M790 597.3L843.1 602.8M790 597.3L843.1 604.6M790 599.2L843.1 582.6M790 599.2L843.1 591.3M790 599.2L843.1 597.3M790 599.2L843.1 599.2M790 599.2L843.1 601M790 599.2L843.1 602.8M790 599.2L843.1 606.3M790 601L843.1 591.3M790 601L843.1 593.3M790 601L843.1 595.3M790 601L843.1 597.3M790 601L843.1 599.2M790 601L843.1 601M790 601L843.1 602.8M790 601L843.1 604.6M790 601L843.1 608M790 602.8L843.1 593.3M790 602.8L843.1 595.3M790 602.8L843.1 601M790 602.8L843.1 602.8M790 602.8L843.1 606.3M790 602.8L843.1 616M790 604.6L843.1 597.3M790 604.6L843.1 599.2M790 604.6L843.1 601M790 604.6L843.1 602.8M790 604.6L843.1 612.9M790 606.3L843.1 604.6M790 606.3L843.1 606.3M790 606.3L843.1 611.3M790 608L843.1 599.2M790 608L843.1 604.6M790 608L843.1 608M790 608L843.1 609.7M790 609.7L843.1 602.8M790 609.7L843.1 608M790 612.9L843.1 599.2M790 612.9L843.1 609.7M790 612.9L843.1 617.5M790 614.5L843.1 608M790 614.5L843.1 609.7M790 614.5L843.1 616M790 616L843.1 614.5M790 623.2L843.1 612.9M790 623.2L843.1 617.5M790 624.5L843.1 627.2M790 625.9L843.1 625.9M790 627.2L843.1 628.4M790 628.4L843.1 643.1"/>
</g>
<g id="raw-dots" fill="#cccccc">
<circle cx="259.9" cy="193.8" r="6.45"/>
<circle cx="259.9" cy="215.7" r="6.45"/>
<circle cx="259.9" cy="235.9" r="6.45"/>
<circle cx="259.9" cy="254.7" r="6.45"/>
<circle cx="259.9" cy="272.3" r="6.45"/>
<circle cx="259.9" cy="288.6" r="6.45"/>
<circle cx="259.9" cy="303.9" r="6.45"/>
<circle cx="259.9" cy="318.2" r="6.45"/>
<circle cx="259.9" cy="331.7" r="6.45"/>
<circle cx="259.9" cy="344.4" r="6.45"/>
<circle cx="259.9" cy="356.3" r="6.45"/>
<circle cx="259.9" cy="367.6" r="6.45"/>
<circle cx="259.9" cy="378.3" r="6.45"/>
<circle cx="259.9" cy="388.4" r="6.45"/>
<circle cx="259.9" cy="398" r="6.45"/>
<circle cx="259.9" cy="407.1" r="6.45"/>
<circle cx="259.9" cy="415.8" r="6.45"/>
<circle cx="259.9" cy="424" r="6.45"/>
<circle cx="259.9" cy="431.9" r="6.45"/>
<circle cx="259.9" cy="439.4" r="6.45"/>
<circle cx="259.9" cy="446.6" r="6.45"/>
<circle cx="259.9" cy="453.5" r="6.45"/>
<circle cx="259.9" cy="460" r="6.45"/>
<circle cx="259.9" cy="466.4" r="6.45"/>
<circle cx="259.9" cy="472.4" r="6.45"/>
<circle cx="259.9" cy="478.2" r="6.45"/>
<circle cx="259.9" cy="483.8" r="6.45"/>
<circle cx="259.9" cy="489.1" r="6.45"/>
<circle cx="259.9" cy="494.3" r="6.45"/>
<circle cx="259.9" cy="499.3" r="6.45"/>
<circle cx="259.9" cy="504.1" r="6.45"/>
<circle cx="259.9" cy="508.7" r="6.45"/>
<circle cx="259.9" cy="513.1" r="6.45"/>
<circle cx="259.9" cy="517.4" r="6.45"/>
<circle cx="259.9" cy="521.6" r="6.45"/>
<circle cx="259.9" cy="525.6" r="6.45"/>
<circle cx="259.9" cy="529.5" r="6.45"/>
<circle cx="259.9" cy="533.2" r="6.45"/>
<circle cx="259.9" cy="536.9" r="6.45"/>
<circle cx="259.9" cy="540.4" r="6.45"/>
<circle cx="259.9" cy="543.8" r="6.45"/>
<circle cx="259.9" cy="547.1" r="6.45"/>
<circle cx="259.9" cy="550.4" r="6.45"/>
<circle cx="259.9" cy="553.5" r="6.45"/>
<circle cx="259.9" cy="556.5" r="6.45"/>
<circle cx="259.9" cy="559.5" r="6.45"/>
<circle cx="259.9" cy="562.3" r="6.45"/>
<circle cx="259.9" cy="565.1" r="6.45"/>
<circle cx="259.9" cy="567.8" r="6.45"/>
<circle cx="259.9" cy="570.4" r="6.45"/>
<circle cx="259.9" cy="573" r="6.45"/>
<circle cx="259.9" cy="575.5" r="6.45"/>
<circle cx="259.9" cy="577.9" r="6.45"/>
<circle cx="259.9" cy="580.3" r="6.45"/>
<circle cx="259.9" cy="582.6" r="6.45"/>
<circle cx="259.9" cy="584.9" r="6.45"/>
<circle cx="259.9" cy="587" r="6.45"/>
<circle cx="259.9" cy="589.2" r="6.45"/>
<circle cx="259.9" cy="591.3" r="6.45"/>
<circle cx="259.9" cy="593.3" r="6.45"/>
<circle cx="259.9" cy="595.3" r="6.45"/>
<circle cx="259.9" cy="597.3" r="6.45"/>
<circle cx="259.9" cy="599.2" r="6.45"/>
<circle cx="259.9" cy="601" r="6.45"/>
<circle cx="259.9" cy="602.8" r="6.45"/>
<circle cx="259.9" cy="604.6" r="6.45"/>
<circle cx="259.9" cy="606.3" r="6.45"/>
<circle cx="259.9" cy="608" r="6.45"/>
<circle cx="259.9" cy="609.7" r="6.45"/>
<circle cx="259.9" cy="611.3" r="6.45"/>
<circle cx="259.9" cy="612.9" r="6.45"/>
<circle cx="259.9" cy="617.5" r="6.45"/>
<circle cx="259.9" cy="619" r="6.45"/>
<circle cx="259.9" cy="623.2" r="6.45"/>
<circle cx="259.9" cy="624.5" r="6.45"/>
<circle cx="259.9" cy="625.9" r="6.45"/>
<circle cx="259.9" cy="627.2" r="6.45"/>
<circle cx="369.5" cy="193.8" r="6.45"/>
<circle cx="369.5" cy="215.7" r="6.45"/>
<circle cx="369.5" cy="235.9" r="6.45"/>
<circle cx="369.5" cy="254.7" r="6.45"/>
<circle cx="369.5" cy="272.3" r="6.45"/>
<circle cx="369.5" cy="288.6" r="6.45"/>
<circle cx="369.5" cy="303.9" r="6.45"/>
<circle cx="369.5" cy="318.2" r="6.45"/>
<circle cx="369.5" cy="331.7" r="6.45"/>
<circle cx="369.5" cy="344.4" r="6.45"/>
<circle cx="369.5" cy="356.3" r="6.45"/>
<circle cx="369.5" cy="367.6" r="6.45"/>
<circle cx="369.5" cy="378.3" r="6.45"/>
<circle cx="369.5" cy="388.4" r="6.45"/>
<circle cx="369.5" cy="398" r="6.45"/>
<circle cx="369.5" cy="407.1" r="6.45"/>
<circle cx="369.5" cy="415.8" r="6.45"/>
<circle cx="369.5" cy="424" r="6.45"/>
<circle cx="369.5" cy="431.9" r="6.45"/>
<circle cx="369.5" cy="439.4" r="6.45"/>
<circle cx="369.5" cy="446.6" r="6.45"/>
<circle cx="369.5" cy="453.5" r="6.45"/>
<circle cx="369.5" cy="460" r="6.45"/>
<circle cx="369.5" cy="466.4" r="6.45"/>
<circle cx="369.5" cy="472.4" r="6.45"/>
<circle cx="369.5" cy="478.2" r="6.45"/>
<circle cx="369.5" cy="483.8" r="6.45"/>
<circle cx="369.5" cy="489.1" r="6.45"/>
<circle cx="369.5" cy="494.3" r="6.45"/>
<circle cx="369.5" cy="499.3" r="6.45"/>
<circle cx="369.5" cy="504.1" r="6.45"/>
<circle cx="369.5" cy="508.7" r="6.45"/>
<circle cx="369.5" cy="513.1" r="6.45"/>
<circle cx="369.5" cy="517.4" r="6.45"/>
<circle cx="369.5" cy="521.6" r="6.45"/>
<circle cx="369.5" cy="525.6" r="6.45"/>
<circle cx="369.5" cy="529.5" r="6.45"/>
<circle cx="369.5" cy="533.2" r="6.45"/>
<circle cx="369.5" cy="536.9" r="6.45"/>
<circle cx="369.5" cy="540.4" r="6.45"/>
<circle cx="369.5" cy="543.8" r="6.45"/>
<circle cx="369.5" cy="547.1" r="6.45"/>
<circle cx="369.5" cy="550.4" r="6.45"/>
<circle cx="369.5" cy="553.5" r="6.45"/>
<circle cx="369.5" cy="556.5" r="6.45"/>
<circle cx="369.5" cy="559.5" r="6.45"/>
<circle cx="369.5" cy="562.3" r="6.45"/>
<circle cx="369.5" cy="565.1" r="6.45"/>
<circle cx="369.5" cy="567.8" r="6.45"/>
<circle cx="369.5" cy="570.4" r="6.45"/>
<circle cx="369.5" cy="573" r="6.45"/>
<circle cx="369.5" cy="575.5" r="6.45"/>
<circle cx="369.5" cy="577.9" r="6.45"/>
<circle cx="369.5" cy="580.3" r="6.45"/>
<circle cx="369.5" cy="582.6" r="6.45"/>
<circle cx="369.5" cy="584.9" r="6.45"/>
<circle cx="369.5" cy="587" r="6.45"/>
<circle cx="369.5" cy="589.2" r="6.45"/>
<circle cx="369.5" cy="591.3" r="6.45"/>
<circle cx="369.5" cy="593.3" r="6.45"/>
<circle cx="369.5" cy="595.3" r="6.45"/>
<circle cx="369.5" cy="597.3" r="6.45"/>
<circle cx="369.5" cy="599.2" r="6.45"/>
<circle cx="369.5" cy="601" r="6.45"/>
<circle cx="369.5" cy="602.8" r="6.45"/>
<circle cx="369.5" cy="604.6" r="6.45"/>
<circle cx="369.5" cy="606.3" r="6.45"/>
<circle cx="369.5" cy="608" r="6.45"/>
<circle cx="369.5" cy="609.7" r="6.45"/>
<circle cx="369.5" cy="611.3" r="6.45"/>
<circle cx="369.5" cy="612.9" r="6.45"/>
<circle cx="369.5" cy="616" r="6.45"/>
<circle cx="369.5" cy="619" r="6.45"/>
<circle cx="369.5" cy="620.4" r="6.45"/>
<circle cx="369.5" cy="623.2" r="6.45"/>
<circle cx="369.5" cy="624.5" r="6.45"/>
<circle cx="369.5" cy="625.9" r="6.45"/>
<circle cx="369.5" cy="627.2" r="6.45"/>
<circle cx="438.5" cy="193.8" r="6.45"/>
<circle cx="438.5" cy="215.7" r="6.45"/>
<circle cx="438.5" cy="235.9" r="6.45"/>
<circle cx="438.5" cy="254.7" r="6.45"/>
<circle cx="438.5" cy="272.3" r="6.45"/>
<circle cx="438.5" cy="288.6" r="6.45"/>
<circle cx="438.5" cy="303.9" r="6.45"/>
<circle cx="438.5" cy="318.2" r="6.45"/>
<circle cx="438.5" cy="331.7" r="6.45"/>
<circle cx="438.5" cy="344.4" r="6.45"/>
<circle cx="438.5" cy="356.3" r="6.45"/>
<circle cx="438.5" cy="367.6" r="6.45"/>
<circle cx="438.5" cy="378.3" r="6.45"/>
<circle cx="438.5" cy="388.4" r="6.45"/>
<circle cx="438.5" cy="398" r="6.45"/>
<circle cx="438.5" cy="407.1" r="6.45"/>
<circle cx="438.5" cy="415.8" r="6.45"/>
<circle cx="438.5" cy="424" r="6.45"/>
<circle cx="438.5" cy="431.9" r="6.45"/>
<circle cx="438.5" cy="439.4" r="6.45"/>
<circle cx="438.5" cy="446.6" r="6.45"/>
<circle cx="438.5" cy="453.5" r="6.45"/>
<circle cx="438.5" cy="460" r="6.45"/>
<circle cx="438.5" cy="466.4" r="6.45"/>
<circle cx="438.5" cy="472.4" r="6.45"/>
<circle cx="438.5" cy="478.2" r="6.45"/>
<circle cx="438.5" cy="483.8" r="6.45"/>
<circle cx="438.5" cy="489.1" r="6.45"/>
<circle cx="438.5" cy="494.3" r="6.45"/>
<circle cx="438.5" cy="499.3" r="6.45"/>
<circle cx="438.5" cy="504.1" r="6.45"/>
<circle cx="438.5" cy="508.7" r="6.45"/>
<circle cx="438.5" cy="513.1" r="6.45"/>
<circle cx="438.5" cy="517.4" r="6.45"/>
<circle cx="438.5" cy="521.6" r="6.45"/>
<circle cx="438.5" cy="525.6" r="6.45"/>
<circle cx="438.5" cy="529.5" r="6.45"/>
<circle cx="438.5" cy="533.2" r="6.45"/>
<circle cx="438.5" cy="536.9" r="6.45"/>
<circle cx="438.5" cy="540.4" r="6.45"/>
<circle cx="438.5" cy="543.8" r="6.45"/>
<circle cx="438.5" cy="547.1" r="6.45"/>
<circle cx="438.5" cy="550.4" r="6.45"/>
<circle cx="438.5" cy="553.5" r="6.45"/>
<circle cx="438.5" cy="556.5" r="6.45"/>
<circle cx="438.5" cy="559.5" r="6.45"/>
<circle cx="438.5" cy="562.3" r="6.45"/>
<circle cx="438.5" cy="565.1" r="6.45"/>
<circle cx="438.5" cy="567.8" r="6.45"/>
<circle cx="438.5" cy="570.4" r="6.45"/>
<circle cx="438.5" cy="573" r="6.45"/>
<circle cx="438.5" cy="575.5" r="6.45"/>
<circle cx="438.5" cy="577.9" r="6.45"/>
<circle cx="438.5" cy="580.3" r="6.45"/>
<circle cx="438.5" cy="582.6" r="6.45"/>
<circle cx="438.5" cy="584.9" r="6.45"/>
<circle cx="438.5" cy="587" r="6.45"/>
<circle cx="438.5" cy="589.2" r="6.45"/>
<circle cx="438.5" cy="591.3" r="6.45"/>
<circle cx="438.5" cy="593.3" r="6.45"/>
<circle cx="438.5" cy="595.3" r="6.45"/>
<circle cx="438.5" cy="597.3" r="6.45"/>
<circle cx="438.5" cy="599.2" r="6.45"/>
<circle cx="438.5" cy="601" r="6.45"/>
<circle cx="438.5" cy="602.8" r="6.45"/>
<circle cx="438.5" cy="604.6" r="6.45"/>
<circle cx="438.5" cy="606.3" r="6.45"/>
<circle cx="438.5" cy="608" r="6.45"/>
<circle cx="438.5" cy="609.7" r="6.45"/>
<circle cx="438.5" cy="611.3" r="6.45"/>
<circle cx="438.5" cy="612.9" r="6.45"/>
<circle cx="438.5" cy="614.5" r="6.45"/>
<circle cx="438.5" cy="616" r="6.45"/>
<circle cx="438.5" cy="617.5" r="6.45"/>
<circle cx="438.5" cy="619" r="6.45"/>
<circle cx="438.5" cy="620.4" r="6.45"/>
<circle cx="438.5" cy="623.2" r="6.45"/>
<circle cx="438.5" cy="624.5" r="6.45"/>
<circle cx="438.5" cy="625.9" r="6.45"/>
<circle cx="438.5" cy="627.2" r="6.45"/>
<circle cx="438.5" cy="628.4" r="6.45"/>
<circle cx="547.8" cy="193.8" r="6.45"/>
<circle cx="547.8" cy="215.7" r="6.45"/>
<circle cx="547.8" cy="235.9" r="6.45"/>
<circle cx="547.8" cy="254.7" r="6.45"/>
<circle cx="547.8" cy="272.3" r="6.45"/>
<circle cx="547.8" cy="288.6" r="6.45"/>
<circle cx="547.8" cy="303.9" r="6.45"/>
<circle cx="547.8" cy="318.2" r="6.45"/>
<circle cx="547.8" cy="331.7" r="6.45"/>
<circle cx="547.8" cy="344.4" r="6.45"/>
<circle cx="547.8" cy="356.3" r="6.45"/>
<circle cx="547.8" cy="367.6" r="6.45"/>
<circle cx="547.8" cy="378.3" r="6.45"/>
<circle cx="547.8" cy="388.4" r="6.45"/>
<circle cx="547.8" cy="398" r="6.45"/>
<circle cx="547.8" cy="407.1" r="6.45"/>
<circle cx="547.8" cy="415.8" r="6.45"/>
<circle cx="547.8" cy="424" r="6.45"/>
<circle cx="547.8" cy="431.9" r="6.45"/>
<circle cx="547.8" cy="439.4" r="6.45"/>
<circle cx="547.8" cy="446.6" r="6.45"/>
<circle cx="547.8" cy="453.5" r="6.45"/>
<circle cx="547.8" cy="460" r="6.45"/>
<circle cx="547.8" cy="466.4" r="6.45"/>
<circle cx="547.8" cy="472.4" r="6.45"/>
<circle cx="547.8" cy="478.2" r="6.45"/>
<circle cx="547.8" cy="483.8" r="6.45"/>
<circle cx="547.8" cy="489.1" r="6.45"/>
<circle cx="547.8" cy="494.3" r="6.45"/>
<circle cx="547.8" cy="499.3" r="6.45"/>
<circle cx="547.8" cy="504.1" r="6.45"/>
<circle cx="547.8" cy="508.7" r="6.45"/>
<circle cx="547.8" cy="513.1" r="6.45"/>
<circle cx="547.8" cy="517.4" r="6.45"/>
<circle cx="547.8" cy="521.6" r="6.45"/>
<circle cx="547.8" cy="525.6" r="6.45"/>
<circle cx="547.8" cy="529.5" r="6.45"/>
<circle cx="547.8" cy="533.2" r="6.45"/>
<circle cx="547.8" cy="536.9" r="6.45"/>
<circle cx="547.8" cy="540.4" r="6.45"/>
<circle cx="547.8" cy="543.8" r="6.45"/>
<circle cx="547.8" cy="547.1" r="6.45"/>
<circle cx="547.8" cy="550.4" r="6.45"/>
<circle cx="547.8" cy="553.5" r="6.45"/>
<circle cx="547.8" cy="556.5" r="6.45"/>
<circle cx="547.8" cy="559.5" r="6.45"/>
<circle cx="547.8" cy="562.3" r="6.45"/>
<circle cx="547.8" cy="565.1" r="6.45"/>
<circle cx="547.8" cy="567.8" r="6.45"/>
<circle cx="547.8" cy="570.4" r="6.45"/>
<circle cx="547.8" cy="573" r="6.45"/>
<circle cx="547.8" cy="575.5" r="6.45"/>
<circle cx="547.8" cy="577.9" r="6.45"/>
<circle cx="547.8" cy="580.3" r="6.45"/>
<circle cx="547.8" cy="582.6" r="6.45"/>
<circle cx="547.8" cy="584.9" r="6.45"/>
<circle cx="547.8" cy="587" r="6.45"/>
<circle cx="547.8" cy="589.2" r="6.45"/>
<circle cx="547.8" cy="591.3" r="6.45"/>
<circle cx="547.8" cy="593.3" r="6.45"/>
<circle cx="547.8" cy="595.3" r="6.45"/>
<circle cx="547.8" cy="597.3" r="6.45"/>
<circle cx="547.8" cy="599.2" r="6.45"/>
<circle cx="547.8" cy="601" r="6.45"/>
<circle cx="547.8" cy="602.8" r="6.45"/>
<circle cx="547.8" cy="604.6" r="6.45"/>
<circle cx="547.8" cy="606.3" r="6.45"/>
<circle cx="547.8" cy="608" r="6.45"/>
<circle cx="547.8" cy="609.7" r="6.45"/>
<circle cx="547.8" cy="611.3" r="6.45"/>
<circle cx="547.8" cy="612.9" r="6.45"/>
<circle cx="547.8" cy="614.5" r="6.45"/>
<circle cx="547.8" cy="616" r="6.45"/>
<circle cx="547.8" cy="623.2" r="6.45"/>
<circle cx="547.8" cy="624.5" r="6.45"/>
<circle cx="547.8" cy="625.9" r="6.45"/>
<circle cx="547.8" cy="627.2" r="6.45"/>
<circle cx="547.8" cy="628.4" r="6.45"/>
<circle cx="598.5" cy="193.8" r="6.45"/>
<circle cx="598.5" cy="215.7" r="6.45"/>
<circle cx="598.5" cy="235.9" r="6.45"/>
<circle cx="598.5" cy="254.7" r="6.45"/>
<circle cx="598.5" cy="272.3" r="6.45"/>
<circle cx="598.5" cy="288.6" r="6.45"/>
<circle cx="598.5" cy="303.9" r="6.45"/>
<circle cx="598.5" cy="318.2" r="6.45"/>
<circle cx="598.5" cy="331.7" r="6.45"/>
<circle cx="598.5" cy="344.4" r="6.45"/>
<circle cx="598.5" cy="356.3" r="6.45"/>
<circle cx="598.5" cy="367.6" r="6.45"/>
<circle cx="598.5" cy="378.3" r="6.45"/>
<circle cx="598.5" cy="388.4" r="6.45"/>
<circle cx="598.5" cy="398" r="6.45"/>
<circle cx="598.5" cy="407.1" r="6.45"/>
<circle cx="598.5" cy="415.8" r="6.45"/>
<circle cx="598.5" cy="424" r="6.45"/>
<circle cx="598.5" cy="431.9" r="6.45"/>
<circle cx="598.5" cy="439.4" r="6.45"/>
<circle cx="598.5" cy="446.6" r="6.45"/>
<circle cx="598.5" cy="453.5" r="6.45"/>
<circle cx="598.5" cy="460" r="6.45"/>
<circle cx="598.5" cy="466.4" r="6.45"/>
<circle cx="598.5" cy="472.4" r="6.45"/>
<circle cx="598.5" cy="478.2" r="6.45"/>
<circle cx="598.5" cy="483.8" r="6.45"/>
<circle cx="598.5" cy="489.1" r="6.45"/>
<circle cx="598.5" cy="494.3" r="6.45"/>
<circle cx="598.5" cy="499.3" r="6.45"/>
<circle cx="598.5" cy="504.1" r="6.45"/>
<circle cx="598.5" cy="508.7" r="6.45"/>
<circle cx="598.5" cy="513.1" r="6.45"/>
<circle cx="598.5" cy="517.4" r="6.45"/>
<circle cx="598.5" cy="521.6" r="6.45"/>
<circle cx="598.5" cy="525.6" r="6.45"/>
<circle cx="598.5" cy="529.5" r="6.45"/>
<circle cx="598.5" cy="533.2" r="6.45"/>
<circle cx="598.5" cy="536.9" r="6.45"/>
<circle cx="598.5" cy="540.4" r="6.45"/>
<circle cx="598.5" cy="543.8" r="6.45"/>
<circle cx="598.5" cy="547.1" r="6.45"/>
<circle cx="598.5" cy="550.4" r="6.45"/>
<circle cx="598.5" cy="553.5" r="6.45"/>
<circle cx="598.5" cy="556.5" r="6.45"/>
<circle cx="598.5" cy="559.5" r="6.45"/>
<circle cx="598.5" cy="562.3" r="6.45"/>
<circle cx="598.5" cy="565.1" r="6.45"/>
<circle cx="598.5" cy="567.8" r="6.45"/>
<circle cx="598.5" cy="570.4" r="6.45"/>
<circle cx="598.5" cy="573" r="6.45"/>
<circle cx="598.5" cy="575.5" r="6.45"/>
<circle cx="598.5" cy="577.9" r="6.45"/>
<circle cx="598.5" cy="580.3" r="6.45"/>
<circle cx="598.5" cy="582.6" r="6.45"/>
<circle cx="598.5" cy="584.9" r="6.45"/>
<circle cx="598.5" cy="587" r="6.45"/>
<circle cx="598.5" cy="589.2" r="6.45"/>
<circle cx="598.5" cy="591.3" r="6.45"/>
<circle cx="598.5" cy="593.3" r="6.45"/>
<circle cx="598.5" cy="595.3" r="6.45"/>
<circle cx="598.5" cy="597.3" r="6.45"/>
<circle cx="598.5" cy="599.2" r="6.45"/>
<circle cx="598.5" cy="601" r="6.45"/>
<circle cx="598.5" cy="602.8" r="6.45"/>
<circle cx="598.5" cy="604.6" r="6.45"/>
<circle cx="598.5" cy="606.3" r="6.45"/>
<circle cx="598.5" cy="608" r="6.45"/>
<circle cx="598.5" cy="609.7" r="6.45"/>
<circle cx="598.5" cy="611.3" r="6.45"/>
<circle cx="598.5" cy="612.9" r="6.45"/>
<circle cx="598.5" cy="614.5" r="6.45"/>
<circle cx="598.5" cy="616" r="6.45"/>
<circle cx="598.5" cy="617.5" r="6.45"/>
<circle cx="598.5" cy="619" r="6.45"/>
<circle cx="598.5" cy="621.8" r="6.45"/>
<circle cx="598.5" cy="624.5" r="6.45"/>
<circle cx="598.5" cy="625.9" r="6.45"/>
<circle cx="598.5" cy="627.2" r="6.45"/>
<circle cx="667.9" cy="215.7" r="6.45"/>
<circle cx="667.9" cy="235.9" r="6.45"/>
<circle cx="667.9" cy="254.7" r="6.45"/>
<circle cx="667.9" cy="272.3" r="6.45"/>
<circle cx="667.9" cy="288.6" r="6.45"/>
<circle cx="667.9" cy="303.9" r="6.45"/>
<circle cx="667.9" cy="318.2" r="6.45"/>
<circle cx="667.9" cy="331.7" r="6.45"/>
<circle cx="667.9" cy="344.4" r="6.45"/>
<circle cx="667.9" cy="356.3" r="6.45"/>
<circle cx="667.9" cy="367.6" r="6.45"/>
<circle cx="667.9" cy="378.3" r="6.45"/>
<circle cx="667.9" cy="388.4" r="6.45"/>
<circle cx="667.9" cy="398" r="6.45"/>
<circle cx="667.9" cy="407.1" r="6.45"/>
<circle cx="667.9" cy="415.8" r="6.45"/>
<circle cx="667.9" cy="424" r="6.45"/>
<circle cx="667.9" cy="431.9" r="6.45"/>
<circle cx="667.9" cy="439.4" r="6.45"/>
<circle cx="667.9" cy="446.6" r="6.45"/>
<circle cx="667.9" cy="453.5" r="6.45"/>
<circle cx="667.9" cy="460" r="6.45"/>
<circle cx="667.9" cy="466.4" r="6.45"/>
<circle cx="667.9" cy="472.4" r="6.45"/>
<circle cx="667.9" cy="478.2" r="6.45"/>
<circle cx="667.9" cy="483.8" r="6.45"/>
<circle cx="667.9" cy="489.1" r="6.45"/>
<circle cx="667.9" cy="494.3" r="6.45"/>
<circle cx="667.9" cy="499.3" r="6.45"/>
<circle cx="667.9" cy="504.1" r="6.45"/>
<circle cx="667.9" cy="508.7" r="6.45"/>
<circle cx="667.9" cy="513.1" r="6.45"/>
<circle cx="667.9" cy="517.4" r="6.45"/>
<circle cx="667.9" cy="521.6" r="6.45"/>
<circle cx="667.9" cy="525.6" r="6.45"/>
<circle cx="667.9" cy="529.5" r="6.45"/>
<circle cx="667.9" cy="533.2" r="6.45"/>
<circle cx="667.9" cy="536.9" r="6.45"/>
<circle cx="667.9" cy="540.4" r="6.45"/>
<circle cx="667.9" cy="543.8" r="6.45"/>
<circle cx="667.9" cy="547.1" r="6.45"/>
<circle cx="667.9" cy="550.4" r="6.45"/>
<circle cx="667.9" cy="553.5" r="6.45"/>
<circle cx="667.9" cy="556.5" r="6.45"/>
<circle cx="667.9" cy="559.5" r="6.45"/>
<circle cx="667.9" cy="562.3" r="6.45"/>
<circle cx="667.9" cy="565.1" r="6.45"/>
<circle cx="667.9" cy="567.8" r="6.45"/>
<circle cx="667.9" cy="570.4" r="6.45"/>
<circle cx="667.9" cy="573" r="6.45"/>
<circle cx="667.9" cy="575.5" r="6.45"/>
<circle cx="667.9" cy="577.9" r="6.45"/>
<circle cx="667.9" cy="580.3" r="6.45"/>
<circle cx="667.9" cy="582.6" r="6.45"/>
<circle cx="667.9" cy="584.9" r="6.45"/>
<circle cx="667.9" cy="587" r="6.45"/>
<circle cx="667.9" cy="589.2" r="6.45"/>
<circle cx="667.9" cy="591.3" r="6.45"/>
<circle cx="667.9" cy="593.3" r="6.45"/>
<circle cx="667.9" cy="595.3" r="6.45"/>
<circle cx="667.9" cy="597.3" r="6.45"/>
<circle cx="667.9" cy="599.2" r="6.45"/>
<circle cx="667.9" cy="601" r="6.45"/>
<circle cx="667.9" cy="602.8" r="6.45"/>
<circle cx="667.9" cy="604.6" r="6.45"/>
<circle cx="667.9" cy="606.3" r="6.45"/>
<circle cx="667.9" cy="608" r="6.45"/>
<circle cx="667.9" cy="609.7" r="6.45"/>
<circle cx="667.9" cy="611.3" r="6.45"/>
<circle cx="667.9" cy="612.9" r="6.45"/>
<circle cx="667.9" cy="614.5" r="6.45"/>
<circle cx="667.9" cy="616" r="6.45"/>
<circle cx="667.9" cy="617.5" r="6.45"/>
<circle cx="667.9" cy="619" r="6.45"/>
<circle cx="667.9" cy="621.8" r="6.45"/>
<circle cx="667.9" cy="630.9" r="6.45"/>
<circle cx="667.9" cy="633.3" r="6.45"/>
<circle cx="667.9" cy="635.6" r="6.45"/>
<circle cx="667.9" cy="637.9" r="6.45"/>
<circle cx="790" cy="215.7" r="6.45"/>
<circle cx="790" cy="235.9" r="6.45"/>
<circle cx="790" cy="254.7" r="6.45"/>
<circle cx="790" cy="272.3" r="6.45"/>
<circle cx="790" cy="288.6" r="6.45"/>
<circle cx="790" cy="303.9" r="6.45"/>
<circle cx="790" cy="318.2" r="6.45"/>
<circle cx="790" cy="331.7" r="6.45"/>
<circle cx="790" cy="344.4" r="6.45"/>
<circle cx="790" cy="356.3" r="6.45"/>
<circle cx="790" cy="367.6" r="6.45"/>
<circle cx="790" cy="378.3" r="6.45"/>
<circle cx="790" cy="388.4" r="6.45"/>
<circle cx="790" cy="398" r="6.45"/>
<circle cx="790" cy="407.1" r="6.45"/>
<circle cx="790" cy="415.8" r="6.45"/>
<circle cx="790" cy="424" r="6.45"/>
<circle cx="790" cy="431.9" r="6.45"/>
<circle cx="790" cy="439.4" r="6.45"/>
<circle cx="790" cy="446.6" r="6.45"/>
<circle cx="790" cy="453.5" r="6.45"/>
<circle cx="790" cy="460" r="6.45"/>
<circle cx="790" cy="466.4" r="6.45"/>
<circle cx="790" cy="472.4" r="6.45"/>
<circle cx="790" cy="478.2" r="6.45"/>
<circle cx="790" cy="483.8" r="6.45"/>
<circle cx="790" cy="489.1" r="6.45"/>
<circle cx="790" cy="494.3" r="6.45"/>
<circle cx="790" cy="499.3" r="6.45"/>
<circle cx="790" cy="504.1" r="6.45"/>
<circle cx="790" cy="508.7" r="6.45"/>
<circle cx="790" cy="513.1" r="6.45"/>
<circle cx="790" cy="517.4" r="6.45"/>
<circle cx="790" cy="521.6" r="6.45"/>
<circle cx="790" cy="525.6" r="6.45"/>
<circle cx="790" cy="529.5" r="6.45"/>
<circle cx="790" cy="533.2" r="6.45"/>
<circle cx="790" cy="536.9" r="6.45"/>
<circle cx="790" cy="540.4" r="6.45"/>
<circle cx="790" cy="543.8" r="6.45"/>
<circle cx="790" cy="547.1" r="6.45"/>
<circle cx="790" cy="550.4" r="6.45"/>
<circle cx="790" cy="553.5" r="6.45"/>
<circle cx="790" cy="556.5" r="6.45"/>
<circle cx="790" cy="559.5" r="6.45"/>
<circle cx="790" cy="562.3" r="6.45"/>
<circle cx="790" cy="565.1" r="6.45"/>
<circle cx="790" cy="567.8" r="6.45"/>
<circle cx="790" cy="570.4" r="6.45"/>
<circle cx="790" cy="573" r="6.45"/>
<circle cx="790" cy="575.5" r="6.45"/>
<circle cx="790" cy="577.9" r="6.45"/>
<circle cx="790" cy="580.3" r="6.45"/>
<circle cx="790" cy="582.6" r="6.45"/>
<circle cx="790" cy="584.9" r="6.45"/>
<circle cx="790" cy="587" r="6.45"/>
<circle cx="790" cy="589.2" r="6.45"/>
<circle cx="790" cy="591.3" r="6.45"/>
<circle cx="790" cy="593.3" r="6.45"/>
<circle cx="790" cy="595.3" r="6.45"/>
<circle cx="790" cy="597.3" r="6.45"/>
<circle cx="790" cy="599.2" r="6.45"/>
<circle cx="790" cy="601" r="6.45"/>
<circle cx="790" cy="602.8" r="6.45"/>
<circle cx="790" cy="604.6" r="6.45"/>
<circle cx="790" cy="606.3" r="6.45"/>
<circle cx="790" cy="608" r="6.45"/>
<circle cx="790" cy="609.7" r="6.45"/>
<circle cx="790" cy="612.9" r="6.45"/>
<circle cx="790" cy="614.5" r="6.45"/>
<circle cx="790" cy="616" r="6.45"/>
<circle cx="790" cy="623.2" r="6.45"/>
<circle cx="790" cy="624.5" r="6.45"/>
<circle cx="790" cy="625.9" r="6.45"/>
<circle cx="790" cy="627.2" r="6.45"/>
<circle cx="790" cy="628.4" r="6.45"/>
<circle cx="843.1" cy="215.7" r="6.45"/>
<circle cx="843.1" cy="235.9" r="6.45"/>
<circle cx="843.1" cy="254.7" r="6.45"/>
<circle cx="843.1" cy="272.3" r="6.45"/>
<circle cx="843.1" cy="288.6" r="6.45"/>
<circle cx="843.1" cy="303.9" r="6.45"/>
<circle cx="843.1" cy="318.2" r="6.45"/>
<circle cx="843.1" cy="331.7" r="6.45"/>
<circle cx="843.1" cy="344.4" r="6.45"/>
<circle cx="843.1" cy="356.3" r="6.45"/>
<circle cx="843.1" cy="367.6" r="6.45"/>
<circle cx="843.1" cy="378.3" r="6.45"/>
<circle cx="843.1" cy="388.4" r="6.45"/>
<circle cx="843.1" cy="398" r="6.45"/>
<circle cx="843.1" cy="407.1" r="6.45"/>
<circle cx="843.1" cy="415.8" r="6.45"/>
<circle cx="843.1" cy="424" r="6.45"/>
<circle cx="843.1" cy="431.9" r="6.45"/>
<circle cx="843.1" cy="439.4" r="6.45"/>
<circle cx="843.1" cy="446.6" r="6.45"/>
<circle cx="843.1" cy="453.5" r="6.45"/>
<circle cx="843.1" cy="460" r="6.45"/>
<circle cx="843.1" cy="466.4" r="6.45"/>
<circle cx="843.1" cy="472.4" r="6.45"/>
<circle cx="843.1" cy="478.2" r="6.45"/>
<circle cx="843.1" cy="483.8" r="6.45"/>
<circle cx="843.1" cy="489.1" r="6.45"/>
<circle cx="843.1" cy="494.3" r="6.45"/>
<circle cx="843.1" cy="499.3" r="6.45"/>
<circle cx="843.1" cy="504.1" r="6.45"/>
<circle cx="843.1" cy="508.7" r="6.45"/>
<circle cx="843.1" cy="513.1" r="6.45"/>
<circle cx="843.1" cy="517.4" r="6.45"/>
<circle cx="843.1" cy="521.6" r="6.45"/>
<circle cx="843.1" cy="525.6" r="6.45"/>
<circle cx="843.1" cy="529.5" r="6.45"/>
<circle cx="843.1" cy="533.2" r="6.45"/>
<circle cx="843.1" cy="536.9" r="6.45"/>
<circle cx="843.1" cy="540.4" r="6.45"/>
<circle cx="843.1" cy="543.8" r="6.45"/>
<circle cx="843.1" cy="547.1" r="6.45"/>
<circle cx="843.1" cy="550.4" r="6.45"/>
<circle cx="843.1" cy="553.5" r="6.45"/>
<circle cx="843.1" cy="556.5" r="6.45"/>
<circle cx="843.1" cy="559.5" r="6.45"/>
<circle cx="843.1" cy="562.3" r="6.45"/>
<circle cx="843.1" cy="565.1" r="6.45"/>
<circle cx="843.1" cy="567.8" r="6.45"/>
<circle cx="843.1" cy="570.4" r="6.45"/>
<circle cx="843.1" cy="573" r="6.45"/>
<circle cx="843.1" cy="575.5" r="6.45"/>
<circle cx="843.1" cy="577.9" r="6.45"/>
<circle cx="843.1" cy="580.3" r="6.45"/>
<circle cx="843.1" cy="582.6" r="6.45"/>
<circle cx="843.1" cy="584.9" r="6.45"/>
<circle cx="843.1" cy="587" r="6.45"/>
<circle cx="843.1" cy="589.2" r="6.45"/>
<circle cx="843.1" cy="591.3" r="6.45"/>
<circle cx="843.1" cy="593.3" r="6.45"/>
<circle cx="843.1" cy="595.3" r="6.45"/>
<circle cx="843.1" cy="597.3" r="6.45"/>
<circle cx="843.1" cy="599.2" r="6.45"/>
<circle cx="843.1" cy="601" r="6.45"/>
<circle cx="843.1" cy="602.8" r="6.45"/>
<circle cx="843.1" cy="604.6" r="6.45"/>
<circle cx="843.1" cy="606.3" r="6.45"/>
<circle cx="843.1" cy="608" r="6.45"/>
<circle cx="843.1" cy="609.7" r="6.45"/>
<circle cx="843.1" cy="611.3" r="6.45"/>
<circle cx="843.1" cy="612.9" r="6.45"/>
<circle cx="843.1" cy="614.5" r="6.45"/>
<circle cx="843.1" cy="616" r="6.45"/>
<circle cx="843.1" cy="617.5" r="6.45"/>
<circle cx="843.1" cy="625.9" r="6.45"/>
<circle cx="843.1" cy="627.2" r="6.45"/>
<circle cx="843.1" cy="628.4" r="6.45"/>
<circle cx="843.1" cy="643.1" r="6.45"/>
</g>
<g id="median-lines" fill="none" stroke="#008000" stroke-width="2.2" stroke-linejoin="round">
<polyline points="81.5,234.4 259.9,245.8 369.5,250.3 438.5,254.6 547.8,262.7 598.5,266 667.9,270.5 790,283.7 843.1,288.2"/>
<polyline points="81.5,280.4 259.9,294.2 369.5,300.1 438.5,305.1 547.8,309.4 598.5,310.7 667.9,316.5 790,327.4 843.1,328.4"/>
<polyline points="81.5,311.4 259.9,324.5 369.5,331.2 438.5,334.7 547.8,341.8 598.5,341.8 667.9,346.1 790,353.6 843.1,356.9"/>
<polyline points="81.5,337.9 259.9,347.5 369.5,353.6 438.5,354.9 547.8,360.7 598.5,364 667.9,366.3 790,375.5 843.1,380.8"/>
<polyline points="81.5,365.2 259.9,375.9 369.5,381.1 438.5,385.2 547.8,390.6 598.5,392.6 667.9,397.2 790,407 843.1,409.8"/>
<polyline points="81.5,396.4 259.9,404.5 369.5,407 438.5,409 547.8,412.8 598.5,414.9 667.9,418.4 790,428 843.1,430"/>
<polyline points="81.5,422.9 259.9,430.5 369.5,431.8 438.5,435.1 547.8,437.3 598.5,443.1 667.9,443.7 790,449.5 843.1,451.5"/>
<polyline points="81.5,449.5 259.9,456.5 369.5,457.5 438.5,458.8 547.8,462.1 598.5,463.4 667.9,464.6 790,469.2 843.1,474"/>
<polyline points="81.5,476 259.9,478 369.5,479.8 438.5,480.3 547.8,483.6 598.5,483.6 667.9,486.1 790,495.7 843.1,493.2"/>
<polyline points="81.5,505.5 259.9,508.8 369.5,511.9 438.5,510.8 547.8,514.6 598.5,516.9 667.9,515.6 790,521.4 843.1,524"/>
<polyline points="81.5,534.6 259.9,539.9 369.5,540.9 438.5,541.7 547.8,542.9 598.5,545.4 667.9,545.4 790,547.5 843.1,551.3"/>
<polyline points="81.5,563.9 259.9,568.9 369.5,571.2 438.5,571.2 547.8,572.5 598.5,574 667.9,575 790,575 843.1,575"/>
<polyline points="81.5,585.9 259.9,590.2 369.5,591.7 438.5,592.9 547.8,592.9 598.5,592.7 667.9,592.7 790,590.9 843.1,590.9"/>
</g>
<g id="median-dots" fill="#008000">
<circle cx="259.9" cy="245.8" r="7.6"/>
<circle cx="369.5" cy="250.3" r="7.6"/>
<circle cx="438.5" cy="254.6" r="7.6"/>
<circle cx="547.8" cy="262.7" r="7.6"/>
<circle cx="598.5" cy="266" r="7.6"/>
<circle cx="667.9" cy="270.5" r="7.6"/>
<circle cx="790" cy="283.7" r="7.6"/>
<circle cx="843.1" cy="288.2" r="7.6"/>
<circle cx="259.9" cy="294.2" r="7.6"/>
<circle cx="369.5" cy="300.1" r="7.6"/>
<circle cx="438.5" cy="305.1" r="7.6"/>
<circle cx="547.8" cy="309.4" r="7.6"/>
<circle cx="598.5" cy="310.7" r="7.6"/>
<circle cx="667.9" cy="316.5" r="7.6"/>
<circle cx="790" cy="327.4" r="7.6"/>
<circle cx="843.1" cy="328.4" r="7.6"/>
<circle cx="259.9" cy="324.5" r="7.6"/>
<circle cx="369.5" cy="331.2" r="7.6"/>
<circle cx="438.5" cy="334.7" r="7.6"/>
<circle cx="547.8" cy="341.8" r="7.6"/>
<circle cx="598.5" cy="341.8" r="7.6"/>
<circle cx="667.9" cy="346.1" r="7.6"/>
<circle cx="790" cy="353.6" r="7.6"/>
<circle cx="843.1" cy="356.9" r="7.6"/>
<circle cx="259.9" cy="347.5" r="7.6"/>
<circle cx="369.5" cy="353.6" r="7.6"/>
<circle cx="438.5" cy="354.9" r="7.6"/>
<circle cx="547.8" cy="360.7" r="7.6"/>
<circle cx="598.5" cy="364" r="7.6"/>
<circle cx="667.9" cy="366.3" r="7.6"/>
<circle cx="790" cy="375.5" r="7.6"/>
<circle cx="843.1" cy="380.8" r="7.6"/>
<circle cx="259.9" cy="375.9" r="7.6"/>
<circle cx="369.5" cy="381.1" r="7.6"/>
<circle cx="438.5" cy="385.2" r="7.6"/>
<circle cx="547.8" cy="390.6" r="7.6"/>
<circle cx="598.5" cy="392.6" r="7.6"/>
<circle cx="667.9" cy="397.2" r="7.6"/>
<circle cx="790" cy="407" r="7.6"/>
<circle cx="843.1" cy="409.8" r="7.6"/>
<circle cx="259.9" cy="404.5" r="7.6"/>
<circle cx="369.5" cy="407" r="7.6"/>
<circle cx="438.5" cy="409" r="7.6"/>
<circle cx="547.8" cy="412.8" r="7.6"/>
<circle cx="598.5" cy="414.9" r="7.6"/>
<circle cx="667.9" cy="418.4" r="7.6"/>
<circle cx="790" cy="428" r="7.6"/>
<circle cx="843.1" cy="430" r="7.6"/>
<circle cx="259.9" cy="430.5" r="7.6"/>
<circle cx="369.5" cy="431.8" r="7.6"/>
<circle cx="438.5" cy="435.1" r="7.6"/>
<circle cx="547.8" cy="437.3" r="7.6"/>
<circle cx="598.5" cy="443.1" r="7.6"/>
<circle cx="667.9" cy="443.7" r="7.6"/>
<circle cx="790" cy="449.5" r="7.6"/>
<circle cx="843.1" cy="451.5" r="7.6"/>
<circle cx="259.9" cy="456.5" r="7.6"/>
<circle cx="369.5" cy="457.5" r="7.6"/>
<circle cx="438.5" cy="458.8" r="7.6"/>
<circle cx="547.8" cy="462.1" r="7.6"/>
<circle cx="598.5" cy="463.4" r="7.6"/>
<circle cx="667.9" cy="464.6" r="7.6"/>
<circle cx="790" cy="469.2" r="7.6"/>
<circle cx="843.1" cy="474" r="7.6"/>
<circle cx="259.9" cy="478" r="7.6"/>
<circle cx="369.5" cy="479.8" r="7.6"/>
<circle cx="438.5" cy="480.3" r="7.6"/>
<circle cx="547.8" cy="483.6" r="7.6"/>
<circle cx="598.5" cy="483.6" r="7.6"/>
<circle cx="667.9" cy="486.1" r="7.6"/>
<circle cx="790" cy="495.7" r="7.6"/>
<circle cx="843.1" cy="493.2" r="7.6"/>
<circle cx="259.9" cy="508.8" r="7.6"/>
<circle cx="369.5" cy="511.9" r="7.6"/>
<circle cx="438.5" cy="510.8" r="7.6"/>
<circle cx="547.8" cy="514.6" r="7.6"/>
<circle cx="598.5" cy="516.9" r="7.6"/>
<circle cx="667.9" cy="515.6" r="7.6"/>
<circle cx="790" cy="521.4" r="7.6"/>
<circle cx="843.1" cy="524" r="7.6"/>
<circle cx="259.9" cy="539.9" r="7.6"/>
<circle cx="369.5" cy="540.9" r="7.6"/>
<circle cx="438.5" cy="541.7" r="7.6"/>
<circle cx="547.8" cy="542.9" r="7.6"/>
<circle cx="598.5" cy="545.4" r="7.6"/>
<circle cx="667.9" cy="545.4" r="7.6"/>
<circle cx="790" cy="547.5" r="7.6"/>
<circle cx="843.1" cy="551.3" r="7.6"/>
<circle cx="259.9" cy="568.9" r="7.6"/>
<circle cx="369.5" cy="571.2" r="7.6"/>
<circle cx="438.5" cy="571.2" r="7.6"/>
<circle cx="547.8" cy="572.5" r="7.6"/>
<circle cx="598.5" cy="574" r="7.6"/>
<circle cx="667.9" cy="575" r="7.6"/>
<circle cx="790" cy="575" r="7.6"/>
<circle cx="843.1" cy="575" r="7.6"/>
<circle cx="259.9" cy="590.2" r="7.6"/>
<circle cx="369.5" cy="591.7" r="7.6"/>
<circle cx="438.5" cy="592.9" r="7.6"/>
<circle cx="547.8" cy="592.9" r="7.6"/>
<circle cx="598.5" cy="592.7" r="7.6"/>
<circle cx="667.9" cy="592.7" r="7.6"/>
<circle cx="790" cy="590.9" r="7.6"/>
<circle cx="843.1" cy="590.9" r="7.6"/>
</g>
<g id="axes" fill="none" stroke="#1a1a1a" stroke-width="1.4">
<rect x="80.7" y="52" width="917.9" height="711"/>
</g>
<g id="legend">
<rect x="722" y="69" width="241.5" height="106.3" fill="#fff" stroke="#1a1a1a" stroke-width="1.4"/>
<circle cx="753.5" cy="100.4" r="11" fill="#008000"/>
<circle cx="753.5" cy="148.1" r="11" fill="#c3c3c3"/>
</g>
<g id="labels">
<text x="76" y="774.4" font-size="40" text-anchor="end">0</text>
<text x="76" y="632.2" font-size="40" text-anchor="end">1</text>
<text x="76" y="490" font-size="40" text-anchor="end">2</text>
<text x="76" y="347.8" font-size="40" text-anchor="end">3</text>
<text x="76" y="205.6" font-size="40" text-anchor="end">4</text>
<text x="76" y="63.4" font-size="40" text-anchor="end">5</text>
<text x="281.4" y="813" font-size="40">10</text>
<text x="325.4" y="793" font-size="28.2">3</text>
<text x="510.8" y="813" font-size="40">10</text>
<text x="554.8" y="793" font-size="28.2">4</text>
<text x="740.3" y="813" font-size="40">10</text>
<text x="784.3" y="793" font-size="28.2">5</text>
<text x="79.6" y="42.4" font-size="40">x 10</text>
<text x="154.6" y="20" font-size="28.2">-5</text>
<text x="538.6" y="861.6" font-size="46.7" text-anchor="middle" letter-spacing="0.45">Time (s)</text>
<text transform="translate(37.3 409.5) rotate(-90)" font-size="46.7" text-anchor="middle" letter-spacing="0.15">Conductance (S)</text>
<text x="783.6" y="112.2" font-size="37.6">Median G</text>
<text x="783.4" y="157" font-size="37.6">Raw data</text>
</g>
</svg>
</body>
</html>
